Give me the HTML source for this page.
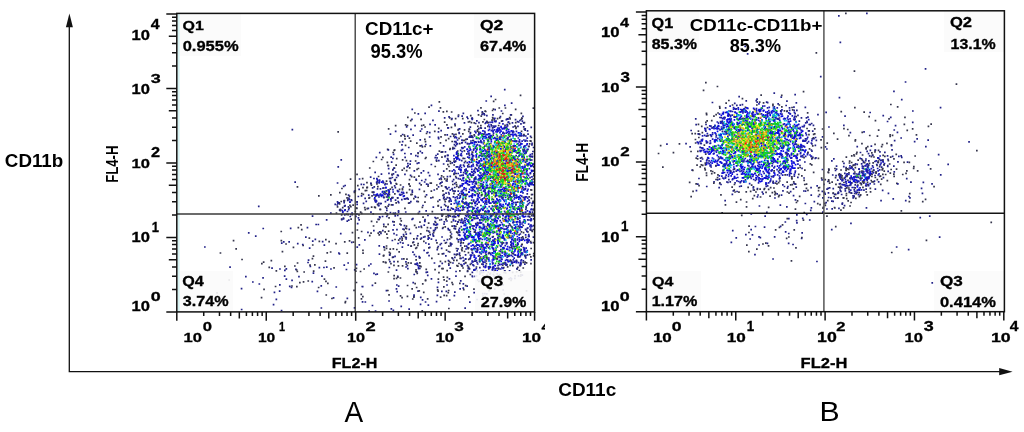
<!DOCTYPE html>
<html><head><meta charset="utf-8"><title>CD11b vs CD11c flow cytometry</title>
<style>html,body{margin:0;padding:0;background:#fff;width:1024px;height:432px;overflow:hidden}svg{display:block}</style>
</head><body>
<svg width="1024" height="432" viewBox="0 0 1024 432">
<rect width="1024" height="432" fill="#fff"/>
<clipPath id="ca"><rect x="176.8" y="13.4" width="357.8" height="298.5"/></clipPath>
<g clip-path="url(#ca)">
<path stroke="#35354c" stroke-width="1.7" d="M476.3 271.6h1.7M504.3 219.7h1.7M318.5 241.4h1.7M408.3 184.4h1.7M471.3 152.0h1.7M443.0 286.8h1.7M362.2 253.1h1.7M358.1 214.9h1.7M398.9 142.0h1.7M509.2 118.9h1.7M404.7 232.0h1.7M473.7 246.7h1.7M520.7 200.7h1.7M530.3 248.5h1.7M525.5 230.0h1.7M479.7 127.9h1.7M474.4 240.7h1.7M532.9 175.6h1.7M406.6 296.4h1.7M455.6 248.5h1.7M399.7 185.0h1.7M500.2 280.6h1.7M466.6 212.2h1.7M395.3 165.1h1.7M521.3 239.8h1.7M453.3 228.5h1.7M399.6 218.6h1.7M300.2 224.8h1.7M415.5 180.1h1.7M311.6 258.7h1.7M350.3 219.2h1.7M422.9 292.4h1.7M498.4 108.0h1.7M414.8 161.0h1.7M268.4 267.3h1.7M470.6 122.6h1.7M424.5 158.5h1.7M484.7 252.8h1.7M487.0 126.3h1.7M514.3 275.8h1.7M388.7 178.3h1.7M397.0 261.6h1.7M408.8 167.9h1.7M345.1 194.3h1.7M376.1 183.9h1.7M329.8 252.0h1.7M419.0 262.8h1.7M473.1 187.5h1.7M512.0 265.6h1.7M370.6 185.2h1.7M515.8 271.9h1.7M353.6 192.3h1.7M509.3 265.4h1.7M424.6 141.7h1.7M438.5 151.2h1.7M486.0 156.4h1.7M401.4 170.1h1.7M475.6 267.0h1.7M491.5 284.8h1.7M434.2 269.7h1.7M528.4 213.7h1.7M386.6 214.8h1.7M399.6 278.0h1.7M393.1 265.4h1.7M458.2 138.3h1.7M446.5 277.3h1.7M454.8 200.1h1.7M517.0 267.4h1.7M325.0 239.6h1.7M394.0 213.8h1.7M515.2 127.4h1.7M261.0 263.6h1.7M275.5 270.9h1.7M366.5 187.4h1.7M356.2 174.4h1.7M362.5 194.3h1.7M382.6 255.8h1.7M390.1 263.7h1.7M510.2 280.3h1.7M493.3 276.2h1.7M482.5 136.9h1.7M386.8 149.4h1.7M385.6 197.0h1.7M440.8 185.9h1.7M424.1 202.1h1.7M389.0 255.0h1.7M448.1 166.5h1.7M327.0 283.3h1.7M447.9 263.9h1.7M419.1 222.1h1.7M403.3 229.7h1.7M443.8 122.2h1.7M494.7 99.5h1.7M491.8 117.5h1.7M480.4 116.1h1.7M489.2 136.1h1.7M370.8 207.2h1.7M391.2 197.6h1.7M471.8 152.3h1.7M522.7 232.6h1.7M520.5 113.3h1.7M508.6 232.5h1.7M340.8 219.0h1.7M464.8 258.9h1.7M496.3 273.9h1.7M516.2 176.8h1.7M374.5 283.1h1.7M467.9 259.3h1.7M455.3 182.5h1.7M389.4 249.1h1.7M424.0 139.4h1.7M335.2 243.7h1.7M522.6 247.5h1.7M418.1 176.2h1.7M410.8 176.6h1.7M436.8 247.9h1.7M302.7 281.8h1.7M492.4 135.2h1.7M439.6 142.9h1.7M507.4 122.3h1.7M366.1 182.7h1.7M360.4 294.3h1.7M484.5 192.9h1.7M447.8 138.7h1.7M387.8 128.9h1.7M432.8 232.7h1.7M481.1 264.1h1.7M384.5 262.4h1.7M523.4 129.2h1.7M401.2 297.6h1.7M447.3 206.6h1.7M417.3 197.5h1.7M532.5 170.7h1.7M445.9 281.1h1.7M423.0 241.3h1.7M532.9 202.6h1.7M395.7 278.3h1.7M530.8 190.0h1.7M445.0 219.6h1.7M439.6 261.3h1.7M351.6 232.7h1.7M444.4 226.9h1.7M453.0 260.4h1.7M517.9 159.7h1.7M468.8 179.7h1.7M464.8 262.8h1.7M532.7 201.8h1.7M472.9 149.2h1.7M462.9 289.6h1.7M372.7 226.0h1.7M307.4 281.0h1.7M404.1 208.3h1.7M508.8 117.5h1.7M445.4 180.7h1.7M502.6 220.5h1.7M294.0 266.0h1.7M472.6 140.7h1.7M357.8 237.9h1.7M347.3 214.7h1.7M496.7 118.7h1.7M351.5 214.6h1.7M411.3 288.9h1.7M445.3 216.6h1.7M473.8 232.0h1.7M340.8 214.8h1.7M382.0 157.3h1.7M467.6 219.9h1.7M445.9 168.9h1.7M495.3 247.8h1.7M474.3 141.9h1.7M232.7 240.6h1.7M449.4 216.1h1.7M392.4 213.4h1.7M416.0 143.2h1.7M479.1 258.1h1.7M235.3 248.8h1.7M493.1 251.0h1.7M472.1 261.7h1.7M435.8 161.2h1.7M473.2 255.0h1.7"/>
<path stroke="#222288" stroke-width="1.7" d="M229.2 267.1h1.7M447.3 228.5h1.7M428.9 132.7h1.7M491.1 219.7h1.7M471.4 136.9h1.7M532.7 147.5h1.7M455.5 166.9h1.7M443.8 204.7h1.7M252.0 282.0h1.7M484.9 255.3h1.7M448.0 265.2h1.7M522.9 126.9h1.7M393.2 261.7h1.7M420.4 226.3h1.7M467.3 210.4h1.7M426.5 131.8h1.7M474.3 276.4h1.7M490.3 124.9h1.7M427.8 231.1h1.7M323.1 267.5h1.7M416.1 201.3h1.7M395.7 270.2h1.7M437.2 174.4h1.7M492.8 267.5h1.7M420.9 180.5h1.7M531.1 179.9h1.7M396.9 276.4h1.7M407.9 147.5h1.7M464.3 308.1h1.7M471.4 252.3h1.7M497.4 280.8h1.7M423.4 225.2h1.7M401.0 199.6h1.7M460.1 264.5h1.7M440.8 214.6h1.7M468.6 129.5h1.7M446.1 221.0h1.7M462.2 257.6h1.7M427.5 305.1h1.7M452.5 196.9h1.7M396.9 215.4h1.7M482.9 266.7h1.7M410.1 129.4h1.7M471.5 272.3h1.7M532.0 170.8h1.7M531.1 230.4h1.7M419.6 131.1h1.7M457.7 129.3h1.7M382.0 191.7h1.7M337.4 166.8h1.7M347.7 195.1h1.7M393.0 213.5h1.7M433.5 230.6h1.7M316.6 291.3h1.7M394.8 172.0h1.7M455.9 144.3h1.7M325.9 267.1h1.7M410.4 246.1h1.7M473.3 292.6h1.7M432.4 235.4h1.7M476.8 279.8h1.7M437.8 138.7h1.7M468.6 155.1h1.7M445.2 193.1h1.7M524.4 128.8h1.7M443.5 221.9h1.7M525.0 209.4h1.7M502.2 284.8h1.7M441.8 228.3h1.7M486.6 155.4h1.7M358.5 244.8h1.7M523.3 135.7h1.7M532.3 214.7h1.7M380.1 233.3h1.7M486.1 246.6h1.7M526.8 254.9h1.7M439.4 244.6h1.7M349.4 216.5h1.7M357.6 217.9h1.7M346.6 211.5h1.7M413.1 296.6h1.7M273.6 292.3h1.7M532.6 237.1h1.7M306.6 227.6h1.7M367.1 232.4h1.7M437.6 282.3h1.7M457.4 191.2h1.7M295.1 269.3h1.7M504.4 127.7h1.7M460.9 160.6h1.7M512.3 127.0h1.7M493.9 289.1h1.7M466.3 286.1h1.7M374.7 311.0h1.7M380.5 195.4h1.7M478.4 211.2h1.7M275.5 299.3h1.7M412.7 242.2h1.7M417.7 268.6h1.7M407.3 199.2h1.7M529.3 156.7h1.7M410.2 153.9h1.7M434.2 217.5h1.7M461.5 183.8h1.7M487.6 219.4h1.7M420.4 172.9h1.7M510.8 103.1h1.7M460.9 147.7h1.7M400.6 150.3h1.7M513.6 216.3h1.7M517.7 275.8h1.7M443.2 224.1h1.7M447.6 251.5h1.7M524.0 264.2h1.7M449.1 198.7h1.7M522.4 225.5h1.7M436.0 224.3h1.7M290.7 287.5h1.7M262.4 228.5h1.7M373.4 186.9h1.7M394.4 215.8h1.7M391.4 175.0h1.7M465.0 202.7h1.7M466.3 139.1h1.7M446.3 181.0h1.7M482.6 262.3h1.7M393.8 185.8h1.7M354.4 190.9h1.7M288.9 286.4h1.7M531.6 212.2h1.7M407.3 165.9h1.7M347.6 206.9h1.7M465.7 216.4h1.7M461.0 220.1h1.7M394.8 131.4h1.7M429.5 145.8h1.7M511.6 122.9h1.7M520.4 249.6h1.7M361.7 301.9h1.7M416.0 271.8h1.7M464.8 215.5h1.7M423.3 250.4h1.7M414.3 196.3h1.7M462.4 148.0h1.7M386.6 197.0h1.7M347.3 263.0h1.7M479.0 267.6h1.7M406.5 265.6h1.7M459.9 280.9h1.7M447.8 192.6h1.7M423.8 182.0h1.7M377.3 219.3h1.7M420.9 129.0h1.7M240.8 309.5h1.7M522.1 116.3h1.7M204.0 247.0h1.7M291.2 280.4h1.7M478.2 223.0h1.7M453.8 137.6h1.7M386.0 210.3h1.7M480.7 244.6h1.7M473.6 171.3h1.7M510.9 252.3h1.7M454.0 292.1h1.7M458.1 169.2h1.7M443.8 117.9h1.7M288.3 241.8h1.7M519.5 211.6h1.7M488.7 278.9h1.7M453.3 158.9h1.7M418.4 265.8h1.7M475.9 149.2h1.7M455.1 276.1h1.7M498.2 216.4h1.7M450.7 237.3h1.7M388.4 192.5h1.7M390.8 162.1h1.7M417.5 113.9h1.7M446.5 197.7h1.7M506.7 126.0h1.7M475.7 276.0h1.7M402.4 187.0h1.7"/>
<path stroke="#1c1cb0" stroke-width="1.7" d="M471.6 154.6h1.7M485.8 219.7h1.7M496.6 234.7h1.7M480.6 195.7h1.7M452.5 209.2h1.7M488.7 232.6h1.7M490.6 136.3h1.7M481.5 239.5h1.7M460.4 153.8h1.7M480.5 219.7h1.7M348.6 199.7h1.7M525.1 140.4h1.7M484.2 190.6h1.7M341.9 212.4h1.7M484.9 265.7h1.7M488.8 266.9h1.7M475.2 233.0h1.7M517.5 138.0h1.7M474.5 168.1h1.7M456.7 166.9h1.7M480.9 242.5h1.7M470.8 200.2h1.7M479.9 257.0h1.7M471.7 156.3h1.7M399.7 195.1h1.7M475.3 211.4h1.7M467.4 214.1h1.7M494.9 207.0h1.7M459.7 170.2h1.7M526.3 242.1h1.7M475.0 132.7h1.7M523.4 251.0h1.7M515.6 131.3h1.7M462.7 209.7h1.7M491.5 269.8h1.7M493.2 213.4h1.7M471.0 165.7h1.7M499.5 137.9h1.7M462.8 232.4h1.7M496.0 234.2h1.7M508.8 195.7h1.7M482.8 150.9h1.7M517.9 152.9h1.7M526.1 182.9h1.7M388.0 190.0h1.7M484.2 260.0h1.7M476.2 165.7h1.7M499.5 207.5h1.7M496.0 206.7h1.7M528.7 214.5h1.7M455.8 210.1h1.7M472.9 265.7h1.7M519.1 218.1h1.7M470.7 211.4h1.7M456.7 198.4h1.7M388.2 192.0h1.7M527.7 175.6h1.7M512.4 146.0h1.7M509.6 149.4h1.7M499.2 205.5h1.7M529.7 225.4h1.7M485.5 231.6h1.7M478.4 166.2h1.7M521.7 186.7h1.7M514.1 209.7h1.7M497.6 230.3h1.7M487.4 178.7h1.7M472.5 175.2h1.7M485.0 244.1h1.7M461.1 191.6h1.7M528.5 156.0h1.7M453.5 173.8h1.7M517.9 249.5h1.7M516.8 242.9h1.7M527.3 216.3h1.7M374.8 200.1h1.7M488.2 199.9h1.7M480.0 260.4h1.7M505.2 199.8h1.7M468.6 181.9h1.7M467.9 235.8h1.7M464.1 169.9h1.7M530.3 218.8h1.7M472.1 209.2h1.7M507.1 119.1h1.7M492.6 244.9h1.7M499.0 216.3h1.7M461.4 185.6h1.7M462.7 178.0h1.7M453.3 225.9h1.7M382.0 181.0h1.7M392.3 192.0h1.7M523.8 189.0h1.7M492.2 131.6h1.7M473.7 240.4h1.7M507.4 155.4h1.7M480.4 153.1h1.7M502.3 128.4h1.7M531.8 164.1h1.7M475.3 179.2h1.7M375.8 182.4h1.7M519.2 224.6h1.7M478.3 236.4h1.7M517.6 262.6h1.7M472.3 237.2h1.7M519.4 181.9h1.7M518.7 152.3h1.7M457.2 155.5h1.7M529.1 226.4h1.7M493.5 170.2h1.7M477.1 191.0h1.7M482.1 155.9h1.7M459.2 175.7h1.7M493.7 129.9h1.7M530.0 220.7h1.7M481.8 186.4h1.7M514.4 228.4h1.7M511.1 201.1h1.7M501.9 228.4h1.7M460.2 220.3h1.7M524.7 186.7h1.7M456.7 140.0h1.7M485.0 122.6h1.7M494.7 255.7h1.7M454.9 214.2h1.7M479.5 132.5h1.7M471.4 119.5h1.7M472.4 187.1h1.7M487.0 223.7h1.7M522.3 216.6h1.7M501.2 244.3h1.7M374.1 200.7h1.7M478.2 241.0h1.7M392.1 197.7h1.7M499.4 220.7h1.7M512.6 209.0h1.7M509.2 247.5h1.7M503.6 239.9h1.7M523.3 249.5h1.7M456.0 159.2h1.7M497.5 200.7h1.7M470.6 249.1h1.7M459.9 243.3h1.7M470.7 159.7h1.7M513.2 235.1h1.7M527.6 203.8h1.7M479.2 146.0h1.7M474.6 248.7h1.7M503.1 225.3h1.7M508.6 223.8h1.7M524.3 256.3h1.7M480.6 246.4h1.7M511.0 246.1h1.7M490.5 130.7h1.7M465.4 180.9h1.7M480.9 232.0h1.7M475.6 260.7h1.7M509.8 230.4h1.7M499.9 269.0h1.7M471.3 225.8h1.7M518.9 265.3h1.7M494.6 226.7h1.7M503.5 133.3h1.7M473.0 240.2h1.7M512.0 140.8h1.7M478.0 142.1h1.7M472.0 160.4h1.7M515.2 171.9h1.7M382.4 182.3h1.7M461.6 148.5h1.7M523.6 199.6h1.7M468.1 153.2h1.7M523.5 152.0h1.7M487.1 172.4h1.7M524.7 216.4h1.7M482.4 247.7h1.7M489.3 238.7h1.7M503.7 201.5h1.7M485.5 144.9h1.7M447.0 207.7h1.7M493.8 121.4h1.7M490.4 215.9h1.7M466.5 149.2h1.7M490.8 183.7h1.7M448.1 187.5h1.7M403.4 195.8h1.7M489.6 185.0h1.7M519.8 147.7h1.7M402.4 192.6h1.7M514.5 255.1h1.7M464.3 171.2h1.7M498.1 182.2h1.7M473.8 185.6h1.7M375.4 194.9h1.7M513.7 206.9h1.7M484.2 132.4h1.7M491.2 122.2h1.7M502.8 248.9h1.7M456.6 204.5h1.7M492.2 127.5h1.7M465.8 246.1h1.7M509.0 247.6h1.7M508.6 181.2h1.7M473.7 248.3h1.7"/>
<path stroke="#0a0ae6" stroke-width="1.7" d="M506.5 132.4h1.7M491.8 201.9h1.7M515.1 179.8h1.7M500.7 151.2h1.7M494.8 174.8h1.7M491.4 183.4h1.7M508.9 207.2h1.7M381.5 192.0h1.7M495.8 202.0h1.7M501.4 128.9h1.7M517.6 132.9h1.7M376.8 180.5h1.7M521.1 206.2h1.7M497.0 190.6h1.7M456.7 157.6h1.7M489.7 178.1h1.7M504.7 195.4h1.7M493.4 156.8h1.7M512.1 165.8h1.7M488.1 160.9h1.7M483.6 177.6h1.7M387.1 195.7h1.7M515.2 204.5h1.7M520.4 170.3h1.7M506.9 189.4h1.7M485.7 200.1h1.7M511.0 159.8h1.7M499.2 196.4h1.7M461.3 201.2h1.7M528.3 240.2h1.7M494.7 227.6h1.7M495.0 195.5h1.7M475.5 201.3h1.7M474.6 191.6h1.7M458.9 193.5h1.7M490.3 224.7h1.7M520.6 208.8h1.7M509.6 192.1h1.7M457.2 158.5h1.7M498.3 261.1h1.7M490.0 232.4h1.7M475.7 241.3h1.7M503.1 200.2h1.7M496.4 132.0h1.7M491.3 182.9h1.7M463.7 229.3h1.7M527.9 185.2h1.7M496.9 152.3h1.7M493.0 252.2h1.7M470.7 249.4h1.7M493.1 179.5h1.7M474.2 203.3h1.7M503.4 252.0h1.7M507.7 131.3h1.7M516.2 230.9h1.7M376.4 194.2h1.7M508.6 210.2h1.7M512.0 236.1h1.7M493.2 194.0h1.7M375.8 195.6h1.7M478.6 175.8h1.7M511.9 206.7h1.7M498.8 264.7h1.7M483.3 171.0h1.7M493.9 184.4h1.7M490.0 221.5h1.7M484.8 199.3h1.7M482.5 224.4h1.7M471.7 184.0h1.7M523.4 146.4h1.7M464.6 224.6h1.7M501.9 198.8h1.7M490.1 254.7h1.7M515.1 150.8h1.7M475.4 156.9h1.7M492.4 219.9h1.7M468.5 181.5h1.7M505.0 254.0h1.7M512.4 219.8h1.7M484.1 163.7h1.7M511.2 189.2h1.7M530.0 166.3h1.7M486.7 134.7h1.7M505.3 161.1h1.7M483.9 239.4h1.7M510.7 134.5h1.7M500.2 242.5h1.7M478.5 160.8h1.7M480.8 160.7h1.7M519.8 168.0h1.7M495.2 215.4h1.7M477.9 236.0h1.7M488.9 156.8h1.7M505.8 249.2h1.7M500.3 261.3h1.7M485.9 237.9h1.7M505.5 253.7h1.7M500.3 127.5h1.7M515.0 140.9h1.7M517.1 166.7h1.7M513.3 168.5h1.7M497.5 184.7h1.7M495.3 194.8h1.7M492.9 172.0h1.7M516.6 153.0h1.7M480.0 190.2h1.7M473.9 142.2h1.7M496.2 130.5h1.7M507.0 230.1h1.7M512.8 183.6h1.7M523.4 173.2h1.7M488.7 203.2h1.7M494.6 257.7h1.7M489.7 180.5h1.7M484.0 153.6h1.7M523.0 156.4h1.7M471.0 159.6h1.7M524.5 197.2h1.7M481.8 188.3h1.7M473.4 237.0h1.7M519.3 133.1h1.7M497.9 189.9h1.7M493.5 225.2h1.7M496.4 270.7h1.7M518.4 173.7h1.7M521.4 171.3h1.7M486.9 172.1h1.7M498.4 210.7h1.7M506.0 229.5h1.7M509.4 186.5h1.7M517.1 180.4h1.7M503.1 248.1h1.7M375.6 194.9h1.7M504.5 151.7h1.7M472.7 240.7h1.7M524.8 184.4h1.7M485.8 204.2h1.7M513.1 252.0h1.7M468.7 236.4h1.7M502.6 237.7h1.7M504.2 178.3h1.7M471.6 190.5h1.7M490.4 168.3h1.7M503.2 137.2h1.7M501.7 137.1h1.7M480.7 177.7h1.7M512.2 236.8h1.7M502.5 237.3h1.7M478.2 202.2h1.7M498.9 199.5h1.7M498.0 207.4h1.7M480.9 142.4h1.7M478.1 245.2h1.7M470.7 196.0h1.7M469.0 227.3h1.7M485.7 152.9h1.7M507.1 214.1h1.7M494.9 181.4h1.7M481.9 138.8h1.7M494.7 205.8h1.7M488.1 166.8h1.7M466.8 208.3h1.7M526.6 174.4h1.7M496.6 258.8h1.7M509.1 167.9h1.7M467.9 230.5h1.7M492.7 248.3h1.7M487.8 133.9h1.7"/>
<path stroke="#18b8e8" stroke-width="1.7" d="M508.8 232.8h1.7M494.4 161.7h1.7M475.3 179.3h1.7M485.4 248.5h1.7M513.0 156.4h1.7M508.0 140.3h1.7M516.2 187.7h1.7M526.0 161.1h1.7M512.7 179.8h1.7M500.3 159.8h1.7M507.5 152.6h1.7M496.7 205.9h1.7M496.7 160.9h1.7M486.3 217.5h1.7M502.8 205.5h1.7M482.1 164.5h1.7M484.5 167.5h1.7M488.7 177.5h1.7M523.9 166.1h1.7M496.4 148.7h1.7M520.2 155.2h1.7M492.5 224.7h1.7M518.5 165.6h1.7M505.2 175.9h1.7M504.9 240.1h1.7M503.8 192.7h1.7M515.7 194.9h1.7M510.4 175.6h1.7M489.1 248.8h1.7M489.2 167.0h1.7M507.9 154.8h1.7M488.3 168.9h1.7M475.3 239.4h1.7M486.4 158.3h1.7M466.3 227.4h1.7M492.3 181.6h1.7M505.0 173.2h1.7M509.8 264.3h1.7M488.8 135.6h1.7M473.3 249.7h1.7M522.3 173.8h1.7M503.5 172.8h1.7M517.5 148.8h1.7"/>
<path stroke="#18d418" stroke-width="1.7" d="M478.8 229.3h1.7M502.2 178.0h1.7M511.0 157.7h1.7M507.6 163.5h1.7M519.7 185.4h1.7M502.4 263.1h1.7M492.8 176.1h1.7M507.5 184.2h1.7M467.6 220.2h1.7M501.6 150.5h1.7M502.1 162.7h1.7M491.0 193.4h1.7M498.9 241.3h1.7M480.3 247.7h1.7M517.7 176.2h1.7M514.4 240.2h1.7M508.7 164.7h1.7M495.8 150.8h1.7M495.9 231.0h1.7M479.5 189.8h1.7M522.0 149.4h1.7M526.4 150.8h1.7M513.7 173.4h1.7M495.8 193.3h1.7M502.4 169.9h1.7M484.9 157.3h1.7M506.8 214.9h1.7M512.5 146.9h1.7M476.5 212.1h1.7M490.7 167.9h1.7M505.1 217.9h1.7M508.9 231.4h1.7M510.5 211.9h1.7M480.2 149.7h1.7M509.4 260.9h1.7M493.6 162.4h1.7M494.8 216.2h1.7M509.3 170.8h1.7M498.6 142.3h1.7M488.6 151.0h1.7M504.6 188.3h1.7M491.4 186.1h1.7M509.3 174.6h1.7M508.1 169.6h1.7M485.5 184.5h1.7M500.1 156.1h1.7M514.6 228.2h1.7M508.1 183.4h1.7M511.7 229.5h1.7M480.8 184.1h1.7M519.2 249.4h1.7M478.8 260.4h1.7M513.8 158.8h1.7M497.6 228.1h1.7M505.5 212.0h1.7M501.2 177.0h1.7M501.4 166.2h1.7M517.5 178.1h1.7M483.3 142.6h1.7M515.7 169.7h1.7M473.6 186.8h1.7M496.7 173.4h1.7M485.3 250.9h1.7M470.7 206.7h1.7M505.3 146.2h1.7M495.6 144.1h1.7M508.1 177.3h1.7M499.2 217.1h1.7M495.2 145.2h1.7M485.1 199.1h1.7M501.4 236.4h1.7M510.1 147.2h1.7M529.2 159.2h1.7M509.7 209.4h1.7M497.9 240.1h1.7M501.4 173.8h1.7M507.2 167.0h1.7M496.0 187.1h1.7M484.2 189.9h1.7M512.2 170.6h1.7M506.4 237.4h1.7M506.6 156.0h1.7M499.4 193.4h1.7M510.8 167.7h1.7M511.3 157.8h1.7M516.6 175.9h1.7M502.4 237.6h1.7M496.2 203.5h1.7M496.6 164.2h1.7M517.5 162.3h1.7M487.1 238.3h1.7M498.4 182.9h1.7M504.2 157.6h1.7M496.6 159.0h1.7M493.7 225.4h1.7M530.5 163.2h1.7M385.5 190.9h1.7M503.9 173.0h1.7M505.7 178.7h1.7M500.0 167.9h1.7M506.4 176.0h1.7M501.1 146.6h1.7M482.5 218.1h1.7M517.3 191.8h1.7M526.2 169.6h1.7M519.5 185.5h1.7M465.1 179.4h1.7M510.5 159.4h1.7M509.0 162.4h1.7M491.3 243.5h1.7M501.5 242.0h1.7M505.9 234.2h1.7M485.2 242.7h1.7M513.7 140.5h1.7M517.3 187.8h1.7M497.6 176.1h1.7M513.4 168.0h1.7M526.2 156.6h1.7M485.3 202.3h1.7M513.7 172.8h1.7M484.0 255.8h1.7M491.4 157.9h1.7M501.6 142.5h1.7M498.7 173.5h1.7M506.2 153.7h1.7M491.2 197.0h1.7M485.9 167.7h1.7M495.5 177.2h1.7M484.8 221.8h1.7M494.7 186.8h1.7M510.5 159.8h1.7M491.3 190.7h1.7M501.6 249.3h1.7M507.4 176.5h1.7M487.1 141.4h1.7M519.7 171.0h1.7M494.4 179.3h1.7"/>
<path stroke="#e6e618" stroke-width="1.7" d="M497.0 147.2h1.7M490.0 188.7h1.7M505.5 161.4h1.7M504.4 158.3h1.7M497.0 163.5h1.7M513.5 160.2h1.7M487.9 176.3h1.7M497.4 192.6h1.7M496.7 234.6h1.7M523.7 173.2h1.7M520.1 159.6h1.7M500.6 147.0h1.7M507.0 166.4h1.7M505.9 164.2h1.7M498.3 245.4h1.7M497.6 172.4h1.7M462.4 194.0h1.7M505.4 191.2h1.7M502.6 174.5h1.7M516.1 175.4h1.7M511.2 178.6h1.7M495.3 170.6h1.7M514.6 187.6h1.7M501.9 163.3h1.7M455.3 207.1h1.7M481.3 250.2h1.7M514.0 231.6h1.7M503.2 142.3h1.7M509.0 170.7h1.7M499.6 177.9h1.7M500.7 139.7h1.7M494.0 250.2h1.7M510.0 152.5h1.7M508.0 151.2h1.7M491.1 156.3h1.7M500.8 176.5h1.7M510.8 191.8h1.7M517.6 175.9h1.7M502.7 180.2h1.7M508.0 159.3h1.7M495.4 150.5h1.7M494.5 155.2h1.7M522.4 189.4h1.7M501.7 151.6h1.7"/>
<path stroke="#f49018" stroke-width="1.7" d="M499.9 143.7h1.7M512.1 146.8h1.7M479.3 238.4h1.7M507.4 157.0h1.7M522.2 200.4h1.7M495.8 176.7h1.7M483.3 148.2h1.7M497.9 175.6h1.7M486.3 151.0h1.7M508.9 190.0h1.7M499.4 231.0h1.7M501.6 193.7h1.7M507.4 159.7h1.7M497.4 181.2h1.7M499.2 158.2h1.7M511.8 150.1h1.7M502.6 147.6h1.7M495.8 170.2h1.7M498.9 179.5h1.7M499.4 156.2h1.7M511.8 189.5h1.7M507.1 160.7h1.7M506.1 174.8h1.7M470.7 219.5h1.7M485.8 162.1h1.7M509.0 175.5h1.7M492.7 177.1h1.7M496.7 182.2h1.7M522.7 161.3h1.7M497.7 196.3h1.7M493.3 156.0h1.7M487.8 170.1h1.7M509.1 165.3h1.7M498.2 158.0h1.7M512.7 190.6h1.7M507.4 168.8h1.7M509.0 172.4h1.7M528.1 163.9h1.7M504.5 174.3h1.7M504.2 191.3h1.7"/>
<path stroke="#e81818" stroke-width="1.7" d="M499.4 161.7h1.7M506.4 171.6h1.7M499.4 159.1h1.7M500.4 162.5h1.7M489.9 154.5h1.7M490.8 163.3h1.7M506.0 162.0h1.7M511.8 214.8h1.7M510.3 172.8h1.7M513.4 169.6h1.7M506.0 157.6h1.7M496.1 177.8h1.7M506.2 156.4h1.7M493.9 239.1h1.7M507.5 179.9h1.7M505.3 178.0h1.7M502.0 153.5h1.7M509.9 172.8h1.7M507.5 175.5h1.7M499.8 156.6h1.7M514.9 165.9h1.7M504.2 180.8h1.7M511.6 160.1h1.7M495.6 184.9h1.7M490.6 165.9h1.7M501.8 157.3h1.7M505.5 157.4h1.7M503.4 176.0h1.7M502.8 187.5h1.7"/>
<path stroke="#35354c" stroke-width="1.7" d="M532.9 218.8h1.7M532.6 242.7h1.7M403.5 135.0h1.7M414.0 113.0h1.7M532.9 253.6h1.7M403.0 258.8h1.7M393.3 221.9h1.7M468.1 158.0h1.7M328.3 241.6h1.7M492.2 118.3h1.7M520.6 231.8h1.7M498.9 117.8h1.7M347.1 199.3h1.7M523.6 122.6h1.7M376.7 204.3h1.7M475.8 145.5h1.7M532.8 255.8h1.7M444.2 134.8h1.7M477.9 281.5h1.7M296.0 286.7h1.7M496.6 277.3h1.7M374.5 207.6h1.7M399.7 295.9h1.7M427.3 186.2h1.7M493.1 279.3h1.7M457.7 235.0h1.7M531.4 231.3h1.7M503.9 189.4h1.7M457.2 130.0h1.7M391.1 174.3h1.7M337.3 131.8h1.7M440.8 175.9h1.7M318.0 195.8h1.7M437.5 279.1h1.7M241.2 259.5h1.7M496.1 258.4h1.7M523.5 149.2h1.7M453.2 161.1h1.7M397.9 240.2h1.7M385.7 181.2h1.7M491.7 110.5h1.7M422.2 217.1h1.7M364.4 209.7h1.7M486.2 274.6h1.7M479.3 252.7h1.7M481.9 275.5h1.7M302.3 245.5h1.7M421.6 146.9h1.7M530.0 256.8h1.7M521.5 181.2h1.7M408.7 189.6h1.7M455.9 232.1h1.7M451.3 189.1h1.7M450.7 119.5h1.7M482.2 296.1h1.7M392.3 152.5h1.7M511.8 272.3h1.7M424.7 280.0h1.7M352.6 242.1h1.7M401.4 238.3h1.7M475.7 168.8h1.7M471.0 162.1h1.7M526.9 242.0h1.7M498.3 225.3h1.7M477.0 126.3h1.7M453.5 173.4h1.7M469.9 242.7h1.7M466.7 143.7h1.7M496.5 246.9h1.7M520.5 253.3h1.7M480.0 125.7h1.7M417.4 201.7h1.7M408.7 179.7h1.7M291.1 286.0h1.7M362.1 250.4h1.7M398.7 189.3h1.7M445.2 140.4h1.7M413.0 238.9h1.7M414.9 248.3h1.7M501.3 284.4h1.7M491.2 120.2h1.7M438.2 266.4h1.7M419.9 233.8h1.7M454.9 176.6h1.7M350.0 206.7h1.7M449.7 244.2h1.7M336.7 206.8h1.7M477.7 114.8h1.7M393.9 150.0h1.7M521.3 244.4h1.7M487.4 122.6h1.7M357.0 185.7h1.7M456.8 156.4h1.7M441.1 268.7h1.7M520.4 135.9h1.7M445.8 295.6h1.7M455.0 226.4h1.7M354.5 211.5h1.7M317.8 287.5h1.7M404.7 145.3h1.7M292.6 247.3h1.7M485.0 196.2h1.7M482.1 121.8h1.7M447.4 216.9h1.7M326.4 252.8h1.7M437.9 128.3h1.7M425.7 133.5h1.7M468.4 129.0h1.7M492.6 109.2h1.7M394.8 125.7h1.7M481.2 186.4h1.7M465.1 139.3h1.7M520.9 244.7h1.7M442.5 111.8h1.7M422.8 125.1h1.7M390.6 204.8h1.7M360.8 231.5h1.7M343.9 241.9h1.7M515.8 136.0h1.7M457.7 115.0h1.7M453.1 174.3h1.7M392.0 169.5h1.7M448.9 239.0h1.7M382.9 255.4h1.7M424.2 127.0h1.7M393.3 275.6h1.7M486.0 121.3h1.7M401.6 189.6h1.7M341.9 207.7h1.7M484.3 111.2h1.7M420.7 227.5h1.7M467.6 122.0h1.7M467.4 244.4h1.7M453.1 193.6h1.7M392.5 248.8h1.7M415.1 271.6h1.7M356.1 202.0h1.7M529.0 254.5h1.7M366.0 187.6h1.7M368.2 198.2h1.7M410.1 194.7h1.7M506.8 266.9h1.7M431.5 211.7h1.7M471.2 249.9h1.7M455.3 173.5h1.7M471.6 212.4h1.7M427.3 235.8h1.7M341.1 188.5h1.7M473.9 214.6h1.7M394.0 193.8h1.7M453.5 191.3h1.7M383.6 247.7h1.7M487.4 272.4h1.7M216.2 292.9h1.7M448.5 261.7h1.7M457.6 241.9h1.7M467.3 248.7h1.7M467.8 154.0h1.7M285.2 244.0h1.7M263.2 289.4h1.7M348.7 240.8h1.7M387.3 206.2h1.7M404.0 136.5h1.7M467.8 247.8h1.7M516.0 234.0h1.7M479.2 273.4h1.7M372.5 161.5h1.7M493.9 278.8h1.7M437.5 205.7h1.7M393.2 278.7h1.7M314.0 264.9h1.7M504.2 264.2h1.7M467.9 267.6h1.7M492.6 199.6h1.7M532.5 108.1h1.7M424.5 196.7h1.7M499.8 276.9h1.7M363.3 269.0h1.7"/>
<path stroke="#222288" stroke-width="1.7" d="M356.3 204.4h1.7M408.4 229.4h1.7M407.4 245.2h1.7M484.0 293.7h1.7M340.4 159.8h1.7M348.1 198.1h1.7M384.6 201.6h1.7M438.0 160.6h1.7M469.5 231.5h1.7M492.9 240.9h1.7M350.9 242.3h1.7M516.0 261.4h1.7M468.0 222.7h1.7M457.6 178.6h1.7M381.7 216.5h1.7M330.1 269.0h1.7M428.0 244.1h1.7M337.1 203.5h1.7M443.2 197.1h1.7M378.1 197.0h1.7M426.5 272.2h1.7M388.2 301.0h1.7M404.3 157.3h1.7M511.6 131.7h1.7M393.2 225.1h1.7M323.5 245.1h1.7M449.7 243.2h1.7M425.4 272.4h1.7M419.4 139.9h1.7M425.8 184.1h1.7M338.4 202.8h1.7M425.0 144.5h1.7M459.3 288.8h1.7M505.3 226.2h1.7M437.4 246.5h1.7M514.0 197.3h1.7M430.1 197.9h1.7M530.3 259.9h1.7M378.0 205.7h1.7M378.8 231.8h1.7M445.1 187.0h1.7M378.9 152.7h1.7M422.1 205.5h1.7M459.8 150.4h1.7M521.1 118.6h1.7M502.3 290.0h1.7M364.5 302.0h1.7M501.9 214.9h1.7M512.6 253.9h1.7M532.6 215.9h1.7M492.5 241.7h1.7M488.4 235.6h1.7M314.5 239.3h1.7M466.3 117.2h1.7M358.3 219.8h1.7M356.4 247.2h1.7M451.5 188.6h1.7M522.5 260.9h1.7M422.8 237.2h1.7M406.3 166.8h1.7M472.1 264.8h1.7M531.6 194.5h1.7M440.5 243.5h1.7M434.2 221.6h1.7M411.1 119.4h1.7M458.4 133.4h1.7M472.1 228.4h1.7M392.8 154.4h1.7M465.1 196.0h1.7M483.7 114.9h1.7M458.7 253.1h1.7M510.8 200.0h1.7M280.9 243.1h1.7M453.6 144.7h1.7M429.8 228.0h1.7M379.2 209.3h1.7M446.4 134.9h1.7M396.6 190.6h1.7M515.6 260.4h1.7M455.5 254.5h1.7M444.6 151.9h1.7M511.9 132.7h1.7M405.2 267.0h1.7M491.7 127.8h1.7M421.4 152.9h1.7M380.6 174.2h1.7M401.7 149.6h1.7M428.8 137.0h1.7M529.3 212.3h1.7M343.9 214.9h1.7M387.5 149.9h1.7M342.8 186.4h1.7M489.5 273.4h1.7M430.5 164.5h1.7M435.1 225.2h1.7M445.5 242.5h1.7M417.2 291.1h1.7M526.8 165.2h1.7M433.3 224.7h1.7M397.2 243.5h1.7M486.0 293.9h1.7M470.9 118.5h1.7M475.6 183.9h1.7M435.2 155.5h1.7M307.7 260.2h1.7M429.2 124.4h1.7M279.0 284.8h1.7M517.1 126.3h1.7M435.6 160.1h1.7M448.4 197.9h1.7M386.2 184.0h1.7M437.6 137.4h1.7M499.8 255.5h1.7M378.6 180.3h1.7M394.2 256.4h1.7M445.8 188.4h1.7M415.2 256.5h1.7M505.5 242.6h1.7M496.2 220.9h1.7M528.4 216.5h1.7M404.8 228.2h1.7M415.4 264.5h1.7M375.5 157.4h1.7M367.9 195.2h1.7M505.5 119.6h1.7M376.4 274.1h1.7M490.4 226.9h1.7M413.5 254.7h1.7M390.3 157.2h1.7M452.8 179.7h1.7M510.0 245.0h1.7M378.4 245.9h1.7M427.3 239.1h1.7M437.7 186.8h1.7M458.2 132.6h1.7M465.6 172.9h1.7M356.1 214.2h1.7M418.6 189.4h1.7M525.0 136.0h1.7M453.9 187.5h1.7M455.5 177.9h1.7M373.1 178.5h1.7M355.7 264.6h1.7M410.0 201.7h1.7M437.6 131.8h1.7M527.2 134.1h1.7M441.4 263.4h1.7M385.9 208.2h1.7M474.2 178.2h1.7M480.3 271.4h1.7M474.2 211.5h1.7M397.8 286.1h1.7M447.5 127.8h1.7M373.1 273.3h1.7M455.6 207.9h1.7M532.2 209.6h1.7M430.6 278.8h1.7M481.5 111.8h1.7M516.3 269.0h1.7M468.2 146.6h1.7M416.4 163.3h1.7M506.2 119.2h1.7M382.9 224.4h1.7M466.7 143.6h1.7M458.5 204.1h1.7M435.7 301.7h1.7M517.1 229.3h1.7M474.8 261.2h1.7M401.8 141.7h1.7M470.1 141.0h1.7M478.8 175.9h1.7M472.0 137.5h1.7M476.3 204.2h1.7M368.3 311.0h1.7M379.6 188.9h1.7M518.9 239.8h1.7M459.9 136.5h1.7M496.3 209.0h1.7M390.5 308.8h1.7M477.1 110.7h1.7M488.2 211.6h1.7M515.9 141.1h1.7M464.7 254.9h1.7M440.3 130.7h1.7M458.1 231.0h1.7M457.1 248.9h1.7M412.1 218.6h1.7M392.0 158.3h1.7M343.7 206.1h1.7M406.5 198.1h1.7"/>
<path stroke="#1c1cb0" stroke-width="1.7" d="M491.9 269.3h1.7M483.8 190.1h1.7M489.2 122.3h1.7M387.3 190.0h1.7M516.5 174.7h1.7M487.7 201.9h1.7M476.6 222.7h1.7M512.6 146.4h1.7M496.2 129.8h1.7M488.8 133.8h1.7M467.7 237.4h1.7M484.3 166.1h1.7M492.8 201.7h1.7M495.2 121.0h1.7M520.1 263.1h1.7M524.2 222.9h1.7M467.8 204.4h1.7M525.5 169.2h1.7M505.8 220.5h1.7M461.9 201.6h1.7M510.6 243.9h1.7M460.4 191.6h1.7M458.7 198.1h1.7M522.8 221.6h1.7M462.3 193.7h1.7M384.9 187.6h1.7M337.3 202.9h1.7M469.8 143.4h1.7M474.4 172.4h1.7M492.6 249.6h1.7M458.8 232.1h1.7M451.7 216.6h1.7M497.4 144.3h1.7M516.3 197.3h1.7M457.0 232.6h1.7M501.5 237.6h1.7M493.8 221.7h1.7M527.0 239.1h1.7M517.0 249.4h1.7M454.0 173.0h1.7M461.4 142.5h1.7M530.6 220.0h1.7M469.2 148.3h1.7M460.9 238.8h1.7M482.9 236.4h1.7M382.1 188.2h1.7M532.0 182.0h1.7M481.3 150.9h1.7M470.9 154.2h1.7M494.0 265.5h1.7M455.4 202.0h1.7M516.4 245.7h1.7M488.4 206.6h1.7M516.6 239.8h1.7M380.7 196.3h1.7M493.2 146.6h1.7M495.5 217.0h1.7M519.8 250.6h1.7M481.8 198.9h1.7M483.0 188.4h1.7M478.8 138.7h1.7M338.8 210.2h1.7M477.3 196.6h1.7M497.5 210.2h1.7M510.3 155.4h1.7M487.8 137.5h1.7M505.7 259.6h1.7M459.4 185.6h1.7M453.0 169.9h1.7M457.4 210.5h1.7M510.3 255.4h1.7M478.9 226.6h1.7M458.0 230.1h1.7M466.0 231.1h1.7M493.9 232.4h1.7M480.3 217.4h1.7M463.1 189.4h1.7M490.0 203.2h1.7M471.3 136.6h1.7M454.3 211.7h1.7M517.9 226.4h1.7M469.3 136.1h1.7M500.6 222.5h1.7M469.1 203.2h1.7M506.1 264.7h1.7M479.1 178.5h1.7M527.8 146.5h1.7M517.2 256.8h1.7M530.4 165.9h1.7M460.7 155.7h1.7M504.2 229.2h1.7M484.1 219.6h1.7M482.5 207.6h1.7M508.1 168.3h1.7M517.2 209.1h1.7M510.4 141.0h1.7M474.5 230.2h1.7M483.4 197.8h1.7M482.0 261.7h1.7M402.7 193.5h1.7M472.7 155.8h1.7M483.6 156.3h1.7M476.5 144.6h1.7M449.7 199.6h1.7M375.1 201.7h1.7M510.2 237.9h1.7M520.4 133.9h1.7M528.2 220.0h1.7M523.2 177.0h1.7M471.5 194.5h1.7M487.5 164.4h1.7M517.2 244.3h1.7M476.9 249.8h1.7M470.9 255.2h1.7M519.9 179.9h1.7M484.6 244.2h1.7M484.7 230.5h1.7M466.0 153.9h1.7M518.2 135.5h1.7M515.2 230.4h1.7M477.0 207.6h1.7M520.4 246.1h1.7M525.3 248.1h1.7M484.0 247.6h1.7M505.9 213.9h1.7M527.7 241.8h1.7M477.3 179.7h1.7M461.0 265.4h1.7M501.1 259.5h1.7M491.6 122.4h1.7M461.0 180.4h1.7M502.9 135.4h1.7M512.5 222.5h1.7M451.4 171.2h1.7M454.9 161.0h1.7M490.9 215.9h1.7M461.5 190.3h1.7M400.8 192.3h1.7M521.5 254.5h1.7M522.2 222.3h1.7M484.6 170.6h1.7M449.4 190.1h1.7M468.9 215.8h1.7M468.2 210.8h1.7M522.9 147.2h1.7M480.3 175.2h1.7M521.0 154.0h1.7M473.7 136.0h1.7M530.6 184.3h1.7M482.4 264.5h1.7M502.7 247.7h1.7M515.5 262.6h1.7M479.1 178.3h1.7M500.0 251.6h1.7M514.8 195.2h1.7M339.8 209.5h1.7M500.0 184.3h1.7M511.0 205.6h1.7M512.8 131.8h1.7M498.2 229.4h1.7M495.2 256.1h1.7M469.4 137.2h1.7M501.8 214.0h1.7M459.4 195.8h1.7M507.2 261.6h1.7M496.9 128.0h1.7M508.3 237.7h1.7M466.9 157.2h1.7M527.8 163.8h1.7M490.8 241.9h1.7M492.6 191.8h1.7M509.3 195.6h1.7M510.3 139.3h1.7M456.0 158.3h1.7M522.3 135.7h1.7M471.0 220.5h1.7M473.3 270.0h1.7M499.0 254.7h1.7M510.4 226.3h1.7M488.9 153.8h1.7M528.1 200.1h1.7M471.5 237.3h1.7M472.6 145.6h1.7M526.4 228.4h1.7M503.3 229.3h1.7M510.0 140.0h1.7M461.2 151.6h1.7M497.7 236.6h1.7M488.0 258.0h1.7M491.8 264.0h1.7M513.3 151.3h1.7M493.9 142.5h1.7M477.5 141.6h1.7M503.6 232.3h1.7M472.5 166.0h1.7M531.1 176.9h1.7M470.6 263.3h1.7M454.2 171.0h1.7M493.7 127.1h1.7M512.4 259.8h1.7M508.4 213.7h1.7M491.8 267.6h1.7M491.0 193.4h1.7M500.5 134.9h1.7"/>
<path stroke="#0a0ae6" stroke-width="1.7" d="M517.6 253.6h1.7M482.3 228.6h1.7M501.9 235.2h1.7M530.8 183.2h1.7M495.0 163.7h1.7M515.3 164.0h1.7M529.6 172.8h1.7M503.3 146.3h1.7M485.8 226.9h1.7M482.8 216.0h1.7M482.7 235.9h1.7M478.5 180.0h1.7M483.7 164.7h1.7M519.5 195.5h1.7M519.6 160.8h1.7M489.6 137.9h1.7M478.3 238.6h1.7M526.4 177.9h1.7M490.1 135.5h1.7M516.2 248.4h1.7M511.2 219.3h1.7M482.1 246.1h1.7M512.8 208.1h1.7M476.7 169.8h1.7M487.6 162.7h1.7M517.1 143.6h1.7M496.1 162.0h1.7M482.8 159.5h1.7M388.4 191.2h1.7M522.2 181.7h1.7M528.8 211.7h1.7M514.1 250.8h1.7M525.7 171.1h1.7M502.5 225.6h1.7M510.1 161.0h1.7M494.4 178.6h1.7M498.7 187.3h1.7M455.7 154.2h1.7M498.2 176.5h1.7M518.5 241.4h1.7M518.9 220.7h1.7M485.5 171.2h1.7M516.6 158.6h1.7M523.1 169.6h1.7M525.7 239.9h1.7M515.3 197.8h1.7M506.9 183.2h1.7M484.3 155.9h1.7M477.7 194.9h1.7M493.1 166.6h1.7M508.2 182.4h1.7M494.3 215.6h1.7M486.3 228.8h1.7M503.0 141.0h1.7M471.7 219.8h1.7M488.2 200.0h1.7M474.8 212.7h1.7M485.7 137.8h1.7M503.1 194.9h1.7M500.7 181.0h1.7M496.7 234.2h1.7M508.5 255.9h1.7M504.4 142.1h1.7M491.9 255.7h1.7M477.9 185.5h1.7M500.7 206.2h1.7M455.7 152.9h1.7M521.9 161.5h1.7M507.9 255.1h1.7M492.9 188.6h1.7M495.4 167.0h1.7M499.9 204.4h1.7M485.4 233.6h1.7M508.8 233.1h1.7M468.6 157.4h1.7M528.5 168.6h1.7M519.1 135.7h1.7M486.2 234.3h1.7M462.2 178.7h1.7M509.5 145.5h1.7M513.5 177.3h1.7M484.6 169.2h1.7M485.6 251.7h1.7M478.7 197.6h1.7M499.9 246.4h1.7M493.5 239.9h1.7M487.3 148.0h1.7M456.1 158.2h1.7M478.1 162.8h1.7M473.1 239.1h1.7M508.0 158.4h1.7M518.0 165.9h1.7M517.3 255.2h1.7M523.4 219.9h1.7M477.5 175.0h1.7M468.8 173.8h1.7M510.5 180.8h1.7M496.8 218.0h1.7M477.3 195.4h1.7M500.9 191.6h1.7M489.3 264.0h1.7M492.4 158.9h1.7M463.3 229.7h1.7M489.6 174.5h1.7M520.1 186.9h1.7M472.6 245.3h1.7M478.5 155.7h1.7M503.3 153.1h1.7M496.2 206.0h1.7M519.9 187.5h1.7M492.4 266.7h1.7M497.8 239.0h1.7M494.4 265.7h1.7M472.1 215.3h1.7M513.5 262.1h1.7M498.0 171.3h1.7M485.6 176.6h1.7M517.6 206.9h1.7M506.3 139.6h1.7M463.1 240.1h1.7M502.3 204.5h1.7M524.0 220.4h1.7M476.4 251.9h1.7M490.3 226.2h1.7M499.7 212.3h1.7M497.4 140.8h1.7M513.8 186.6h1.7M502.5 195.5h1.7M470.7 166.7h1.7M475.8 188.3h1.7M466.0 203.2h1.7M519.1 203.0h1.7M512.0 184.0h1.7M462.4 192.5h1.7M478.8 252.3h1.7M519.2 222.8h1.7M470.3 187.4h1.7M496.0 198.9h1.7M509.7 236.4h1.7M496.7 167.2h1.7M493.6 153.1h1.7M385.4 193.5h1.7M488.3 252.8h1.7M505.9 168.1h1.7M508.9 152.8h1.7M515.4 202.5h1.7M489.8 146.4h1.7M502.5 237.4h1.7M483.6 159.0h1.7M529.3 165.0h1.7M478.5 145.4h1.7M482.6 202.2h1.7M482.8 158.7h1.7M472.7 217.8h1.7M491.9 252.9h1.7M500.1 228.2h1.7M490.5 171.9h1.7M531.0 166.0h1.7M500.7 186.9h1.7M469.2 233.3h1.7M489.7 154.7h1.7M519.9 174.2h1.7M511.0 239.8h1.7M517.8 197.3h1.7M489.0 224.8h1.7M491.8 248.3h1.7M501.6 224.3h1.7"/>
<path stroke="#18b8e8" stroke-width="1.7" d="M508.8 219.7h1.7M497.6 191.8h1.7M507.7 175.1h1.7M519.1 216.5h1.7M483.2 233.9h1.7M513.8 193.6h1.7M508.6 151.5h1.7M483.0 170.8h1.7M517.2 171.5h1.7M490.9 138.5h1.7M515.2 187.1h1.7M510.5 179.5h1.7M480.0 137.3h1.7M496.0 185.2h1.7M510.5 206.0h1.7M491.7 231.7h1.7M485.2 215.5h1.7M484.2 205.9h1.7M506.4 195.7h1.7M524.9 147.7h1.7M485.1 168.1h1.7M490.9 181.2h1.7M509.8 152.9h1.7M511.0 176.1h1.7M504.3 166.9h1.7M498.2 148.4h1.7M496.9 191.7h1.7M522.1 254.4h1.7M521.4 156.3h1.7M481.3 216.2h1.7M482.6 186.2h1.7M488.5 161.0h1.7M467.7 174.9h1.7M465.0 207.0h1.7M508.3 220.5h1.7M492.5 187.7h1.7M514.0 183.3h1.7M511.9 168.0h1.7M520.2 147.0h1.7M506.7 229.8h1.7M505.4 231.8h1.7M486.7 177.3h1.7M490.0 217.9h1.7M490.5 225.7h1.7M509.1 177.0h1.7M495.8 187.3h1.7M505.4 201.9h1.7M489.0 264.7h1.7M520.6 227.3h1.7M509.3 199.8h1.7M466.8 238.8h1.7M477.0 189.3h1.7M523.4 152.5h1.7"/>
<path stroke="#18d418" stroke-width="1.7" d="M506.2 169.8h1.7M489.7 176.1h1.7M492.0 214.4h1.7M519.2 150.8h1.7M508.0 232.5h1.7M487.8 141.6h1.7M484.2 136.5h1.7M507.4 147.0h1.7M515.6 187.3h1.7M497.6 144.4h1.7M508.7 169.0h1.7M483.9 186.6h1.7M497.8 148.7h1.7M509.1 161.8h1.7M521.0 209.7h1.7M519.5 176.0h1.7M509.9 200.2h1.7M514.0 181.7h1.7M478.6 240.3h1.7M500.0 229.2h1.7M528.4 159.3h1.7M501.8 149.6h1.7M490.4 166.5h1.7M496.6 154.8h1.7M506.2 154.0h1.7M520.1 181.3h1.7M383.4 192.4h1.7M491.2 170.2h1.7M490.7 152.6h1.7M516.7 187.8h1.7M499.0 156.0h1.7M499.0 201.4h1.7M504.6 164.9h1.7M490.4 171.4h1.7M483.7 214.3h1.7M481.1 242.9h1.7M486.5 139.5h1.7M515.1 169.1h1.7M507.5 212.7h1.7M483.1 147.2h1.7M516.5 247.3h1.7M479.0 172.7h1.7M493.9 192.5h1.7M502.5 140.6h1.7M493.3 179.9h1.7M499.7 157.9h1.7M510.8 179.7h1.7M463.6 202.9h1.7M488.1 178.7h1.7M476.7 235.0h1.7M487.3 172.9h1.7M490.2 147.3h1.7M514.5 248.7h1.7M512.8 189.9h1.7M506.9 177.0h1.7M508.3 161.1h1.7M507.5 160.4h1.7M491.5 205.8h1.7M507.3 184.6h1.7M494.6 150.7h1.7M495.9 175.9h1.7M487.6 229.7h1.7M510.4 193.7h1.7M507.3 221.5h1.7M512.5 196.5h1.7M509.4 141.2h1.7M521.0 211.4h1.7M482.9 208.6h1.7M502.1 172.7h1.7M500.3 180.5h1.7M489.3 145.6h1.7M495.7 169.7h1.7M499.6 191.1h1.7M496.0 261.3h1.7M490.8 177.2h1.7M510.7 180.6h1.7M495.3 157.2h1.7M512.8 222.1h1.7M497.2 180.5h1.7M499.6 168.6h1.7M498.9 163.8h1.7M509.0 153.6h1.7M524.1 172.6h1.7M493.1 194.8h1.7M507.4 179.8h1.7M499.0 191.7h1.7M505.1 154.7h1.7M521.0 173.9h1.7M492.5 208.8h1.7M515.5 208.4h1.7M464.5 197.3h1.7M482.5 206.6h1.7M500.6 161.9h1.7M490.9 188.1h1.7M510.0 161.0h1.7M486.0 170.1h1.7M509.2 171.0h1.7M494.4 171.2h1.7M516.0 146.8h1.7M486.2 188.4h1.7M499.3 257.7h1.7M502.3 145.7h1.7M517.1 164.8h1.7M493.5 189.5h1.7M498.1 226.0h1.7M508.6 142.5h1.7M498.2 160.6h1.7M491.9 168.5h1.7M500.0 190.5h1.7M510.8 147.2h1.7M495.9 245.9h1.7M487.0 220.7h1.7M473.7 217.7h1.7M505.9 173.6h1.7M506.4 177.6h1.7M511.4 251.2h1.7M505.9 145.3h1.7M495.7 225.7h1.7M497.3 162.7h1.7M481.3 168.0h1.7M479.9 163.9h1.7M515.7 185.5h1.7M494.1 141.5h1.7M510.8 162.6h1.7M497.6 254.6h1.7M528.9 163.4h1.7M489.6 223.9h1.7M499.7 187.1h1.7M485.5 233.7h1.7M524.2 169.4h1.7M495.5 164.0h1.7M518.9 165.5h1.7M493.5 244.2h1.7M517.6 171.3h1.7M498.3 157.6h1.7M503.0 152.9h1.7M493.3 203.2h1.7M516.6 228.4h1.7M497.3 179.7h1.7M494.2 226.8h1.7M507.0 172.8h1.7M505.2 139.4h1.7M512.3 214.8h1.7M510.6 176.1h1.7M498.0 196.0h1.7M484.2 236.1h1.7M517.3 180.7h1.7M509.7 171.3h1.7M495.9 166.4h1.7M505.5 143.7h1.7M514.0 171.2h1.7M512.0 151.5h1.7M466.3 228.5h1.7"/>
<path stroke="#e6e618" stroke-width="1.7" d="M497.1 137.7h1.7M507.3 157.8h1.7M505.4 145.8h1.7M503.3 171.5h1.7M493.5 161.3h1.7M493.5 215.3h1.7M480.9 257.8h1.7M490.8 167.3h1.7M492.0 177.8h1.7M512.1 162.7h1.7M503.4 181.3h1.7M491.7 197.9h1.7M501.2 149.8h1.7M498.9 155.7h1.7M505.4 163.5h1.7M510.1 178.2h1.7M507.8 144.9h1.7M508.4 147.9h1.7M512.7 165.2h1.7M505.4 162.4h1.7M513.8 219.8h1.7M501.4 152.6h1.7M511.3 157.1h1.7M518.9 208.3h1.7M487.4 149.7h1.7M502.6 161.7h1.7"/>
<path stroke="#f49018" stroke-width="1.7" d="M506.4 163.8h1.7M485.1 177.4h1.7M481.3 234.5h1.7M505.4 192.6h1.7M491.2 172.0h1.7M488.3 164.4h1.7M489.4 163.5h1.7M504.9 169.2h1.7M503.5 163.6h1.7M515.2 162.1h1.7M514.7 165.3h1.7M499.3 158.7h1.7M505.1 176.1h1.7M495.7 180.2h1.7M510.4 179.5h1.7M500.7 167.6h1.7M484.1 179.7h1.7M487.8 175.6h1.7M521.2 160.0h1.7M505.5 144.3h1.7M504.0 150.1h1.7M484.9 175.1h1.7M501.0 196.5h1.7M499.5 151.0h1.7M507.3 151.0h1.7M511.4 176.3h1.7M515.6 166.1h1.7M493.3 153.8h1.7M508.7 213.2h1.7M500.0 144.9h1.7M503.5 150.4h1.7M492.2 146.7h1.7M513.1 176.0h1.7M479.9 180.9h1.7M510.7 166.1h1.7M514.0 194.4h1.7M507.0 170.7h1.7M510.8 141.3h1.7"/>
<path stroke="#e81818" stroke-width="1.7" d="M496.1 169.5h1.7M503.0 159.3h1.7M514.2 173.9h1.7M485.4 231.4h1.7M505.1 169.9h1.7M493.2 164.8h1.7M501.0 167.8h1.7M490.6 166.1h1.7M505.5 148.1h1.7M506.2 170.5h1.7M497.6 228.3h1.7M505.3 149.4h1.7M495.0 207.9h1.7M504.8 150.3h1.7M510.8 163.7h1.7M497.0 145.2h1.7M494.0 152.0h1.7M500.8 171.5h1.7M493.4 160.8h1.7"/>
<path stroke="#35354c" stroke-width="1.7" d="M487.9 269.0h1.7M360.6 298.8h1.7M385.1 226.8h1.7M469.6 132.5h1.7M504.2 125.4h1.7M467.8 164.3h1.7M400.4 220.9h1.7M496.1 268.3h1.7M516.8 166.4h1.7M284.0 266.3h1.7M498.0 268.9h1.7M405.8 170.7h1.7M437.2 291.1h1.7M340.4 201.5h1.7M442.7 277.2h1.7M419.8 239.1h1.7M428.0 247.8h1.7M459.0 283.4h1.7M456.9 151.0h1.7M484.0 211.6h1.7M417.0 245.3h1.7M508.8 123.7h1.7M363.9 207.7h1.7M401.7 265.9h1.7M330.0 194.8h1.7M520.7 131.4h1.7M525.0 237.3h1.7M467.5 267.0h1.7M485.5 261.0h1.7M345.7 214.4h1.7M428.7 232.3h1.7M297.5 227.7h1.7M519.7 95.3h1.7M423.4 191.4h1.7M528.2 146.4h1.7M458.1 263.5h1.7M469.5 264.4h1.7M464.6 161.3h1.7M530.5 137.5h1.7M450.6 127.3h1.7M457.0 266.1h1.7M442.7 177.0h1.7M487.3 210.6h1.7M393.6 168.1h1.7M388.6 194.6h1.7M486.6 122.6h1.7M502.9 267.6h1.7M511.6 253.5h1.7M507.4 199.2h1.7M440.2 136.8h1.7M335.6 213.0h1.7M308.5 238.1h1.7M467.6 252.6h1.7M464.0 246.2h1.7M420.2 119.4h1.7M448.9 252.0h1.7M404.6 237.4h1.7M428.2 107.2h1.7M468.8 121.6h1.7M407.0 117.4h1.7M397.6 265.9h1.7M387.3 224.3h1.7M460.9 249.4h1.7M521.8 236.8h1.7M368.7 197.6h1.7M355.6 268.3h1.7M481.3 200.1h1.7M476.8 129.9h1.7M370.2 183.6h1.7M530.1 263.7h1.7M405.6 160.6h1.7M438.9 220.0h1.7M530.1 189.9h1.7M504.6 108.0h1.7M425.2 157.5h1.7M388.2 217.8h1.7M443.7 199.7h1.7M449.0 149.5h1.7M473.1 289.2h1.7M444.6 243.2h1.7M395.3 183.5h1.7M410.2 246.2h1.7M497.8 263.3h1.7M391.7 257.3h1.7M515.1 246.3h1.7M469.1 227.5h1.7M325.4 295.0h1.7M521.0 118.1h1.7M296.5 271.5h1.7M394.4 179.7h1.7M515.1 128.5h1.7M451.9 284.4h1.7M378.4 234.9h1.7M516.9 202.1h1.7M280.4 231.5h1.7M444.4 201.6h1.7M408.5 138.2h1.7M461.9 118.6h1.7M519.8 276.1h1.7M519.8 272.1h1.7M424.7 280.7h1.7M462.4 242.9h1.7M463.5 150.8h1.7M519.6 201.6h1.7M356.5 230.0h1.7M483.5 119.5h1.7M344.3 209.9h1.7M460.9 230.0h1.7M469.5 274.5h1.7M262.8 262.1h1.7M492.7 210.0h1.7M448.9 117.8h1.7M396.7 197.8h1.7M490.2 177.1h1.7M511.2 227.1h1.7M426.6 227.6h1.7M397.0 277.1h1.7M522.4 238.4h1.7M431.0 258.4h1.7M508.5 231.5h1.7M440.4 152.1h1.7M373.6 199.0h1.7M501.9 265.2h1.7M451.2 257.8h1.7M471.0 203.4h1.7M494.5 196.7h1.7M406.7 285.5h1.7M480.9 154.0h1.7M533.1 209.3h1.7M349.7 179.2h1.7M411.2 194.4h1.7M463.7 207.5h1.7M411.9 299.0h1.7M479.7 146.7h1.7M468.0 296.8h1.7M452.6 219.4h1.7M452.0 184.5h1.7M444.5 261.7h1.7M436.2 227.7h1.7M384.1 194.3h1.7M311.9 245.0h1.7M371.5 192.2h1.7M407.5 262.8h1.7M518.5 270.5h1.7M492.8 101.3h1.7M344.7 301.5h1.7M372.6 192.6h1.7M473.7 269.6h1.7M420.9 125.7h1.7M371.2 195.9h1.7M447.4 292.7h1.7M418.7 257.9h1.7M438.1 272.6h1.7M449.7 232.2h1.7M487.1 195.4h1.7M356.0 208.3h1.7M365.8 190.5h1.7M416.0 238.5h1.7M436.1 242.8h1.7M509.0 136.4h1.7M462.0 133.9h1.7M456.8 232.6h1.7M387.5 272.0h1.7M396.0 249.5h1.7M519.1 222.2h1.7M503.8 270.9h1.7M470.8 135.8h1.7M409.8 141.2h1.7M360.9 213.3h1.7M424.2 146.4h1.7M309.2 265.2h1.7M494.3 270.5h1.7M482.2 281.4h1.7M387.8 231.1h1.7M415.4 227.7h1.7M480.1 107.9h1.7M448.4 201.7h1.7M448.0 308.5h1.7M500.8 121.1h1.7M461.2 250.7h1.7M521.1 227.2h1.7M409.2 186.1h1.7M509.3 225.1h1.7"/>
<path stroke="#222288" stroke-width="1.7" d="M506.3 255.5h1.7M473.3 226.0h1.7M516.7 232.4h1.7M435.3 240.3h1.7M405.4 198.7h1.7M353.9 269.9h1.7M447.0 127.9h1.7M459.8 222.3h1.7M378.6 254.2h1.7M339.9 233.7h1.7M471.9 140.5h1.7M394.5 187.6h1.7M367.5 208.4h1.7M456.3 250.9h1.7M397.8 191.5h1.7M347.9 220.1h1.7M278.8 291.1h1.7M417.2 152.8h1.7M459.9 245.7h1.7M428.2 255.7h1.7M436.5 295.3h1.7M480.1 186.1h1.7M479.3 281.1h1.7M454.5 161.5h1.7M420.9 145.7h1.7M476.4 250.1h1.7M500.0 249.6h1.7M450.6 234.0h1.7M434.3 124.9h1.7M487.7 253.7h1.7M332.7 297.8h1.7M532.6 225.6h1.7M343.2 200.9h1.7M429.3 234.6h1.7M510.7 278.9h1.7M289.8 228.4h1.7M456.8 205.9h1.7M517.5 249.8h1.7M343.3 202.6h1.7M476.2 299.5h1.7M421.7 299.8h1.7M505.7 243.8h1.7M342.7 218.9h1.7M461.5 266.0h1.7M392.6 173.9h1.7M424.0 221.4h1.7M473.7 232.2h1.7M452.2 190.8h1.7M388.1 173.3h1.7M416.6 263.6h1.7M519.5 234.0h1.7M482.7 224.9h1.7M448.5 200.8h1.7M462.6 222.0h1.7M425.7 194.9h1.7M404.0 153.5h1.7M358.3 189.3h1.7M387.2 165.5h1.7M417.0 156.3h1.7M470.7 217.2h1.7M438.8 266.0h1.7M446.6 155.3h1.7M258.5 284.0h1.7M442.8 164.0h1.7M504.0 105.4h1.7M413.4 274.5h1.7M482.8 280.9h1.7M370.0 183.4h1.7M485.4 101.0h1.7M431.9 234.0h1.7M351.2 213.1h1.7M400.7 236.9h1.7M479.1 271.9h1.7M336.4 205.0h1.7M492.1 114.9h1.7M478.1 122.6h1.7M282.9 241.8h1.7M394.7 200.1h1.7M526.9 219.9h1.7M404.1 174.4h1.7M528.2 236.4h1.7M296.9 243.7h1.7M451.9 258.7h1.7M450.0 245.6h1.7M375.2 201.0h1.7M480.4 282.2h1.7M443.3 194.5h1.7M356.3 201.8h1.7M371.6 285.4h1.7M330.0 213.1h1.7M311.7 216.2h1.7M388.5 267.5h1.7M308.8 248.1h1.7M488.2 137.6h1.7M510.2 216.3h1.7M527.9 234.6h1.7M528.4 200.5h1.7M492.6 274.7h1.7M336.7 201.9h1.7M376.4 181.9h1.7M346.4 221.1h1.7M445.9 161.1h1.7M412.1 252.2h1.7M405.3 239.0h1.7M418.0 162.8h1.7M456.4 254.2h1.7M471.6 118.5h1.7M280.7 310.5h1.7M403.6 198.9h1.7M311.9 241.2h1.7M454.7 221.1h1.7M526.4 193.8h1.7M395.7 177.5h1.7M497.2 265.6h1.7M240.7 288.7h1.7M516.7 121.7h1.7M425.3 210.8h1.7M468.9 166.6h1.7M467.0 118.5h1.7M491.0 125.8h1.7M493.2 271.7h1.7M317.5 224.5h1.7M511.1 263.4h1.7M340.9 219.7h1.7M383.1 197.7h1.7M468.5 184.9h1.7M291.5 129.7h1.7M440.3 207.3h1.7M356.8 223.7h1.7M451.7 181.3h1.7M461.3 116.2h1.7M448.8 230.2h1.7M271.2 268.2h1.7M360.5 184.3h1.7M498.3 275.7h1.7M441.2 182.1h1.7M453.7 162.2h1.7M525.4 207.8h1.7M509.7 277.9h1.7M463.4 220.3h1.7M500.5 279.0h1.7M465.2 194.7h1.7M294.3 182.2h1.7M427.5 172.6h1.7M390.2 201.0h1.7M486.7 168.4h1.7M516.1 268.6h1.7M389.6 212.6h1.7M360.7 195.9h1.7M424.7 302.0h1.7M451.4 162.8h1.7M476.6 245.1h1.7M411.2 219.4h1.7M453.9 183.7h1.7M397.7 212.1h1.7M353.6 191.4h1.7M531.8 165.5h1.7M379.5 203.7h1.7M483.6 191.1h1.7M507.5 225.9h1.7M438.8 199.8h1.7M401.8 134.5h1.7M524.7 229.4h1.7M531.1 183.1h1.7M434.7 227.8h1.7M389.9 178.4h1.7M407.0 268.6h1.7M453.9 226.6h1.7M432.7 236.2h1.7M529.5 173.6h1.7M350.5 199.8h1.7M462.5 283.9h1.7M353.7 307.9h1.7M463.6 122.8h1.7M389.3 181.3h1.7M254.9 236.2h1.7M419.1 257.7h1.7M309.5 266.5h1.7M396.1 229.6h1.7M454.1 124.1h1.7M448.6 278.8h1.7M414.8 197.1h1.7"/>
<path stroke="#1c1cb0" stroke-width="1.7" d="M474.5 211.2h1.7M503.9 127.1h1.7M502.4 238.1h1.7M460.0 169.7h1.7M515.2 160.2h1.7M514.9 227.3h1.7M519.8 222.5h1.7M469.3 174.0h1.7M466.6 181.2h1.7M453.2 217.0h1.7M399.1 194.7h1.7M468.3 231.9h1.7M473.7 269.8h1.7M491.3 247.3h1.7M476.7 225.1h1.7M523.0 189.8h1.7M494.6 217.2h1.7M463.4 166.3h1.7M460.6 167.5h1.7M466.7 175.6h1.7M501.1 267.6h1.7M501.7 195.4h1.7M480.4 253.9h1.7M349.0 202.1h1.7M523.1 140.0h1.7M521.0 189.0h1.7M506.0 148.4h1.7M480.7 272.0h1.7M514.9 226.8h1.7M526.7 201.3h1.7M474.5 202.3h1.7M495.1 131.6h1.7M469.9 175.0h1.7M457.2 215.3h1.7M477.3 138.4h1.7M466.9 165.8h1.7M527.7 236.3h1.7M492.1 222.9h1.7M469.5 258.1h1.7M516.8 217.7h1.7M505.4 133.2h1.7M478.6 188.5h1.7M531.2 184.4h1.7M531.9 202.7h1.7M475.0 151.4h1.7M513.6 149.6h1.7M501.6 206.5h1.7M497.0 256.7h1.7M373.1 194.9h1.7M502.4 207.2h1.7M514.2 238.8h1.7M474.1 131.3h1.7M511.4 233.5h1.7M525.9 161.4h1.7M466.5 183.7h1.7M465.3 169.2h1.7M477.7 232.9h1.7M458.5 234.7h1.7M482.6 256.6h1.7M519.6 255.6h1.7M416.2 263.3h1.7M466.6 207.7h1.7M487.8 239.5h1.7M464.0 218.1h1.7M507.0 221.6h1.7M389.9 199.4h1.7M507.8 236.2h1.7M506.8 184.4h1.7M458.5 159.3h1.7M510.5 147.7h1.7M498.6 251.0h1.7M514.1 254.9h1.7M519.6 198.1h1.7M524.8 234.8h1.7M490.9 181.1h1.7M467.7 216.8h1.7M525.2 151.4h1.7M383.8 191.5h1.7M484.8 211.1h1.7M476.8 198.5h1.7M470.8 171.8h1.7M454.3 197.7h1.7M387.9 196.3h1.7M489.1 163.9h1.7M479.0 274.2h1.7M516.6 221.6h1.7M491.9 240.3h1.7M526.3 149.5h1.7M468.3 143.8h1.7M504.4 245.7h1.7M520.6 259.9h1.7M516.6 161.7h1.7M480.1 235.2h1.7M485.2 271.0h1.7M473.6 169.5h1.7M520.1 177.2h1.7M519.0 256.8h1.7M493.5 219.0h1.7M505.6 170.5h1.7M496.0 209.2h1.7M479.5 168.8h1.7M470.0 256.3h1.7M481.9 210.1h1.7M476.9 200.2h1.7M494.7 217.4h1.7M459.4 166.1h1.7M505.3 221.4h1.7M521.4 215.8h1.7M464.7 259.2h1.7M510.2 236.1h1.7M382.6 182.7h1.7M492.1 206.7h1.7M459.7 155.2h1.7M492.5 174.0h1.7M485.4 134.6h1.7M451.9 208.9h1.7M454.8 136.9h1.7M466.5 247.6h1.7M478.9 214.8h1.7M525.6 180.5h1.7M529.9 228.0h1.7M519.7 262.9h1.7M514.5 233.7h1.7M477.9 157.1h1.7M460.0 172.2h1.7M491.2 186.6h1.7M506.2 128.9h1.7M485.5 158.4h1.7M482.1 220.7h1.7M477.4 215.0h1.7M379.7 194.1h1.7M500.1 136.9h1.7M510.7 193.3h1.7M466.5 212.1h1.7M468.1 192.2h1.7M487.5 140.7h1.7M376.7 195.2h1.7M507.1 159.9h1.7M479.0 219.8h1.7M474.6 205.6h1.7M521.4 180.2h1.7M460.2 258.3h1.7M468.2 146.7h1.7M520.8 254.3h1.7M475.4 268.7h1.7M487.5 244.6h1.7M513.8 134.6h1.7M486.6 153.2h1.7M502.7 242.8h1.7M493.4 189.0h1.7M520.1 203.3h1.7M524.9 212.1h1.7M457.5 203.0h1.7M456.2 196.9h1.7M481.1 251.5h1.7M503.7 238.9h1.7M474.5 183.7h1.7M473.0 229.5h1.7M511.7 200.8h1.7M478.3 188.1h1.7M526.4 242.8h1.7M487.7 194.7h1.7M530.2 225.1h1.7M468.2 206.8h1.7M482.2 174.8h1.7M506.3 176.9h1.7M530.9 171.4h1.7M517.5 149.3h1.7M493.3 203.1h1.7M472.6 189.5h1.7M492.4 258.2h1.7M456.6 143.7h1.7M526.4 138.2h1.7M479.9 222.7h1.7M485.4 257.7h1.7M500.3 177.4h1.7M482.9 154.4h1.7M522.5 239.2h1.7M453.5 203.5h1.7M459.0 235.5h1.7M494.7 219.4h1.7M493.9 188.8h1.7M497.5 211.8h1.7M464.3 220.7h1.7M375.7 201.1h1.7M519.9 192.1h1.7M472.3 164.4h1.7M457.2 155.0h1.7M519.4 230.0h1.7M498.9 236.4h1.7M513.3 246.9h1.7M530.9 182.0h1.7M524.4 212.3h1.7M517.3 181.7h1.7M526.4 250.6h1.7M509.8 147.2h1.7"/>
<path stroke="#0a0ae6" stroke-width="1.7" d="M481.2 133.8h1.7M524.0 199.4h1.7M504.0 128.5h1.7M506.8 246.6h1.7M514.4 225.0h1.7M491.5 262.0h1.7M512.8 181.5h1.7M516.5 255.5h1.7M482.2 252.3h1.7M495.5 154.3h1.7M473.7 255.9h1.7M481.7 176.3h1.7M512.6 208.3h1.7M458.8 160.0h1.7M516.6 230.5h1.7M500.5 184.0h1.7M483.9 134.0h1.7M494.3 241.2h1.7M489.9 135.8h1.7M461.1 185.7h1.7M374.0 197.9h1.7M479.5 189.4h1.7M498.4 238.9h1.7M525.9 173.0h1.7M500.3 209.0h1.7M465.2 182.7h1.7M470.3 195.8h1.7M513.2 194.9h1.7M510.4 161.7h1.7M522.3 159.4h1.7M518.9 209.2h1.7M527.2 164.2h1.7M512.7 149.0h1.7M479.9 238.7h1.7M462.8 229.0h1.7M484.1 247.6h1.7M402.6 196.4h1.7M518.7 141.7h1.7M470.4 181.6h1.7M522.1 168.1h1.7M526.1 164.0h1.7M498.3 129.2h1.7M519.6 167.3h1.7M486.6 151.8h1.7M498.9 145.7h1.7M509.0 140.0h1.7M500.4 237.6h1.7M517.2 251.9h1.7M484.0 238.3h1.7M492.3 161.8h1.7M462.1 206.2h1.7M518.3 237.9h1.7M484.2 162.8h1.7M530.7 170.4h1.7M463.3 225.4h1.7M512.9 193.9h1.7M479.3 210.7h1.7M524.7 188.8h1.7M509.4 232.3h1.7M474.9 152.0h1.7M498.7 231.7h1.7M471.4 197.3h1.7M517.9 187.8h1.7M479.0 178.9h1.7M493.9 137.5h1.7M488.0 148.3h1.7M520.7 173.3h1.7M513.2 177.5h1.7M495.9 220.8h1.7M484.7 163.7h1.7M506.4 159.6h1.7M476.7 199.3h1.7M469.9 224.5h1.7M499.0 230.6h1.7M511.7 248.8h1.7M505.5 220.4h1.7M517.0 190.2h1.7M500.6 146.9h1.7M484.9 196.4h1.7M458.3 201.6h1.7M519.2 226.3h1.7M512.1 134.3h1.7M516.5 219.0h1.7M508.5 235.5h1.7M496.5 214.0h1.7M484.3 217.7h1.7M476.9 171.1h1.7M469.8 149.8h1.7M493.9 239.1h1.7M480.1 168.8h1.7M502.9 160.4h1.7M477.6 256.1h1.7M493.0 253.1h1.7M528.5 162.6h1.7M525.0 181.1h1.7M486.5 198.5h1.7M519.5 144.9h1.7M520.8 167.0h1.7M502.0 184.0h1.7M508.9 186.4h1.7M480.6 181.0h1.7M512.2 135.8h1.7M482.4 164.2h1.7M472.2 187.2h1.7M479.5 177.1h1.7M470.2 235.3h1.7M502.7 190.8h1.7M473.7 144.2h1.7M479.9 173.0h1.7M497.3 243.5h1.7M475.1 258.2h1.7M524.4 177.8h1.7M484.9 161.8h1.7M500.1 257.4h1.7M503.6 254.2h1.7M481.9 151.4h1.7M471.8 239.7h1.7M491.4 199.1h1.7M500.1 185.9h1.7M479.6 183.7h1.7M455.2 157.7h1.7M498.2 202.0h1.7M520.7 253.2h1.7M511.7 185.4h1.7M507.8 141.1h1.7M511.2 203.6h1.7M493.4 152.1h1.7M514.5 160.0h1.7M483.5 173.3h1.7M478.6 227.4h1.7M517.0 190.9h1.7M506.9 195.4h1.7M482.3 187.3h1.7M492.1 145.6h1.7M483.6 191.4h1.7M488.0 268.1h1.7M488.0 259.7h1.7M511.9 239.1h1.7M491.5 260.0h1.7M513.4 199.0h1.7M455.5 203.0h1.7M506.3 139.0h1.7M474.4 148.1h1.7M484.3 138.4h1.7M504.4 219.5h1.7M491.6 237.1h1.7M457.3 208.7h1.7M478.7 162.0h1.7M476.9 247.8h1.7M462.2 207.6h1.7M509.1 194.9h1.7M479.8 155.3h1.7M513.0 151.1h1.7M507.6 215.7h1.7M515.8 170.5h1.7M512.5 172.4h1.7M512.7 212.1h1.7M498.2 168.2h1.7M468.3 192.2h1.7M502.3 235.8h1.7M488.0 152.4h1.7M480.5 183.6h1.7M494.2 187.3h1.7M520.5 207.2h1.7M484.9 193.4h1.7M492.4 131.0h1.7M510.1 241.8h1.7M509.1 195.0h1.7M492.6 154.5h1.7M532.7 184.8h1.7M514.8 216.6h1.7"/>
<path stroke="#18b8e8" stroke-width="1.7" d="M494.9 193.5h1.7M497.3 207.8h1.7M498.7 261.4h1.7M486.7 177.0h1.7M497.1 158.2h1.7M486.4 231.7h1.7M492.1 224.9h1.7M491.5 242.7h1.7M530.7 181.1h1.7M502.2 137.6h1.7M501.6 148.4h1.7M473.8 235.5h1.7M484.5 174.1h1.7M520.2 167.8h1.7M468.1 233.3h1.7M498.9 245.3h1.7M509.8 211.6h1.7M496.0 138.7h1.7M517.0 179.1h1.7M516.2 173.5h1.7M485.6 185.6h1.7M509.4 209.8h1.7M506.6 145.5h1.7M498.2 173.3h1.7M523.9 181.1h1.7M512.4 204.5h1.7M496.2 225.4h1.7M506.4 253.3h1.7M490.7 185.9h1.7M504.0 191.2h1.7M500.0 183.5h1.7M510.2 161.1h1.7M491.2 191.4h1.7M472.0 240.0h1.7M512.3 138.2h1.7M511.0 188.5h1.7M490.2 226.2h1.7M517.0 172.0h1.7M482.8 156.5h1.7M509.7 221.2h1.7M480.6 252.5h1.7M462.2 197.1h1.7M512.6 167.2h1.7M519.7 159.6h1.7M489.6 159.4h1.7M522.4 161.2h1.7M379.9 195.4h1.7M519.9 153.4h1.7M496.1 168.7h1.7M506.4 176.6h1.7M492.3 226.6h1.7M526.3 183.3h1.7M516.9 190.3h1.7M510.9 148.0h1.7"/>
<path stroke="#18d418" stroke-width="1.7" d="M497.4 161.7h1.7M499.2 136.7h1.7M495.0 255.4h1.7M493.5 184.5h1.7M508.2 162.9h1.7M504.4 207.5h1.7M471.1 235.8h1.7M493.3 189.5h1.7M499.6 233.7h1.7M507.1 198.5h1.7M518.1 177.3h1.7M481.4 135.6h1.7M507.2 237.7h1.7M507.1 162.6h1.7M491.6 136.8h1.7M509.1 184.1h1.7M484.1 213.2h1.7M507.0 190.2h1.7M517.7 167.1h1.7M479.2 261.3h1.7M501.4 150.4h1.7M487.1 231.5h1.7M495.5 162.9h1.7M510.7 177.8h1.7M491.1 189.0h1.7M499.5 167.0h1.7M487.5 149.2h1.7M513.6 158.1h1.7M498.8 153.2h1.7M493.1 168.0h1.7M502.4 208.0h1.7M514.4 209.5h1.7M497.3 164.8h1.7M469.6 159.5h1.7M490.5 160.9h1.7M483.5 257.7h1.7M469.5 228.9h1.7M515.4 165.6h1.7M489.4 228.9h1.7M521.0 183.7h1.7M480.8 258.8h1.7M508.2 187.4h1.7M457.4 153.7h1.7M482.0 236.3h1.7M506.8 143.6h1.7M514.5 218.4h1.7M511.1 219.5h1.7M529.4 181.0h1.7M519.4 175.8h1.7M505.7 177.7h1.7M466.1 172.5h1.7M488.8 246.6h1.7M493.1 170.8h1.7M512.9 178.3h1.7M507.4 178.8h1.7M499.7 170.3h1.7M512.1 191.1h1.7M494.7 263.4h1.7M476.0 153.9h1.7M510.5 215.6h1.7M500.0 190.5h1.7M495.1 250.0h1.7M495.7 138.3h1.7M500.6 163.1h1.7M494.7 160.4h1.7M495.4 250.1h1.7M478.6 241.7h1.7M509.9 207.5h1.7M486.3 143.7h1.7M526.9 166.0h1.7M483.2 177.9h1.7M493.3 186.8h1.7M488.4 198.3h1.7M509.9 181.0h1.7M515.8 170.8h1.7M498.8 169.2h1.7M502.5 197.3h1.7M497.0 141.0h1.7M483.6 163.2h1.7M519.3 161.3h1.7M481.4 136.6h1.7M523.0 180.1h1.7M498.2 261.7h1.7M481.3 220.0h1.7M491.3 157.9h1.7M480.9 155.9h1.7M493.4 153.0h1.7M489.8 170.8h1.7M486.3 164.2h1.7M499.3 154.9h1.7M507.0 184.2h1.7M512.3 157.8h1.7M481.8 147.6h1.7M477.7 182.4h1.7M483.6 232.9h1.7M495.8 232.0h1.7M470.8 177.1h1.7M496.9 140.2h1.7M485.8 256.1h1.7M516.7 172.0h1.7M486.5 162.0h1.7M510.4 157.9h1.7M503.7 143.4h1.7M521.1 172.2h1.7M508.0 213.4h1.7M515.6 214.4h1.7M522.7 156.6h1.7M492.4 166.6h1.7M482.9 234.5h1.7M501.4 163.8h1.7M520.0 170.8h1.7M501.9 169.6h1.7M525.7 160.9h1.7M502.4 155.7h1.7M506.8 196.3h1.7M489.1 230.7h1.7M512.2 230.1h1.7M469.4 234.2h1.7M478.4 179.1h1.7M494.6 175.1h1.7M508.0 154.8h1.7M472.8 146.4h1.7M506.4 149.8h1.7M514.2 165.8h1.7M513.4 215.1h1.7M499.6 182.0h1.7M495.3 171.0h1.7M481.5 169.4h1.7M461.5 229.5h1.7M494.2 206.6h1.7M493.2 146.6h1.7M498.4 176.9h1.7M494.2 153.7h1.7M500.6 142.8h1.7M499.7 154.2h1.7M484.8 164.6h1.7M525.7 176.3h1.7M490.7 162.7h1.7M500.1 231.8h1.7M494.5 150.0h1.7M473.2 208.5h1.7M493.5 169.0h1.7M522.6 154.7h1.7M513.8 157.2h1.7M510.4 178.8h1.7M502.8 193.5h1.7M484.9 234.9h1.7M505.1 135.8h1.7M499.1 159.0h1.7M504.7 171.2h1.7M524.6 183.1h1.7M491.4 191.1h1.7"/>
<path stroke="#e6e618" stroke-width="1.7" d="M498.7 253.1h1.7M492.1 169.2h1.7M491.7 153.8h1.7M518.7 174.3h1.7M497.6 167.6h1.7M507.0 184.1h1.7M509.9 236.0h1.7M500.8 162.5h1.7M495.8 153.0h1.7M515.3 160.0h1.7M487.5 146.6h1.7M504.2 172.0h1.7M507.9 250.6h1.7M385.6 191.9h1.7M502.4 192.0h1.7M487.8 166.5h1.7M509.1 174.6h1.7M509.3 144.6h1.7M508.7 216.2h1.7M496.3 142.1h1.7M503.4 153.7h1.7M494.6 169.3h1.7M517.9 177.0h1.7M514.6 179.2h1.7M502.3 175.9h1.7M493.3 194.4h1.7M492.7 178.2h1.7M488.5 175.9h1.7M512.4 191.3h1.7M515.5 164.4h1.7M505.9 139.0h1.7M496.9 158.1h1.7M461.8 203.5h1.7M504.9 190.4h1.7M495.7 158.9h1.7M470.3 240.6h1.7M507.5 141.1h1.7"/>
<path stroke="#f49018" stroke-width="1.7" d="M505.3 178.8h1.7M497.4 153.3h1.7M503.2 179.2h1.7M518.3 182.2h1.7M523.4 159.9h1.7M502.1 140.6h1.7M483.5 164.5h1.7M484.4 207.3h1.7M477.5 187.4h1.7M506.0 152.9h1.7M507.4 190.4h1.7M509.1 150.1h1.7M514.2 165.7h1.7M501.3 182.9h1.7M497.5 154.3h1.7M506.2 171.7h1.7M493.4 167.7h1.7M507.8 179.7h1.7M508.0 213.6h1.7M496.9 171.9h1.7M501.1 180.2h1.7M500.2 166.8h1.7M499.4 161.3h1.7M518.5 170.6h1.7M500.2 180.2h1.7"/>
<path stroke="#e81818" stroke-width="1.7" d="M500.1 158.9h1.7M499.1 160.6h1.7M495.7 151.7h1.7M508.7 172.2h1.7M511.2 165.0h1.7M502.9 151.6h1.7M504.7 159.1h1.7M507.7 159.7h1.7M500.3 168.6h1.7M518.2 187.9h1.7M481.8 249.4h1.7M485.0 199.2h1.7M495.2 160.1h1.7M510.9 169.7h1.7M508.7 154.2h1.7M500.2 179.1h1.7M491.6 166.7h1.7M506.1 176.9h1.7M493.3 179.7h1.7M494.9 165.0h1.7M497.2 171.7h1.7M498.0 158.4h1.7M522.4 176.5h1.7M500.9 159.1h1.7M499.3 159.7h1.7M525.3 174.1h1.7M496.3 162.6h1.7"/>
<path stroke="#35354c" stroke-width="1.7" d="M476.4 131.1h1.7M376.0 222.0h1.7M454.3 125.7h1.7M484.7 202.5h1.7M520.1 274.8h1.7M405.5 264.2h1.7M415.2 269.8h1.7M447.8 160.8h1.7M443.9 178.8h1.7M387.6 165.7h1.7M529.0 217.0h1.7M456.0 186.4h1.7M413.5 244.8h1.7M429.5 183.1h1.7M312.6 256.1h1.7M400.2 135.9h1.7M460.9 219.0h1.7M401.3 240.2h1.7M458.9 213.9h1.7M391.2 187.3h1.7M442.0 214.6h1.7M444.4 156.0h1.7M449.7 235.9h1.7M455.6 254.8h1.7M386.5 162.3h1.7M442.4 227.5h1.7M445.0 187.5h1.7M433.9 131.4h1.7M451.6 133.9h1.7M451.3 226.1h1.7M447.8 290.5h1.7M405.9 192.6h1.7M464.2 276.4h1.7M339.4 210.6h1.7M403.3 168.3h1.7M333.2 267.9h1.7M436.8 289.9h1.7M458.9 143.7h1.7M481.6 112.9h1.7M382.5 261.8h1.7M504.1 262.6h1.7M520.2 119.5h1.7M496.3 284.5h1.7M324.6 261.1h1.7M458.2 214.9h1.7M482.2 173.8h1.7M510.5 114.9h1.7M459.0 270.8h1.7M483.3 172.7h1.7M270.5 260.6h1.7M476.0 159.3h1.7M510.4 261.0h1.7M532.6 209.7h1.7M385.7 246.0h1.7M530.5 198.4h1.7M442.7 194.6h1.7M312.8 271.2h1.7M395.9 158.6h1.7M383.7 250.0h1.7M473.8 178.3h1.7M458.0 187.3h1.7M443.3 295.3h1.7M360.9 193.7h1.7M459.2 255.7h1.7M391.1 197.9h1.7M509.5 260.1h1.7M506.5 125.0h1.7M413.8 225.3h1.7M386.0 234.1h1.7M362.1 187.7h1.7M439.6 107.8h1.7M477.9 132.2h1.7M451.3 141.5h1.7M303.3 272.0h1.7M385.1 262.7h1.7M339.0 192.7h1.7M300.9 229.7h1.7M456.1 265.6h1.7M425.4 269.3h1.7M485.5 263.6h1.7M434.9 222.5h1.7M516.2 152.9h1.7M389.4 253.4h1.7M514.9 122.6h1.7M488.0 188.1h1.7M416.4 273.3h1.7M296.7 263.0h1.7M353.2 290.3h1.7M467.9 131.4h1.7M366.4 208.6h1.7M410.2 263.1h1.7M274.7 286.5h1.7M446.0 111.4h1.7M394.2 239.5h1.7M463.6 140.4h1.7M464.8 198.6h1.7M522.9 170.6h1.7M501.9 143.6h1.7M477.2 223.7h1.7M219.2 298.3h1.7M457.5 194.9h1.7M464.8 285.7h1.7M519.4 265.6h1.7M404.2 138.8h1.7M280.5 240.6h1.7M527.0 231.8h1.7M522.4 268.0h1.7M497.8 125.5h1.7M219.6 253.0h1.7M517.4 256.6h1.7M449.7 163.4h1.7M450.7 222.0h1.7M386.6 237.9h1.7M299.0 282.7h1.7M461.5 194.6h1.7M463.7 251.5h1.7M414.3 283.6h1.7M492.9 231.6h1.7M421.5 207.3h1.7M448.8 170.8h1.7M384.7 213.0h1.7M466.2 205.1h1.7M503.3 272.5h1.7M413.0 297.1h1.7M436.1 188.9h1.7M469.9 115.6h1.7M466.4 194.3h1.7M439.8 297.1h1.7M519.0 210.6h1.7M409.9 120.6h1.7M388.4 259.6h1.7M447.0 164.6h1.7M377.7 176.5h1.7M377.0 186.6h1.7M443.3 279.8h1.7M532.6 229.5h1.7M483.8 226.4h1.7M393.8 180.0h1.7M476.3 193.7h1.7M488.7 234.4h1.7M523.1 134.5h1.7M461.4 247.9h1.7M361.8 178.6h1.7M489.9 143.5h1.7M380.8 159.5h1.7M348.2 208.2h1.7M450.3 237.4h1.7M359.8 212.1h1.7M389.5 189.1h1.7M348.7 196.2h1.7M442.2 268.6h1.7M521.8 212.5h1.7M456.2 238.6h1.7M430.4 183.1h1.7M504.5 252.4h1.7M496.1 258.9h1.7M493.4 119.9h1.7M504.8 272.9h1.7M406.1 259.1h1.7M486.4 180.9h1.7M501.9 218.7h1.7M522.4 262.5h1.7M515.3 222.0h1.7M295.9 270.0h1.7M403.0 236.2h1.7M437.7 254.1h1.7M393.3 150.4h1.7M514.8 109.4h1.7M370.7 221.4h1.7M377.4 233.2h1.7M465.4 190.4h1.7M415.8 247.7h1.7M434.4 166.5h1.7M489.2 138.7h1.7M323.6 279.1h1.7"/>
<path stroke="#222288" stroke-width="1.7" d="M338.0 253.0h1.7M475.9 164.7h1.7M476.3 249.0h1.7M462.5 113.3h1.7M440.9 210.1h1.7M530.4 127.4h1.7M430.6 239.1h1.7M486.0 115.7h1.7M418.0 227.0h1.7M395.6 288.9h1.7M392.5 257.1h1.7M466.7 271.5h1.7M363.0 184.5h1.7M471.3 118.0h1.7M487.9 247.9h1.7M453.6 148.3h1.7M385.9 216.5h1.7M454.7 145.8h1.7M447.0 159.3h1.7M318.5 267.6h1.7M358.7 179.0h1.7M520.1 123.9h1.7M443.5 209.5h1.7M389.1 261.7h1.7M374.3 172.4h1.7M377.4 205.4h1.7M409.6 161.2h1.7M477.6 134.9h1.7M481.0 272.6h1.7M504.1 271.1h1.7M481.9 293.6h1.7M447.6 260.7h1.7M369.8 177.1h1.7M450.3 204.2h1.7M396.7 175.2h1.7M440.8 248.4h1.7M427.2 184.7h1.7M449.4 268.1h1.7M468.7 268.9h1.7M509.8 114.8h1.7M475.3 245.9h1.7M493.1 126.2h1.7M469.2 258.8h1.7M428.8 175.7h1.7M469.0 302.1h1.7M411.4 190.3h1.7M447.6 229.6h1.7M471.7 276.6h1.7M406.9 136.2h1.7M522.7 122.9h1.7M525.3 251.8h1.7M315.3 224.5h1.7M400.4 306.4h1.7M433.4 190.0h1.7M486.0 121.8h1.7M371.6 305.5h1.7M365.4 201.3h1.7M442.9 171.1h1.7M489.7 216.3h1.7M418.6 211.6h1.7M399.1 238.6h1.7M462.8 172.6h1.7M400.1 224.8h1.7M490.3 96.4h1.7M448.3 194.0h1.7M514.2 126.2h1.7M521.6 156.3h1.7M432.1 120.4h1.7M450.6 208.2h1.7M343.4 265.1h1.7M524.3 189.5h1.7M370.0 264.0h1.7M521.5 275.1h1.7M336.7 183.0h1.7M446.6 176.7h1.7M496.4 136.0h1.7M388.1 204.6h1.7M469.5 127.1h1.7M483.3 219.1h1.7M530.2 242.8h1.7M335.4 287.0h1.7M416.8 235.8h1.7M471.4 276.0h1.7M462.4 288.2h1.7M401.1 144.9h1.7M388.8 254.8h1.7M380.3 203.5h1.7M311.4 281.6h1.7M394.5 213.1h1.7M507.3 256.5h1.7M501.7 120.9h1.7M468.4 137.1h1.7M483.8 282.5h1.7M471.8 175.1h1.7M346.9 200.4h1.7M247.9 232.8h1.7M350.8 200.5h1.7M451.9 148.9h1.7M409.7 175.4h1.7M412.3 135.2h1.7M342.6 218.1h1.7M405.4 234.1h1.7M436.6 287.3h1.7M396.0 285.0h1.7M463.1 260.5h1.7M344.3 205.6h1.7M284.0 270.4h1.7M419.0 268.5h1.7M458.7 228.3h1.7M438.7 179.2h1.7M392.0 221.6h1.7M344.3 185.5h1.7M436.4 249.6h1.7M525.4 152.4h1.7M338.6 253.8h1.7M285.5 279.1h1.7M460.9 193.8h1.7M397.7 210.9h1.7M393.2 233.6h1.7M279.1 269.0h1.7M409.6 233.4h1.7M442.1 195.5h1.7M373.0 230.6h1.7M405.1 261.9h1.7M385.6 290.6h1.7M464.1 236.7h1.7M378.7 216.8h1.7M285.5 268.8h1.7M392.5 310.4h1.7M521.9 204.1h1.7M496.6 285.5h1.7M382.8 197.0h1.7M509.4 134.6h1.7M524.3 130.2h1.7M458.4 254.5h1.7M529.7 136.3h1.7M453.8 141.6h1.7M407.0 163.7h1.7M345.6 269.5h1.7M497.7 200.5h1.7M408.3 309.1h1.7M494.2 203.0h1.7M499.6 116.7h1.7M334.4 204.4h1.7M411.5 192.1h1.7M401.1 259.0h1.7M474.8 123.5h1.7M469.4 218.0h1.7M440.6 219.6h1.7M434.4 157.6h1.7M454.0 257.3h1.7M427.1 252.5h1.7M486.2 277.9h1.7M494.4 138.5h1.7M449.4 176.3h1.7M465.3 170.4h1.7M457.5 116.4h1.7M415.9 238.6h1.7M461.0 142.9h1.7M462.5 261.0h1.7M272.7 304.6h1.7M484.5 194.8h1.7M403.6 225.7h1.7M448.2 116.9h1.7M399.6 242.4h1.7M492.4 267.9h1.7M441.0 291.4h1.7M484.3 128.1h1.7M383.0 246.8h1.7M245.0 276.7h1.7M478.8 259.5h1.7M454.9 141.7h1.7M473.8 261.1h1.7M455.2 271.5h1.7M452.1 263.0h1.7M393.1 168.1h1.7M402.2 229.1h1.7M499.0 274.8h1.7M462.7 165.2h1.7M389.6 134.1h1.7M454.2 191.1h1.7M446.6 188.8h1.7M424.8 179.7h1.7M527.0 228.0h1.7M519.1 120.5h1.7M531.2 143.4h1.7M470.4 137.1h1.7M459.4 186.6h1.7M446.6 239.7h1.7M428.9 247.4h1.7M394.3 180.4h1.7"/>
<path stroke="#1c1cb0" stroke-width="1.7" d="M503.7 211.4h1.7M482.5 270.7h1.7M523.6 252.0h1.7M477.1 218.3h1.7M475.7 225.9h1.7M390.1 198.8h1.7M378.4 182.2h1.7M470.5 190.5h1.7M510.9 197.3h1.7M461.1 140.2h1.7M494.5 205.6h1.7M510.5 245.2h1.7M486.3 187.5h1.7M489.5 267.3h1.7M499.7 139.4h1.7M511.2 262.7h1.7M454.6 200.7h1.7M504.7 216.8h1.7M464.7 142.4h1.7M513.3 258.2h1.7M463.1 239.0h1.7M508.7 247.3h1.7M463.0 203.0h1.7M525.2 255.5h1.7M500.4 196.6h1.7M483.1 140.9h1.7M502.1 123.9h1.7M490.4 244.6h1.7M467.0 151.7h1.7M460.2 240.6h1.7M502.2 268.5h1.7M494.0 118.3h1.7M466.2 230.6h1.7M488.8 126.9h1.7M473.9 215.0h1.7M459.2 239.4h1.7M492.2 214.6h1.7M459.5 197.1h1.7M466.7 171.2h1.7M518.2 145.4h1.7M473.8 269.9h1.7M527.3 240.7h1.7M457.0 221.9h1.7M471.6 188.8h1.7M510.1 242.1h1.7M473.9 202.7h1.7M513.1 158.4h1.7M475.6 251.8h1.7M347.8 209.6h1.7M479.4 148.5h1.7M488.2 201.9h1.7M525.7 196.8h1.7M484.1 229.1h1.7M501.8 197.7h1.7M512.8 202.6h1.7M470.3 142.9h1.7M465.4 202.3h1.7M479.4 210.2h1.7M417.8 267.3h1.7M485.4 172.7h1.7M473.5 190.8h1.7M526.5 205.2h1.7M476.3 162.6h1.7M376.3 179.3h1.7M491.4 252.8h1.7M486.5 194.8h1.7M500.4 264.3h1.7M476.1 215.9h1.7M478.9 246.4h1.7M416.9 265.4h1.7M508.4 216.9h1.7M466.5 215.0h1.7M500.7 157.2h1.7M526.0 231.4h1.7M487.7 130.3h1.7M487.3 140.2h1.7M522.5 151.7h1.7M478.0 167.9h1.7M498.6 123.2h1.7M524.6 196.9h1.7M478.7 261.6h1.7M489.0 169.3h1.7M494.2 252.3h1.7M456.2 151.9h1.7M527.3 184.6h1.7M525.9 145.0h1.7M490.8 229.8h1.7M492.7 245.0h1.7M480.8 232.8h1.7M504.4 217.3h1.7M379.2 195.0h1.7M531.0 226.4h1.7M531.4 156.8h1.7M471.8 253.2h1.7M480.1 199.6h1.7M487.1 224.5h1.7M476.0 188.3h1.7M517.9 196.8h1.7M487.6 266.9h1.7M524.5 162.0h1.7M515.5 135.3h1.7M514.2 261.3h1.7M464.4 222.6h1.7M471.9 158.0h1.7M472.4 182.2h1.7M505.0 263.5h1.7M526.6 210.8h1.7M507.8 122.1h1.7M472.9 173.5h1.7M392.1 189.7h1.7M482.1 245.1h1.7M508.1 161.7h1.7M498.7 234.3h1.7M458.0 210.3h1.7M509.5 196.5h1.7M495.9 178.1h1.7M474.9 177.1h1.7M516.7 239.0h1.7M487.9 225.4h1.7M481.1 156.5h1.7M505.8 127.2h1.7M498.0 143.5h1.7M485.8 202.2h1.7M486.3 258.3h1.7M530.5 219.1h1.7M523.9 250.1h1.7M460.4 226.7h1.7M489.4 253.4h1.7M504.7 263.1h1.7M482.2 264.4h1.7M512.7 240.9h1.7M508.8 143.3h1.7M349.4 202.0h1.7M507.3 137.4h1.7M470.5 175.7h1.7M465.2 249.0h1.7M514.8 202.6h1.7M488.4 241.3h1.7M508.3 219.7h1.7M486.7 244.1h1.7M495.8 213.3h1.7M478.2 212.8h1.7M507.5 191.2h1.7M469.6 255.1h1.7M487.4 192.2h1.7M494.8 126.1h1.7M474.9 214.6h1.7M492.9 256.5h1.7M523.6 197.9h1.7M501.2 198.3h1.7M518.4 222.0h1.7M471.3 261.0h1.7M512.2 131.1h1.7M480.0 140.7h1.7M378.6 180.3h1.7M494.9 121.7h1.7M502.3 263.7h1.7M521.9 166.7h1.7M467.9 222.0h1.7M476.8 264.0h1.7M463.8 146.8h1.7M386.7 194.8h1.7M510.5 216.1h1.7M465.1 188.7h1.7M498.5 139.1h1.7M466.3 235.5h1.7M499.1 129.8h1.7M524.7 162.1h1.7M475.8 149.8h1.7M455.7 137.9h1.7M475.3 142.1h1.7M462.9 180.6h1.7M510.3 198.5h1.7M487.8 156.9h1.7M524.4 174.2h1.7M518.3 234.8h1.7M447.6 210.3h1.7M478.0 170.7h1.7M466.8 177.1h1.7M518.5 164.4h1.7M527.8 224.2h1.7M482.2 184.6h1.7M498.4 181.9h1.7M514.6 241.2h1.7M530.2 209.7h1.7M507.5 232.3h1.7M520.0 264.7h1.7M506.4 124.6h1.7M466.4 237.5h1.7M484.0 203.9h1.7M475.2 218.4h1.7M498.4 128.1h1.7M492.1 263.2h1.7M528.4 186.2h1.7M482.8 191.2h1.7M457.3 173.5h1.7M485.9 185.4h1.7M500.8 259.1h1.7M509.0 213.4h1.7M386.7 200.1h1.7M499.1 260.3h1.7M463.2 263.8h1.7M487.9 160.3h1.7M512.8 246.0h1.7M471.2 143.0h1.7M490.4 139.8h1.7M503.2 128.7h1.7M459.8 165.2h1.7M459.5 207.5h1.7M520.3 135.2h1.7M475.2 182.2h1.7M498.4 257.1h1.7M488.0 211.2h1.7M472.1 181.8h1.7"/>
<path stroke="#0a0ae6" stroke-width="1.7" d="M495.5 226.6h1.7M493.3 257.5h1.7M516.2 224.4h1.7M509.8 171.7h1.7M491.8 148.7h1.7M516.0 221.9h1.7M522.4 215.0h1.7M477.4 236.5h1.7M492.3 231.8h1.7M512.8 221.9h1.7M343.9 210.3h1.7M496.5 199.8h1.7M469.5 234.0h1.7M472.7 215.1h1.7M496.8 226.0h1.7M468.4 196.3h1.7M461.3 222.3h1.7M514.3 249.1h1.7M475.3 227.7h1.7M516.5 236.5h1.7M464.1 234.7h1.7M499.6 200.9h1.7M387.6 193.5h1.7M475.7 208.6h1.7M385.1 187.7h1.7M513.5 232.8h1.7M475.4 241.7h1.7M468.4 161.9h1.7M466.5 227.7h1.7M502.2 236.4h1.7M482.7 153.9h1.7M498.0 208.3h1.7M482.1 130.9h1.7M494.8 239.5h1.7M495.4 140.2h1.7M502.3 215.6h1.7M508.3 203.2h1.7M493.7 259.0h1.7M488.7 218.2h1.7M519.2 205.6h1.7M509.5 170.3h1.7M477.2 163.3h1.7M482.1 209.8h1.7M491.4 148.3h1.7M480.5 160.5h1.7M485.8 245.7h1.7M474.2 239.9h1.7M508.3 168.7h1.7M490.5 155.6h1.7M466.1 181.2h1.7M513.2 188.6h1.7M508.9 132.0h1.7M497.6 226.3h1.7M504.7 260.5h1.7M472.6 213.8h1.7M527.4 164.6h1.7M505.6 161.0h1.7M490.4 208.3h1.7M490.5 141.7h1.7M477.3 232.5h1.7M475.5 161.8h1.7M471.9 245.2h1.7M494.1 243.2h1.7M380.7 182.1h1.7M506.9 249.4h1.7M513.4 141.4h1.7M380.6 195.3h1.7M468.2 243.6h1.7M465.1 228.5h1.7M509.0 250.3h1.7M524.2 167.0h1.7M496.6 129.4h1.7M488.4 149.2h1.7M478.1 190.1h1.7M517.3 209.1h1.7M523.3 157.9h1.7M518.3 197.2h1.7M512.5 244.2h1.7M494.2 251.1h1.7M472.9 208.2h1.7M491.8 187.9h1.7M507.2 148.0h1.7M497.8 159.3h1.7M487.5 212.1h1.7M503.2 232.0h1.7M500.3 189.5h1.7M487.5 172.7h1.7M506.0 209.0h1.7M469.4 218.0h1.7M488.3 231.5h1.7M520.3 206.1h1.7M479.5 165.1h1.7M475.7 216.2h1.7M475.6 138.3h1.7M497.2 130.7h1.7M513.6 163.0h1.7M490.4 165.1h1.7M486.5 231.6h1.7M484.6 206.9h1.7M465.7 232.1h1.7M497.0 240.8h1.7M490.6 149.1h1.7M466.3 149.5h1.7M478.0 238.8h1.7M464.6 173.3h1.7M522.5 159.1h1.7M515.0 191.1h1.7M516.8 185.8h1.7M477.4 237.5h1.7M504.7 220.5h1.7M493.7 241.3h1.7M492.7 259.8h1.7M481.9 209.3h1.7M518.0 199.2h1.7M502.1 247.8h1.7M478.2 178.6h1.7M470.8 237.2h1.7M499.4 225.0h1.7M482.5 258.4h1.7M382.0 195.2h1.7M463.3 187.8h1.7M484.6 136.7h1.7M473.4 257.1h1.7M494.6 201.3h1.7M512.7 222.2h1.7M482.7 182.4h1.7M515.8 184.7h1.7M507.0 227.5h1.7M518.1 208.1h1.7M519.8 174.9h1.7M464.0 204.0h1.7M476.7 210.2h1.7M506.8 205.6h1.7M475.2 146.7h1.7M468.8 189.3h1.7M515.9 187.6h1.7M485.7 182.6h1.7M496.0 195.5h1.7M463.4 235.3h1.7M494.5 225.9h1.7M505.0 203.8h1.7M514.5 184.3h1.7M502.0 189.1h1.7M467.6 205.4h1.7M465.7 238.3h1.7"/>
<path stroke="#18b8e8" stroke-width="1.7" d="M492.2 148.1h1.7M500.3 212.2h1.7M506.3 170.6h1.7M503.5 153.3h1.7M512.6 235.8h1.7M496.3 144.5h1.7M505.2 199.8h1.7M498.4 187.7h1.7M493.3 168.2h1.7M518.9 134.1h1.7M506.7 222.4h1.7M476.0 245.0h1.7M488.6 143.8h1.7M499.1 155.6h1.7M519.0 203.9h1.7M493.9 183.4h1.7M488.8 240.5h1.7M507.0 160.8h1.7M488.0 190.6h1.7M482.3 227.1h1.7M511.3 211.8h1.7M501.8 140.6h1.7M485.6 184.2h1.7M456.9 205.6h1.7M464.0 194.0h1.7M497.1 172.3h1.7M480.3 260.4h1.7M499.6 193.9h1.7M488.5 215.0h1.7M502.4 138.3h1.7M526.6 183.6h1.7M493.8 143.5h1.7M467.2 229.9h1.7M516.1 229.9h1.7M491.0 222.6h1.7M494.6 144.8h1.7M486.6 168.2h1.7M513.4 144.0h1.7M521.5 191.2h1.7M505.5 169.5h1.7M495.3 247.3h1.7M481.1 230.5h1.7M484.1 160.6h1.7M495.5 214.9h1.7M488.6 218.3h1.7M502.0 183.3h1.7M499.2 201.0h1.7"/>
<path stroke="#18d418" stroke-width="1.7" d="M502.5 183.6h1.7M484.1 175.4h1.7M484.1 196.2h1.7M503.1 225.2h1.7M513.9 157.0h1.7M514.8 165.7h1.7M509.0 204.7h1.7M499.0 146.2h1.7M495.4 255.2h1.7M491.0 181.5h1.7M510.1 186.5h1.7M508.3 254.4h1.7M482.5 170.4h1.7M492.4 211.1h1.7M501.5 158.6h1.7M507.8 135.1h1.7M502.8 179.2h1.7M496.4 156.4h1.7M489.3 184.2h1.7M487.4 169.3h1.7M506.1 146.3h1.7M491.2 246.0h1.7M501.8 175.8h1.7M487.8 178.7h1.7M513.2 172.4h1.7M486.1 146.5h1.7M515.0 244.7h1.7M479.6 187.7h1.7M513.1 207.4h1.7M513.5 239.0h1.7M505.7 150.0h1.7M469.1 203.1h1.7M477.0 234.0h1.7M507.5 134.5h1.7M496.8 147.0h1.7M515.9 248.0h1.7M517.1 156.8h1.7M506.6 173.5h1.7M493.5 159.0h1.7M506.9 165.7h1.7M484.4 156.0h1.7M510.8 215.2h1.7M512.1 165.3h1.7M491.8 176.8h1.7M515.2 152.1h1.7M494.7 171.9h1.7M512.3 193.1h1.7M493.4 227.7h1.7M488.3 168.4h1.7M497.5 178.4h1.7M477.3 210.7h1.7M501.4 181.4h1.7M486.4 159.1h1.7M488.4 197.2h1.7M505.8 189.4h1.7M513.3 193.5h1.7M513.7 191.6h1.7M500.6 211.6h1.7M490.3 183.8h1.7M495.3 217.0h1.7M489.0 233.8h1.7M497.7 235.8h1.7M503.2 221.0h1.7M500.3 180.3h1.7M511.3 227.7h1.7M520.2 170.9h1.7M480.2 151.8h1.7M519.4 162.0h1.7M501.5 251.3h1.7M504.2 165.8h1.7M527.5 178.9h1.7M503.6 195.6h1.7M499.6 238.4h1.7M494.2 174.7h1.7M496.8 208.1h1.7M520.3 179.2h1.7M525.3 178.7h1.7M469.7 218.2h1.7M486.1 259.1h1.7M488.2 176.5h1.7M506.4 166.1h1.7M497.5 152.1h1.7M468.3 231.5h1.7M496.4 191.0h1.7M486.0 232.1h1.7M511.8 176.3h1.7M500.7 179.7h1.7M505.8 129.2h1.7M506.5 155.4h1.7M506.3 145.8h1.7M486.8 152.4h1.7M498.1 142.3h1.7M522.4 205.5h1.7M511.1 152.8h1.7M479.6 166.2h1.7M488.5 170.7h1.7M495.4 148.0h1.7M489.0 163.2h1.7M510.1 147.4h1.7M482.9 148.5h1.7M509.0 140.2h1.7M508.5 233.4h1.7M514.3 242.0h1.7M503.8 137.3h1.7M493.0 172.8h1.7M485.4 151.5h1.7M522.4 158.4h1.7M487.5 229.8h1.7M524.8 178.7h1.7M491.5 150.6h1.7M481.4 180.0h1.7M495.8 159.9h1.7M493.3 182.3h1.7M508.9 161.0h1.7M519.9 186.8h1.7M486.1 194.2h1.7M501.8 163.4h1.7M524.4 153.6h1.7M473.4 160.9h1.7M484.9 219.4h1.7M501.3 173.7h1.7M498.4 170.4h1.7M513.3 248.3h1.7M487.5 232.9h1.7M492.2 164.6h1.7M493.9 190.8h1.7M492.4 220.4h1.7M501.7 149.1h1.7M518.7 167.8h1.7M496.1 253.9h1.7M502.4 158.8h1.7M504.4 154.9h1.7M468.8 146.9h1.7M511.0 187.8h1.7M481.5 194.4h1.7M509.4 155.9h1.7M477.7 157.4h1.7M492.0 178.3h1.7M522.1 202.8h1.7M509.2 215.8h1.7M500.9 194.7h1.7M493.1 225.0h1.7M511.1 214.9h1.7M497.0 207.3h1.7M469.0 216.7h1.7M493.8 163.8h1.7M507.8 143.7h1.7M505.0 179.6h1.7M515.4 187.8h1.7M502.4 154.7h1.7M504.0 170.7h1.7M491.0 199.6h1.7M489.1 227.5h1.7M502.4 182.0h1.7M474.6 192.3h1.7M508.8 155.6h1.7M504.6 184.2h1.7M520.4 163.1h1.7M497.9 161.4h1.7M507.5 185.2h1.7M492.8 228.6h1.7M517.4 207.8h1.7M462.1 199.2h1.7"/>
<path stroke="#e6e618" stroke-width="1.7" d="M524.2 153.5h1.7M506.6 155.2h1.7M499.0 239.0h1.7M509.5 181.0h1.7M503.1 182.8h1.7M506.7 185.6h1.7M500.8 167.1h1.7M501.3 149.6h1.7M514.9 188.6h1.7M509.9 163.6h1.7M486.7 226.6h1.7M505.6 237.0h1.7M501.2 147.7h1.7M458.2 206.2h1.7M500.6 151.2h1.7M482.2 174.0h1.7M504.6 175.9h1.7M502.7 178.9h1.7M505.3 143.5h1.7M495.2 149.2h1.7M495.5 167.0h1.7M494.3 177.7h1.7M521.5 157.8h1.7M517.1 164.5h1.7M499.0 165.1h1.7M500.0 169.0h1.7M498.5 149.4h1.7M500.7 157.9h1.7M516.6 249.2h1.7M491.1 146.4h1.7M506.1 150.8h1.7"/>
<path stroke="#f49018" stroke-width="1.7" d="M490.9 153.9h1.7M508.5 169.4h1.7M512.1 175.6h1.7M503.8 208.4h1.7M514.2 231.1h1.7M502.5 171.1h1.7M497.7 166.3h1.7M511.5 168.0h1.7M502.6 164.5h1.7M508.7 166.0h1.7M504.9 156.4h1.7M495.6 163.7h1.7M501.9 135.9h1.7M491.1 225.4h1.7M516.5 159.7h1.7M517.0 171.6h1.7M509.6 154.9h1.7M512.4 187.0h1.7M498.3 171.4h1.7M503.0 221.1h1.7M491.6 151.6h1.7M503.4 179.4h1.7M508.1 164.9h1.7M495.6 168.4h1.7M508.0 150.0h1.7M492.0 162.9h1.7M494.9 204.6h1.7M497.7 176.0h1.7M520.8 187.9h1.7M495.3 150.6h1.7M506.0 152.8h1.7M496.3 168.7h1.7M510.8 151.0h1.7M497.0 172.6h1.7M506.7 167.7h1.7M508.2 183.9h1.7M506.2 211.7h1.7M501.5 141.8h1.7M502.0 153.8h1.7M489.8 149.3h1.7M499.3 173.3h1.7"/>
<path stroke="#e81818" stroke-width="1.7" d="M511.8 172.7h1.7M506.3 162.8h1.7M502.1 155.1h1.7M494.2 161.9h1.7M516.3 164.3h1.7M514.7 181.6h1.7M498.5 172.4h1.7M486.6 149.7h1.7M510.2 193.9h1.7M521.9 173.4h1.7M496.1 155.3h1.7M509.1 160.6h1.7M495.7 163.9h1.7M493.2 160.9h1.7M514.3 148.3h1.7M510.5 173.0h1.7M507.1 162.9h1.7M502.6 155.4h1.7M496.2 143.0h1.7M517.9 169.3h1.7M500.3 164.8h1.7"/>
<path stroke="#35354c" stroke-width="1.7" d="M488.9 274.2h1.7M532.9 166.9h1.7M447.1 215.0h1.7M362.0 296.7h1.7M420.1 266.7h1.7M355.0 271.1h1.7M339.4 209.6h1.7M418.4 290.8h1.7M495.6 278.2h1.7M522.4 197.4h1.7M473.4 134.9h1.7M514.3 161.2h1.7M383.0 188.0h1.7M453.2 216.1h1.7M459.3 258.3h1.7M455.1 134.4h1.7M355.6 282.5h1.7M296.6 186.8h1.7M532.3 201.4h1.7M260.7 297.6h1.7M355.7 208.0h1.7M513.3 146.0h1.7M384.3 231.9h1.7M451.2 282.6h1.7M518.8 227.9h1.7M511.0 247.7h1.7M378.3 219.5h1.7M417.3 153.5h1.7M486.0 257.7h1.7M426.1 230.6h1.7M343.6 200.6h1.7M417.3 243.5h1.7M436.0 185.0h1.7M478.4 193.2h1.7M511.0 211.5h1.7M460.9 265.6h1.7M529.4 140.9h1.7M432.0 197.4h1.7M368.9 235.7h1.7M508.3 278.8h1.7M413.5 177.1h1.7M420.3 184.9h1.7M388.5 252.4h1.7M489.1 187.4h1.7M525.7 262.8h1.7M346.2 197.9h1.7M442.1 190.8h1.7M494.6 192.9h1.7M460.3 242.4h1.7M449.5 161.5h1.7M401.6 188.5h1.7M456.0 260.3h1.7M464.7 262.6h1.7M530.1 141.1h1.7M517.2 219.2h1.7M437.0 218.0h1.7M404.8 124.8h1.7M519.4 213.9h1.7M449.5 210.2h1.7M450.8 112.0h1.7M413.0 198.6h1.7M359.7 271.5h1.7M384.7 206.9h1.7M373.8 207.1h1.7M462.2 268.0h1.7M463.0 195.3h1.7M331.1 298.5h1.7M438.5 101.8h1.7M532.4 179.0h1.7M489.3 191.6h1.7M449.3 148.7h1.7M529.7 229.9h1.7M473.6 218.7h1.7M445.7 250.2h1.7M401.8 159.9h1.7M524.0 255.4h1.7M492.4 236.6h1.7M472.7 201.5h1.7M455.7 184.7h1.7M399.2 224.1h1.7M484.9 111.5h1.7M368.9 168.0h1.7M406.6 125.5h1.7M416.2 169.3h1.7M364.5 190.6h1.7M528.8 143.8h1.7M385.7 248.3h1.7M462.3 158.3h1.7M480.8 194.9h1.7M454.7 216.8h1.7M338.7 203.9h1.7M466.8 270.8h1.7M325.1 281.4h1.7M530.7 194.7h1.7M458.3 220.0h1.7M415.8 287.5h1.7M452.9 136.1h1.7M379.7 209.5h1.7M370.2 233.2h1.7M395.8 184.1h1.7M461.3 210.1h1.7M408.2 183.9h1.7M452.1 147.5h1.7M441.2 216.1h1.7M454.8 118.6h1.7M473.4 122.9h1.7M446.3 270.7h1.7M346.4 253.1h1.7M383.0 226.4h1.7M530.9 215.7h1.7M478.4 255.6h1.7M407.8 203.2h1.7M395.3 202.8h1.7M405.7 228.7h1.7M445.3 219.1h1.7M446.3 179.2h1.7M386.3 213.8h1.7M398.3 251.9h1.7M524.2 262.1h1.7M482.8 134.1h1.7M447.3 215.2h1.7M483.1 143.5h1.7M419.5 266.1h1.7M515.0 205.0h1.7M501.9 113.5h1.7M430.5 191.1h1.7M473.8 181.4h1.7M441.5 253.9h1.7M521.3 201.8h1.7M514.3 126.5h1.7M384.6 183.6h1.7M488.2 290.6h1.7M374.7 196.2h1.7M421.4 310.8h1.7M417.6 168.5h1.7M488.5 252.6h1.7M501.4 243.1h1.7M448.1 246.2h1.7M412.0 242.6h1.7M387.0 290.5h1.7M417.5 213.4h1.7M526.7 159.4h1.7M427.8 223.1h1.7M449.8 262.5h1.7M388.2 294.9h1.7M528.3 196.8h1.7M437.1 201.4h1.7M419.3 145.9h1.7M372.4 213.8h1.7M505.9 264.8h1.7M446.1 124.9h1.7M440.5 179.5h1.7M525.7 290.9h1.7M380.0 232.0h1.7M426.8 298.9h1.7M503.4 294.0h1.7M456.3 224.1h1.7M457.8 216.3h1.7M475.2 224.1h1.7M529.8 241.6h1.7M437.3 206.0h1.7M349.1 205.3h1.7M421.9 283.9h1.7M474.3 232.0h1.7M462.4 140.5h1.7M344.4 302.7h1.7M441.8 151.9h1.7M228.3 280.0h1.7M463.7 129.8h1.7M405.6 226.1h1.7M445.0 205.9h1.7M441.1 157.2h1.7M453.3 165.0h1.7M415.3 259.9h1.7M281.6 251.7h1.7M352.3 205.1h1.7"/>
<path stroke="#222288" stroke-width="1.7" d="M432.7 230.7h1.7M478.4 161.5h1.7M424.2 219.5h1.7M463.8 158.5h1.7M507.5 204.7h1.7M401.5 247.1h1.7M450.9 244.2h1.7M372.9 192.2h1.7M390.1 183.3h1.7M376.7 188.8h1.7M397.3 201.6h1.7M465.4 174.0h1.7M441.2 237.0h1.7M442.8 145.9h1.7M521.5 121.2h1.7M396.3 291.7h1.7M397.0 198.0h1.7M387.8 168.7h1.7M355.1 216.4h1.7M453.5 295.7h1.7M480.4 128.1h1.7M419.5 151.4h1.7M387.9 193.9h1.7M517.3 226.5h1.7M262.2 277.8h1.7M418.8 183.3h1.7M298.1 276.6h1.7M392.0 204.8h1.7M432.5 207.1h1.7M508.7 270.8h1.7M436.9 154.2h1.7M425.0 243.0h1.7M427.1 215.5h1.7M371.8 187.8h1.7M436.2 157.8h1.7M391.5 240.5h1.7M446.7 158.6h1.7M457.4 203.7h1.7M368.1 265.7h1.7M391.5 177.5h1.7M531.4 203.5h1.7M434.5 229.4h1.7M404.9 212.0h1.7M532.1 151.5h1.7M457.4 221.9h1.7M414.3 264.1h1.7M405.4 237.6h1.7M481.2 114.5h1.7M402.1 243.1h1.7M446.8 209.8h1.7M414.2 125.6h1.7M441.2 152.0h1.7M531.4 153.9h1.7M451.1 118.6h1.7M487.9 285.5h1.7M346.5 298.4h1.7M482.5 113.6h1.7M508.1 197.6h1.7M483.3 113.8h1.7M453.6 254.3h1.7M364.0 239.9h1.7M404.2 198.9h1.7M445.5 291.3h1.7M526.7 130.8h1.7M446.2 285.0h1.7M305.0 237.2h1.7M531.6 156.3h1.7M392.0 170.0h1.7M442.8 253.6h1.7M402.7 234.6h1.7M467.1 166.9h1.7M440.0 182.8h1.7M320.5 308.0h1.7M519.8 143.3h1.7M420.6 238.2h1.7M473.4 179.1h1.7M321.1 276.2h1.7M515.3 155.7h1.7M447.2 155.3h1.7M419.9 297.4h1.7M520.5 237.8h1.7M283.8 276.1h1.7M408.8 202.8h1.7M531.0 205.5h1.7M412.4 282.7h1.7M424.3 113.3h1.7M525.3 206.6h1.7M405.8 126.8h1.7M409.3 164.1h1.7M321.8 241.6h1.7M444.6 186.9h1.7M320.4 285.9h1.7M477.9 128.6h1.7M392.2 229.9h1.7M519.7 264.0h1.7M387.4 199.4h1.7M257.9 206.4h1.7M442.8 198.4h1.7M426.9 275.4h1.7M444.2 156.7h1.7M395.8 235.0h1.7M390.0 182.5h1.7M488.0 154.9h1.7M530.2 156.3h1.7M445.2 199.2h1.7M524.9 257.9h1.7M415.3 179.3h1.7M413.2 295.1h1.7M362.7 203.4h1.7M453.2 134.6h1.7M531.1 144.8h1.7M454.6 228.8h1.7M467.4 268.6h1.7M489.0 266.8h1.7M375.0 274.5h1.7M377.9 203.4h1.7M484.8 266.8h1.7M438.1 111.2h1.7M481.3 281.9h1.7M418.3 256.7h1.7M494.3 109.7h1.7M364.3 198.4h1.7M462.3 175.2h1.7M423.9 220.7h1.7M506.9 118.9h1.7M439.2 183.7h1.7M499.1 232.6h1.7M370.1 212.1h1.7M455.3 142.7h1.7M401.1 194.5h1.7M495.3 192.9h1.7M419.7 304.4h1.7M357.5 196.5h1.7M512.1 262.3h1.7M448.8 300.0h1.7M514.0 278.3h1.7M503.9 89.7h1.7M531.0 160.0h1.7M422.7 170.9h1.7M484.4 123.5h1.7M458.8 128.9h1.7M526.5 141.0h1.7M518.3 141.6h1.7M476.2 262.5h1.7M529.5 229.6h1.7M426.2 252.9h1.7M533.0 173.9h1.7M379.1 217.6h1.7M349.9 214.5h1.7M413.5 170.9h1.7M397.9 202.7h1.7M428.4 238.0h1.7M361.8 286.6h1.7M312.6 273.2h1.7M476.0 120.8h1.7M517.9 122.0h1.7M397.4 175.6h1.7M461.6 201.8h1.7M432.9 224.0h1.7M361.4 286.5h1.7M529.2 177.7h1.7M462.2 223.2h1.7M475.1 242.6h1.7M435.2 218.3h1.7M433.6 263.0h1.7M424.1 236.6h1.7M463.6 162.6h1.7M307.2 262.5h1.7M382.0 230.7h1.7M449.7 136.5h1.7M524.9 257.4h1.7M443.4 240.5h1.7M325.8 219.8h1.7M445.0 255.9h1.7M430.6 105.4h1.7M497.6 268.1h1.7M482.7 272.4h1.7M411.4 109.4h1.7M514.7 119.7h1.7M500.6 111.0h1.7M459.4 179.2h1.7M466.7 265.6h1.7M301.9 244.5h1.7M440.2 178.2h1.7M415.0 155.7h1.7"/>
<path stroke="#1c1cb0" stroke-width="1.7" d="M465.0 238.8h1.7M513.1 195.7h1.7M467.6 214.8h1.7M504.4 213.0h1.7M462.4 207.7h1.7M469.5 133.7h1.7M448.3 215.5h1.7M460.8 175.3h1.7M526.6 174.3h1.7M529.6 160.1h1.7M474.9 251.3h1.7M519.3 135.5h1.7M518.3 155.9h1.7M481.3 259.8h1.7M523.4 248.2h1.7M476.5 244.6h1.7M499.5 277.8h1.7M518.7 164.3h1.7M457.4 239.9h1.7M471.6 172.4h1.7M522.1 192.9h1.7M377.9 195.6h1.7M508.1 170.8h1.7M524.3 141.2h1.7M491.8 210.3h1.7M504.9 190.7h1.7M488.1 147.2h1.7M474.5 240.0h1.7M478.9 220.6h1.7M521.3 141.2h1.7M526.9 184.0h1.7M469.1 206.9h1.7M520.1 261.0h1.7M462.6 240.0h1.7M474.2 259.5h1.7M517.1 185.7h1.7M462.6 177.6h1.7M477.8 202.4h1.7M471.8 195.5h1.7M529.5 183.4h1.7M466.4 162.7h1.7M484.0 149.7h1.7M471.8 193.8h1.7M507.5 185.1h1.7M486.7 218.4h1.7M374.8 201.9h1.7M507.0 260.1h1.7M375.3 200.9h1.7M527.2 149.4h1.7M511.9 228.0h1.7M526.5 240.2h1.7M521.2 224.0h1.7M479.2 231.7h1.7M465.3 203.8h1.7M397.0 191.3h1.7M464.8 225.7h1.7M486.4 179.0h1.7M384.2 192.7h1.7M471.6 159.7h1.7M398.8 194.5h1.7M469.3 227.2h1.7M498.9 204.1h1.7M474.6 179.0h1.7M480.1 205.5h1.7M376.0 178.5h1.7M478.9 234.9h1.7M508.1 133.3h1.7M475.6 225.2h1.7M501.4 252.9h1.7M530.7 209.1h1.7M496.7 173.6h1.7M341.3 210.5h1.7M473.0 270.2h1.7M500.0 246.1h1.7M471.0 158.4h1.7M452.6 220.7h1.7M520.6 254.2h1.7M520.9 196.1h1.7M528.9 202.6h1.7M480.5 244.5h1.7M471.7 261.9h1.7M525.1 152.8h1.7M384.1 184.7h1.7M485.6 212.0h1.7M483.7 131.4h1.7M454.4 210.0h1.7M490.4 208.8h1.7M470.8 196.5h1.7M382.6 193.5h1.7M492.7 133.1h1.7M495.9 152.9h1.7M378.3 182.8h1.7M492.8 146.8h1.7M483.8 174.0h1.7M467.4 184.6h1.7M475.5 234.0h1.7M480.1 158.8h1.7M504.8 197.5h1.7M472.9 200.2h1.7M480.7 222.9h1.7M529.1 182.6h1.7M512.2 222.6h1.7M515.2 141.6h1.7M506.4 208.1h1.7M458.4 167.4h1.7M471.5 207.0h1.7M504.3 255.9h1.7M526.8 198.2h1.7M479.9 141.6h1.7M506.3 257.2h1.7M472.8 225.8h1.7M525.6 165.0h1.7M515.8 195.9h1.7M497.9 130.8h1.7M481.2 185.3h1.7M483.8 136.8h1.7M488.3 144.1h1.7M489.8 214.4h1.7M474.4 195.3h1.7M516.9 243.9h1.7M475.0 223.5h1.7M464.2 233.7h1.7M522.2 181.7h1.7M495.7 215.0h1.7M480.3 178.3h1.7M453.0 155.7h1.7M529.5 184.3h1.7M342.0 211.7h1.7M517.2 214.9h1.7M484.1 262.1h1.7M480.6 208.8h1.7M506.1 242.8h1.7M529.5 154.7h1.7M502.3 132.4h1.7M471.2 203.4h1.7M527.2 189.4h1.7M427.7 237.8h1.7M503.2 147.5h1.7M479.1 133.8h1.7M485.4 254.5h1.7M485.8 233.3h1.7M472.7 150.2h1.7M521.5 253.2h1.7M513.4 225.0h1.7M488.0 136.5h1.7M402.5 192.6h1.7M495.8 222.8h1.7M517.2 209.2h1.7M511.4 169.8h1.7M480.0 227.7h1.7M450.3 201.2h1.7M436.6 224.4h1.7M456.7 153.4h1.7M472.6 208.3h1.7M526.3 170.5h1.7M502.0 133.1h1.7M473.0 171.1h1.7M524.2 145.9h1.7M476.7 199.6h1.7M492.2 177.3h1.7M510.4 197.2h1.7M522.4 150.1h1.7M467.8 178.0h1.7M481.4 228.6h1.7M505.2 265.1h1.7M489.0 155.0h1.7M507.2 139.0h1.7M462.2 199.0h1.7M478.0 133.8h1.7M511.8 256.3h1.7M484.0 146.2h1.7M480.4 142.3h1.7M483.3 227.3h1.7M497.0 237.9h1.7M486.8 225.1h1.7M506.4 138.3h1.7M498.8 137.3h1.7M499.3 225.4h1.7M506.0 228.4h1.7M476.8 218.2h1.7M454.5 216.7h1.7M487.9 191.1h1.7M499.3 190.4h1.7M475.9 241.2h1.7M491.7 130.0h1.7M385.7 191.0h1.7M483.4 208.1h1.7M523.9 150.7h1.7M525.4 159.6h1.7M524.3 164.9h1.7M467.9 203.6h1.7M510.5 261.9h1.7M532.2 164.1h1.7M471.0 169.4h1.7M523.9 197.8h1.7"/>
<path stroke="#0a0ae6" stroke-width="1.7" d="M498.8 138.0h1.7M514.6 134.4h1.7M523.2 216.9h1.7M484.4 267.4h1.7M476.2 244.9h1.7M507.0 205.1h1.7M476.6 225.1h1.7M486.1 240.3h1.7M477.6 234.2h1.7M487.0 167.5h1.7M497.4 175.1h1.7M483.3 250.8h1.7M459.2 169.4h1.7M486.3 174.5h1.7M510.1 231.7h1.7M507.7 216.2h1.7M495.3 202.3h1.7M505.6 130.6h1.7M506.1 232.5h1.7M473.1 181.0h1.7M465.7 219.1h1.7M523.6 167.4h1.7M483.3 249.2h1.7M506.6 171.2h1.7M489.3 169.5h1.7M520.5 227.2h1.7M496.6 166.2h1.7M504.0 178.4h1.7M516.2 211.3h1.7M518.7 154.8h1.7M488.0 125.0h1.7M510.5 130.9h1.7M470.4 246.0h1.7M498.2 212.0h1.7M503.7 188.2h1.7M462.5 183.9h1.7M509.2 159.8h1.7M514.5 174.1h1.7M523.8 153.5h1.7M482.6 143.7h1.7M521.2 157.0h1.7M489.6 158.9h1.7M497.3 242.4h1.7M465.4 182.6h1.7M491.7 244.8h1.7M507.1 233.2h1.7M483.4 227.4h1.7M484.7 252.1h1.7M504.3 163.3h1.7M500.1 193.5h1.7M514.2 150.3h1.7M511.1 148.0h1.7M475.4 155.1h1.7M524.5 221.6h1.7M459.3 210.6h1.7M505.4 216.2h1.7M479.1 149.6h1.7M516.1 212.9h1.7M493.8 212.6h1.7M522.9 160.3h1.7M484.7 136.3h1.7M479.3 223.2h1.7M501.4 255.8h1.7M492.8 138.5h1.7M520.4 200.3h1.7M498.7 196.6h1.7M496.3 138.9h1.7M480.7 184.0h1.7M481.0 165.5h1.7M512.6 157.2h1.7M522.3 213.0h1.7M514.4 145.9h1.7M500.0 148.8h1.7M507.3 232.1h1.7M486.7 185.6h1.7M520.4 240.1h1.7M525.4 252.3h1.7M521.0 143.9h1.7M497.4 218.7h1.7M472.6 248.6h1.7M487.9 193.4h1.7M488.4 261.2h1.7M511.4 203.6h1.7M520.9 191.3h1.7M508.2 261.5h1.7M528.9 183.7h1.7M468.3 150.7h1.7M512.2 243.1h1.7M487.7 211.1h1.7M479.5 249.2h1.7M471.9 142.8h1.7M492.8 243.6h1.7M493.8 166.8h1.7M526.5 190.8h1.7M482.3 187.1h1.7M482.4 166.9h1.7M496.0 160.5h1.7M461.2 238.6h1.7M492.2 185.7h1.7M523.8 240.3h1.7M482.6 174.2h1.7M472.2 237.0h1.7M503.3 191.2h1.7M473.8 194.9h1.7M464.4 183.0h1.7M522.1 187.8h1.7M498.8 169.4h1.7M475.0 234.7h1.7M500.2 126.5h1.7M494.3 268.9h1.7M509.6 152.4h1.7M464.1 194.9h1.7M499.1 132.7h1.7M494.4 221.0h1.7M502.4 147.4h1.7M480.7 215.7h1.7M507.3 234.0h1.7M505.0 149.0h1.7M477.5 211.2h1.7M488.1 151.3h1.7M526.3 143.9h1.7M497.2 156.4h1.7M493.8 220.7h1.7M483.8 167.9h1.7M514.5 159.6h1.7M511.1 176.3h1.7M488.7 129.4h1.7M460.1 170.1h1.7M486.0 231.2h1.7M518.7 139.9h1.7M484.5 201.1h1.7M514.0 228.2h1.7M457.2 215.2h1.7M500.3 228.0h1.7M464.4 237.1h1.7M492.4 232.9h1.7M507.8 129.5h1.7M466.8 221.2h1.7M507.6 218.3h1.7M482.4 136.4h1.7M478.7 233.3h1.7M488.5 226.6h1.7M523.5 249.4h1.7M478.4 188.0h1.7M507.6 211.3h1.7M481.4 200.7h1.7M488.2 165.3h1.7M455.1 157.4h1.7M513.0 192.9h1.7M486.6 216.6h1.7M477.1 235.6h1.7M516.6 182.1h1.7M485.2 188.2h1.7M474.0 186.9h1.7M500.2 131.2h1.7M504.9 188.1h1.7M485.0 151.0h1.7M481.8 217.7h1.7M469.1 162.5h1.7"/>
<path stroke="#18b8e8" stroke-width="1.7" d="M475.4 241.0h1.7M489.3 153.7h1.7M497.7 193.6h1.7M511.0 189.0h1.7M519.6 199.8h1.7M492.9 167.6h1.7M511.0 216.3h1.7M465.8 223.9h1.7M483.8 138.2h1.7M470.1 210.5h1.7M493.2 172.7h1.7M516.7 166.4h1.7M524.0 222.3h1.7M504.6 139.8h1.7M514.6 225.2h1.7M465.4 229.5h1.7M522.9 202.8h1.7M511.8 191.7h1.7M481.4 149.8h1.7M455.8 201.7h1.7M501.5 179.5h1.7M458.7 204.1h1.7M483.6 238.6h1.7M480.9 233.6h1.7M487.7 144.9h1.7M516.7 146.9h1.7M516.7 229.6h1.7M484.6 231.3h1.7M478.1 189.8h1.7M499.0 162.3h1.7M470.3 242.0h1.7M494.0 183.1h1.7M515.1 166.9h1.7M509.7 250.4h1.7M501.6 193.5h1.7M484.8 180.9h1.7M488.8 261.4h1.7M524.6 174.1h1.7M472.3 161.7h1.7M520.6 183.2h1.7M472.8 145.4h1.7M526.3 252.1h1.7M503.0 233.4h1.7M493.3 252.9h1.7M490.9 229.7h1.7M486.4 208.6h1.7M505.7 186.6h1.7M469.0 221.3h1.7M488.6 176.3h1.7M492.3 152.9h1.7M515.6 185.8h1.7M487.5 213.3h1.7M502.1 256.9h1.7M481.4 250.1h1.7M492.0 161.7h1.7M481.7 207.4h1.7"/>
<path stroke="#18d418" stroke-width="1.7" d="M491.8 149.6h1.7M488.5 164.3h1.7M510.3 198.2h1.7M501.0 165.3h1.7M502.1 183.0h1.7M506.3 149.0h1.7M511.9 156.0h1.7M518.3 180.7h1.7M500.6 155.8h1.7M505.9 154.3h1.7M494.2 141.6h1.7M515.9 184.0h1.7M519.1 251.9h1.7M477.7 182.5h1.7M502.6 180.7h1.7M507.1 235.4h1.7M506.9 181.4h1.7M466.2 236.9h1.7M499.0 155.6h1.7M501.6 185.0h1.7M524.0 169.4h1.7M489.8 228.7h1.7M508.8 158.6h1.7M482.7 154.4h1.7M468.0 231.8h1.7M507.6 156.4h1.7M490.0 149.1h1.7M498.7 253.8h1.7M500.4 170.5h1.7M500.5 155.9h1.7M505.4 159.3h1.7M504.2 251.3h1.7M500.4 175.4h1.7M492.4 232.1h1.7M475.7 137.2h1.7M499.6 209.0h1.7M516.1 144.4h1.7M502.3 152.8h1.7M495.0 254.2h1.7M500.4 153.2h1.7M517.3 150.8h1.7M472.0 241.6h1.7M480.3 184.4h1.7M487.0 179.9h1.7M498.1 147.0h1.7M488.8 233.8h1.7M494.5 147.9h1.7M509.4 173.2h1.7M493.6 176.3h1.7M498.1 183.3h1.7M523.7 221.0h1.7M506.2 180.1h1.7M497.6 184.6h1.7M502.3 175.1h1.7M510.4 172.1h1.7M501.6 142.8h1.7M495.7 154.6h1.7M488.8 169.0h1.7M505.7 193.4h1.7M489.6 171.2h1.7M518.1 148.9h1.7M505.2 148.1h1.7M502.6 165.3h1.7M511.7 150.1h1.7M388.2 197.6h1.7M493.7 258.2h1.7M507.7 148.7h1.7M500.5 157.2h1.7M491.3 225.5h1.7M481.0 134.9h1.7M490.7 158.7h1.7M500.3 158.6h1.7M477.5 138.2h1.7M507.8 187.1h1.7M496.6 203.1h1.7M478.9 152.3h1.7M488.1 188.7h1.7M469.7 224.5h1.7M476.3 241.1h1.7M496.8 253.0h1.7M506.4 212.5h1.7M512.8 164.1h1.7M510.4 143.8h1.7M502.8 173.9h1.7M504.6 235.3h1.7M526.7 168.9h1.7M482.0 178.4h1.7M478.3 189.6h1.7M491.7 152.3h1.7M510.2 190.0h1.7M495.4 147.1h1.7M486.8 139.5h1.7M495.1 173.0h1.7M495.3 178.2h1.7M503.6 176.0h1.7M484.5 175.7h1.7M488.1 195.8h1.7M466.9 176.9h1.7M495.6 168.1h1.7M504.8 186.7h1.7M519.6 153.8h1.7M495.7 134.3h1.7M506.3 173.9h1.7M500.9 160.7h1.7M501.5 165.6h1.7M514.1 138.8h1.7M518.3 247.1h1.7M502.0 179.5h1.7M496.9 170.2h1.7M504.9 166.8h1.7M506.2 144.6h1.7M507.1 210.9h1.7M468.8 223.7h1.7M488.8 166.6h1.7M493.3 209.8h1.7M482.5 165.2h1.7M494.4 258.6h1.7M518.2 183.2h1.7M460.4 206.2h1.7M516.2 170.3h1.7M520.2 206.2h1.7M524.2 183.9h1.7M520.2 178.4h1.7M502.1 163.6h1.7M496.5 253.6h1.7M499.2 195.6h1.7M488.7 239.9h1.7M494.0 186.6h1.7M515.0 161.1h1.7M522.2 207.0h1.7M497.2 239.5h1.7M500.7 185.9h1.7M515.1 233.1h1.7M481.0 180.4h1.7M502.5 172.0h1.7M471.6 210.8h1.7M492.4 181.9h1.7M519.1 154.5h1.7M503.5 192.8h1.7M476.2 148.1h1.7M511.2 187.3h1.7M499.3 145.5h1.7M498.4 162.4h1.7M508.5 168.1h1.7M502.5 164.3h1.7M480.7 192.4h1.7M507.7 194.0h1.7M490.1 176.8h1.7M486.5 232.9h1.7M478.9 146.6h1.7M503.7 167.8h1.7M498.6 169.0h1.7M498.3 167.4h1.7M486.0 153.9h1.7"/>
<path stroke="#e6e618" stroke-width="1.7" d="M498.7 151.9h1.7M479.0 189.5h1.7M502.0 147.2h1.7M497.1 171.9h1.7M501.5 175.5h1.7M496.4 168.5h1.7M497.0 181.4h1.7M500.7 145.0h1.7M487.4 164.5h1.7M481.9 233.7h1.7M499.5 232.7h1.7M515.9 168.6h1.7M507.3 152.7h1.7M504.9 182.9h1.7M511.6 165.2h1.7M524.6 164.3h1.7M495.3 159.6h1.7M508.4 233.6h1.7M494.3 162.0h1.7M509.0 172.3h1.7M509.9 154.0h1.7M516.0 183.7h1.7M513.6 161.3h1.7M499.1 163.8h1.7M516.0 171.9h1.7M518.7 169.1h1.7M503.7 183.4h1.7M507.0 165.2h1.7M510.7 178.1h1.7M477.0 185.5h1.7M483.7 143.7h1.7M491.3 175.0h1.7M495.7 256.7h1.7M494.8 240.3h1.7M509.9 175.3h1.7M489.9 144.5h1.7M505.8 144.6h1.7M510.1 142.8h1.7M493.9 160.0h1.7"/>
<path stroke="#f49018" stroke-width="1.7" d="M500.1 176.5h1.7M510.8 164.3h1.7M483.2 162.0h1.7M517.3 175.7h1.7M515.6 190.3h1.7M487.5 163.5h1.7M509.3 217.8h1.7M497.8 156.7h1.7M506.6 237.5h1.7M487.2 242.9h1.7M510.3 179.4h1.7M507.6 158.9h1.7M524.0 159.5h1.7M515.4 163.9h1.7M511.4 147.6h1.7M486.0 159.7h1.7M507.0 165.5h1.7M506.2 155.0h1.7M515.5 176.6h1.7M490.0 184.0h1.7M496.8 164.2h1.7M498.8 161.8h1.7M507.2 161.0h1.7M509.1 189.8h1.7M496.5 147.4h1.7M473.5 159.9h1.7M510.8 217.1h1.7M493.8 159.3h1.7M509.9 185.4h1.7M497.6 159.3h1.7M494.1 161.9h1.7M499.0 158.3h1.7M512.8 188.5h1.7"/>
<path stroke="#e81818" stroke-width="1.7" d="M504.2 179.6h1.7M501.4 173.4h1.7M501.8 163.8h1.7M500.5 177.3h1.7M502.8 177.2h1.7M503.3 155.4h1.7M499.0 154.7h1.7M502.4 167.7h1.7M483.1 165.9h1.7M501.8 170.1h1.7M503.6 173.8h1.7M504.1 159.5h1.7M503.1 177.1h1.7M502.5 174.1h1.7M491.5 162.3h1.7M498.8 156.9h1.7M495.9 182.9h1.7M502.3 170.9h1.7M512.3 168.4h1.7M504.9 158.9h1.7M510.9 171.1h1.7M521.2 210.3h1.7M501.8 170.2h1.7M498.8 168.9h1.7M516.2 166.6h1.7M491.1 163.3h1.7M488.9 174.2h1.7M504.3 168.5h1.7M505.2 158.7h1.7M496.0 169.4h1.7M511.9 166.2h1.7"/>
<rect x="177.0" y="14.0" width="64.0" height="42.0" fill="#fbfbfb" fill-opacity="0.9"/>
<rect x="474.0" y="14.0" width="61.0" height="44.0" fill="#fbfbfb" fill-opacity="0.9"/>
<rect x="177.0" y="271.0" width="56.0" height="41.0" fill="#fbfbfb" fill-opacity="0.9"/>
<rect x="475.0" y="271.0" width="60.0" height="41.0" fill="#fbfbfb" fill-opacity="0.9"/>
<rect x="177.6" y="13.4" width="2" height="298.5" fill="#d4f2f2"/>
</g>
<path d="M176.8 213.9H534.6" stroke="#3a3a3a" stroke-width="1.5"/>
<path d="M355.2 13.4V311.9" stroke="#333" stroke-width="1.3"/>
<rect x="176.8" y="13.4" width="357.8" height="298.5" fill="none" stroke="#111" stroke-width="1.5"/>
<clipPath id="cb"><rect x="646.4" y="10.8" width="358.0" height="300.9"/></clipPath>
<g clip-path="url(#cb)">
<path stroke="#35354c" stroke-width="1.7" d="M880.8 146.7h1.7M850.8 162.5h1.7M678.6 143.8h1.7M955.6 84.2h1.7M793.4 229.9h1.7M707.0 157.6h1.7M793.8 120.0h1.7M778.5 105.0h1.7M747.3 187.4h1.7M790.9 178.2h1.7M856.1 152.4h1.7M845.6 193.5h1.7M718.8 106.5h1.7M715.2 179.5h1.7M855.0 198.4h1.7M871.0 152.9h1.7M896.0 183.4h1.7M854.0 107.7h1.7M867.5 165.0h1.7M724.6 204.8h1.7M722.2 122.8h1.7M875.2 171.8h1.7M869.5 188.4h1.7M820.5 147.7h1.7M700.0 143.4h1.7M845.7 187.7h1.7M720.1 194.9h1.7M756.0 105.0h1.7M877.8 130.1h1.7M789.8 184.8h1.7M822.5 207.4h1.7M746.0 245.2h1.7M786.3 182.2h1.7M782.5 124.4h1.7M691.3 133.6h1.7M806.2 128.5h1.7M704.9 154.2h1.7M690.2 151.5h1.7M697.6 124.4h1.7M879.9 184.3h1.7M871.0 176.5h1.7M705.8 114.6h1.7M838.5 173.8h1.7M788.2 193.2h1.7M903.2 162.4h1.7M786.5 192.0h1.7M791.2 107.5h1.7M694.6 139.5h1.7M836.7 139.2h1.7M780.9 95.3h1.7M699.4 166.9h1.7M802.6 220.2h1.7M700.9 157.5h1.7M865.3 148.9h1.7M753.6 109.4h1.7M837.7 187.1h1.7M713.7 172.9h1.7M834.7 177.7h1.7M858.1 169.1h1.7M878.6 159.3h1.7M877.7 150.3h1.7M874.6 120.6h1.7M851.0 166.6h1.7M811.9 145.9h1.7M930.3 124.2h1.7M777.8 182.7h1.7M895.7 169.1h1.7M819.2 204.7h1.7M848.8 161.1h1.7M842.8 197.8h1.7M803.3 180.4h1.7M807.1 190.3h1.7M862.1 182.0h1.7M744.6 179.8h1.7M873.1 157.0h1.7M813.9 133.8h1.7M792.6 188.9h1.7M745.4 191.9h1.7M875.1 172.9h1.7M719.0 108.2h1.7M659.8 145.7h1.7M933.2 186.7h1.7"/>
<path stroke="#222288" stroke-width="1.7" d="M860.7 158.9h1.7M912.0 111.0h1.7M845.3 167.7h1.7M870.5 146.2h1.7M774.1 198.0h1.7M874.5 189.1h1.7M821.6 169.5h1.7M907.8 249.7h1.7M806.4 143.1h1.7M831.9 175.0h1.7M859.4 195.4h1.7M779.5 205.1h1.7M866.0 13.3h1.7M785.3 105.5h1.7M939.7 107.7h1.7M828.0 169.6h1.7M832.4 188.7h1.7M931.2 183.9h1.7M900.3 138.0h1.7M841.3 180.4h1.7M863.1 190.2h1.7M858.6 172.9h1.7M851.6 179.4h1.7M811.1 151.2h1.7M836.9 180.2h1.7M783.6 186.5h1.7M786.7 154.2h1.7M794.3 94.7h1.7M794.6 199.9h1.7M754.1 254.6h1.7M839.3 190.1h1.7M900.9 99.7h1.7M834.7 170.5h1.7M799.1 165.5h1.7M758.2 245.0h1.7M836.8 198.1h1.7M863.2 131.9h1.7M834.7 198.1h1.7M813.5 201.6h1.7M787.1 186.5h1.7M921.6 193.4h1.7M859.3 158.3h1.7M906.7 162.2h1.7M824.3 194.2h1.7M795.5 102.9h1.7M805.6 117.8h1.7M773.8 236.8h1.7M765.4 186.3h1.7M765.8 102.2h1.7M730.5 242.4h1.7M811.0 158.9h1.7M865.1 159.0h1.7M724.7 177.1h1.7M843.1 163.3h1.7M852.2 195.8h1.7M804.5 203.5h1.7M866.3 151.3h1.7M804.5 107.4h1.7M844.2 116.1h1.7M738.3 96.6h1.7M786.6 188.1h1.7M793.5 176.1h1.7M711.6 102.5h1.7M705.2 124.5h1.7M796.0 110.3h1.7M794.3 113.7h1.7M752.5 190.0h1.7M666.1 144.2h1.7M844.5 190.9h1.7M830.1 197.9h1.7M776.3 193.9h1.7M759.5 237.7h1.7M849.8 168.3h1.7M745.0 234.7h1.7M809.9 210.4h1.7M776.7 127.1h1.7"/>
<path stroke="#1c1cb0" stroke-width="1.7" d="M788.7 156.7h1.7M765.0 157.7h1.7M709.7 162.4h1.7M717.5 145.3h1.7M873.0 170.2h1.7M789.9 136.1h1.7M853.9 181.7h1.7M722.7 165.0h1.7M806.7 154.6h1.7M862.2 181.1h1.7M730.1 124.9h1.7M711.8 139.1h1.7M801.9 157.0h1.7M717.7 123.2h1.7M719.2 148.2h1.7M862.4 181.0h1.7M761.4 108.3h1.7M878.2 173.8h1.7M852.9 165.2h1.7M794.3 119.2h1.7M748.6 112.9h1.7M728.1 123.3h1.7M788.7 175.9h1.7M799.3 127.5h1.7M793.9 155.6h1.7M769.2 181.7h1.7M732.7 107.5h1.7M755.2 177.9h1.7M742.7 171.4h1.7M757.2 162.6h1.7M792.9 119.4h1.7M798.4 134.7h1.7M715.3 137.0h1.7M741.4 129.6h1.7M720.7 163.2h1.7M758.3 164.3h1.7M734.2 112.1h1.7M806.6 154.1h1.7M866.3 180.3h1.7M781.2 154.6h1.7M747.0 108.3h1.7M870.5 168.7h1.7M767.7 170.5h1.7M747.0 165.4h1.7M840.8 187.7h1.7M869.2 172.0h1.7M729.7 111.5h1.7M785.4 125.0h1.7M783.6 118.4h1.7M803.8 147.0h1.7M714.9 128.4h1.7M799.6 153.6h1.7M717.7 156.8h1.7M790.7 155.0h1.7M772.9 175.9h1.7M704.0 128.3h1.7M807.0 152.9h1.7M776.4 107.8h1.7M787.2 145.8h1.7M724.6 178.1h1.7M877.7 158.2h1.7M733.5 178.5h1.7M700.8 147.9h1.7M857.6 194.6h1.7M717.7 159.4h1.7M758.8 111.6h1.7M739.4 122.2h1.7M781.1 109.9h1.7M773.1 115.8h1.7M879.3 156.0h1.7M741.0 111.0h1.7M700.4 143.5h1.7M868.2 176.8h1.7M845.0 176.0h1.7M733.0 171.8h1.7M752.4 112.6h1.7M711.8 132.9h1.7M731.7 111.5h1.7M840.0 179.2h1.7M742.9 177.5h1.7M810.3 156.4h1.7M776.8 174.8h1.7M716.5 122.0h1.7M866.8 170.7h1.7M766.5 172.0h1.7M773.3 117.0h1.7M839.2 175.4h1.7M841.3 184.5h1.7M697.6 143.7h1.7M810.5 143.1h1.7M778.1 115.7h1.7M804.8 156.4h1.7M789.1 124.6h1.7M786.2 160.1h1.7M805.0 133.2h1.7M776.9 114.3h1.7M728.1 159.9h1.7M725.8 162.7h1.7M751.8 119.4h1.7M698.8 134.5h1.7M796.1 158.5h1.7M796.0 147.1h1.7M739.2 171.4h1.7M781.3 158.1h1.7M795.9 144.6h1.7M844.6 179.7h1.7M859.2 187.8h1.7M800.3 156.4h1.7M747.7 168.5h1.7M776.2 169.7h1.7M736.3 122.7h1.7"/>
<path stroke="#0a0ae6" stroke-width="1.7" d="M778.5 148.3h1.7M758.9 173.0h1.7M794.7 164.6h1.7M727.9 128.6h1.7M776.3 154.1h1.7M798.1 151.2h1.7M753.2 125.1h1.7M756.6 133.1h1.7M763.0 126.4h1.7M760.4 164.5h1.7M773.7 160.4h1.7M768.6 156.7h1.7M747.3 162.9h1.7M794.6 126.2h1.7M775.8 111.6h1.7M774.8 151.3h1.7M716.2 127.6h1.7M741.3 130.2h1.7M761.2 168.2h1.7M719.1 162.0h1.7M785.4 139.6h1.7M762.7 148.4h1.7M777.3 115.0h1.7M757.1 169.8h1.7M726.2 170.4h1.7M778.2 140.7h1.7M743.9 142.8h1.7M756.9 168.6h1.7M725.0 168.2h1.7M734.4 152.6h1.7M736.8 150.1h1.7M710.2 135.4h1.7M752.4 124.5h1.7M746.7 172.6h1.7M731.4 174.2h1.7M771.3 161.5h1.7M752.0 114.6h1.7M723.3 160.0h1.7M757.6 166.5h1.7M741.9 173.8h1.7M760.4 147.8h1.7M781.1 141.5h1.7M765.8 128.9h1.7M742.8 109.2h1.7M748.8 122.1h1.7M746.8 160.3h1.7M721.3 153.3h1.7M713.9 161.7h1.7M730.6 121.3h1.7M719.7 137.2h1.7M719.9 151.5h1.7M764.9 168.9h1.7M748.9 150.8h1.7M752.3 174.9h1.7M735.5 162.6h1.7M780.2 169.5h1.7M740.8 168.6h1.7M719.9 146.0h1.7M769.0 124.5h1.7M792.3 168.1h1.7M782.7 135.9h1.7M798.7 138.3h1.7M779.8 169.1h1.7M726.5 112.0h1.7M732.9 141.2h1.7M749.8 119.0h1.7M768.0 175.5h1.7M715.0 150.7h1.7M725.4 145.1h1.7M745.4 161.5h1.7M868.7 169.8h1.7M767.9 172.6h1.7M785.8 131.2h1.7M758.3 181.1h1.7M754.8 136.5h1.7M743.0 181.1h1.7M755.4 175.5h1.7M727.5 113.6h1.7M747.5 149.9h1.7M762.4 165.2h1.7M794.0 168.2h1.7M755.6 159.6h1.7M729.6 158.5h1.7M737.5 162.1h1.7M728.1 170.7h1.7M729.4 157.0h1.7M792.6 126.6h1.7M756.0 161.0h1.7M769.2 152.8h1.7M765.0 112.2h1.7M785.2 160.7h1.7M718.7 135.3h1.7M793.2 127.8h1.7M781.1 127.5h1.7M735.2 146.2h1.7M723.2 152.3h1.7M783.6 160.5h1.7M773.3 146.8h1.7M772.6 108.0h1.7M781.8 163.6h1.7M756.6 159.4h1.7M754.4 173.4h1.7M774.8 154.2h1.7M769.4 115.5h1.7M771.0 112.9h1.7M742.8 139.8h1.7M744.9 181.6h1.7M781.7 144.9h1.7M794.2 132.8h1.7M783.6 134.9h1.7M713.2 128.6h1.7M764.1 135.5h1.7M851.5 178.1h1.7M770.2 152.6h1.7M792.4 129.9h1.7M779.8 154.5h1.7M789.4 139.9h1.7M758.2 110.3h1.7M712.6 150.1h1.7M774.1 124.3h1.7M739.9 145.4h1.7M749.0 170.9h1.7M736.8 161.8h1.7M777.7 126.0h1.7M741.2 111.0h1.7M744.9 118.3h1.7M791.7 130.0h1.7M734.4 126.8h1.7M759.4 121.1h1.7M762.9 152.4h1.7M790.1 158.2h1.7M865.6 169.5h1.7M771.5 138.1h1.7M719.4 157.7h1.7M742.7 124.1h1.7M787.3 148.4h1.7M720.6 138.3h1.7M756.3 113.6h1.7M708.3 151.6h1.7M787.3 136.7h1.7M774.7 140.1h1.7M782.8 119.0h1.7"/>
<path stroke="#18b8e8" stroke-width="1.7" d="M764.5 150.0h1.7M788.0 127.6h1.7M793.1 138.0h1.7M758.4 169.3h1.7M731.4 126.9h1.7M759.5 151.8h1.7M737.8 156.0h1.7M782.5 143.8h1.7M791.8 141.1h1.7M753.9 154.0h1.7M719.8 133.8h1.7M741.6 154.1h1.7M771.0 125.0h1.7M766.1 146.7h1.7M746.6 179.0h1.7M727.4 134.3h1.7M741.3 129.4h1.7M768.5 175.8h1.7M723.2 149.0h1.7M739.2 149.0h1.7M772.8 133.9h1.7M778.1 124.0h1.7M743.5 120.3h1.7M711.0 149.9h1.7M744.3 143.8h1.7M767.5 144.1h1.7M751.5 121.7h1.7M735.0 145.8h1.7M748.2 172.7h1.7M746.7 131.0h1.7M720.9 129.0h1.7M747.5 163.1h1.7M715.3 149.3h1.7M741.1 140.0h1.7M752.5 128.8h1.7M749.8 161.1h1.7M763.6 144.7h1.7M758.7 168.2h1.7M781.0 137.2h1.7M736.3 136.7h1.7M718.9 140.9h1.7M738.1 119.6h1.7M778.8 170.5h1.7M738.2 161.5h1.7M743.9 122.3h1.7M766.0 140.1h1.7M721.6 143.5h1.7M749.3 116.7h1.7M760.9 143.8h1.7M767.4 121.3h1.7M867.8 168.4h1.7M731.0 136.3h1.7M751.4 132.6h1.7M764.5 157.4h1.7M786.9 150.6h1.7M762.2 132.4h1.7M714.3 126.2h1.7M755.4 129.5h1.7M773.9 113.3h1.7M736.5 163.1h1.7M728.1 140.3h1.7M724.2 134.5h1.7M777.2 142.2h1.7M799.8 147.8h1.7M759.7 156.2h1.7M764.8 130.2h1.7M776.3 147.5h1.7M769.4 130.6h1.7M737.4 142.8h1.7M747.4 127.1h1.7"/>
<path stroke="#18d418" stroke-width="1.7" d="M738.1 140.3h1.7M730.2 151.2h1.7M743.3 151.9h1.7M764.1 145.8h1.7M758.0 150.9h1.7M745.2 131.0h1.7M773.4 161.0h1.7M771.4 158.5h1.7M733.3 150.8h1.7M750.7 134.5h1.7M795.0 136.5h1.7M781.9 143.9h1.7M794.5 150.7h1.7M779.9 140.0h1.7M760.2 142.7h1.7M731.2 134.5h1.7M773.5 153.5h1.7M766.5 129.8h1.7M761.2 139.3h1.7M746.9 139.2h1.7M727.5 147.7h1.7M731.3 139.1h1.7M768.5 127.8h1.7M752.3 157.6h1.7M758.0 144.3h1.7M771.9 133.7h1.7M761.9 156.7h1.7M732.0 139.3h1.7M758.0 141.9h1.7M725.6 148.1h1.7M734.7 155.5h1.7M737.6 132.8h1.7M734.7 155.4h1.7M758.0 147.2h1.7M741.9 161.8h1.7M728.9 143.5h1.7M767.1 179.1h1.7M787.8 132.6h1.7M775.8 127.6h1.7M752.1 138.0h1.7M748.0 138.7h1.7M795.2 135.4h1.7M785.4 145.2h1.7M768.6 167.0h1.7M729.1 130.0h1.7M742.9 148.5h1.7M728.4 133.7h1.7M734.8 137.1h1.7M769.5 156.7h1.7M749.6 153.4h1.7M774.6 125.0h1.7M725.7 150.0h1.7M761.7 142.4h1.7M734.6 131.8h1.7M747.6 146.6h1.7M733.3 158.2h1.7M781.9 133.2h1.7M767.5 130.6h1.7M768.8 122.5h1.7M748.5 149.4h1.7M770.8 135.2h1.7M769.2 129.8h1.7M730.3 132.5h1.7M747.3 161.8h1.7M736.6 145.8h1.7M768.0 124.9h1.7M718.4 148.5h1.7M741.8 144.4h1.7M754.0 135.7h1.7M753.5 142.7h1.7M783.6 136.6h1.7M771.0 140.1h1.7M762.3 149.3h1.7M725.1 131.2h1.7M760.3 136.6h1.7M739.1 136.6h1.7M759.0 140.9h1.7M770.1 132.4h1.7M742.5 135.4h1.7M736.3 140.0h1.7M767.5 129.7h1.7M762.9 151.1h1.7M736.8 139.5h1.7M745.0 146.8h1.7M735.5 135.8h1.7M766.5 134.9h1.7M864.2 169.2h1.7M754.5 143.9h1.7M781.5 133.1h1.7M771.3 128.5h1.7M770.9 150.2h1.7M733.0 140.1h1.7M758.0 134.6h1.7M758.9 133.4h1.7M741.1 140.0h1.7M772.3 129.0h1.7M745.9 148.1h1.7M747.1 127.1h1.7M739.0 156.1h1.7M769.5 153.4h1.7M747.0 122.7h1.7M772.1 139.0h1.7M737.6 126.6h1.7M775.8 114.2h1.7M736.2 163.0h1.7M739.3 127.9h1.7M795.0 132.9h1.7M772.0 142.6h1.7M747.8 136.3h1.7M776.3 119.0h1.7M755.0 134.6h1.7M772.0 132.0h1.7M738.7 156.9h1.7M764.4 156.5h1.7M763.4 122.5h1.7M744.5 139.8h1.7M728.7 140.9h1.7M744.8 128.3h1.7M749.3 162.1h1.7M758.2 156.9h1.7M749.2 150.1h1.7M750.5 156.2h1.7M792.2 142.2h1.7M757.3 155.4h1.7M769.7 140.5h1.7M779.1 122.2h1.7M781.9 147.2h1.7M737.4 132.5h1.7M751.5 123.7h1.7M784.8 130.4h1.7M734.7 158.2h1.7M768.8 125.5h1.7M759.0 126.3h1.7M765.7 124.6h1.7M738.7 135.9h1.7M755.6 147.2h1.7M746.4 124.9h1.7M765.7 164.8h1.7M753.7 148.4h1.7M773.9 116.2h1.7M771.5 151.4h1.7M784.2 142.4h1.7M746.0 145.3h1.7M753.4 149.1h1.7M758.4 136.6h1.7M744.0 116.0h1.7M741.2 159.5h1.7M717.5 148.0h1.7M776.0 146.3h1.7M739.4 148.8h1.7M753.4 119.7h1.7M742.6 140.2h1.7M763.1 141.1h1.7M729.2 142.6h1.7M793.8 151.6h1.7"/>
<path stroke="#e6e618" stroke-width="1.7" d="M749.6 144.6h1.7M747.3 142.3h1.7M753.1 152.6h1.7M743.2 145.8h1.7M755.5 131.9h1.7M732.8 147.4h1.7M741.7 135.6h1.7M764.6 130.6h1.7M765.0 139.4h1.7M755.9 153.9h1.7M741.7 144.4h1.7M767.9 133.2h1.7M731.5 136.1h1.7M750.1 140.4h1.7M740.2 134.4h1.7M733.5 115.1h1.7M753.3 132.3h1.7M748.9 149.3h1.7M736.1 135.4h1.7M765.4 138.9h1.7M724.1 137.2h1.7M780.9 141.3h1.7M753.0 126.5h1.7M755.3 162.0h1.7M752.0 157.8h1.7M756.3 144.1h1.7M742.3 118.1h1.7M739.5 138.4h1.7M746.8 141.5h1.7M758.8 139.1h1.7M754.5 128.9h1.7M739.5 142.6h1.7M750.4 145.1h1.7M781.6 133.8h1.7M751.6 127.1h1.7M764.2 146.1h1.7M744.2 134.3h1.7M750.3 140.7h1.7M783.7 142.8h1.7M751.3 147.7h1.7M739.1 138.4h1.7M753.9 147.1h1.7M769.2 145.5h1.7M763.4 141.6h1.7M739.6 137.7h1.7M738.2 157.4h1.7M773.6 126.5h1.7M753.5 135.9h1.7M759.9 142.4h1.7M774.9 135.2h1.7M766.7 143.1h1.7M767.0 142.2h1.7M723.5 150.8h1.7M770.0 145.2h1.7M741.9 148.4h1.7M764.3 123.2h1.7M732.2 147.7h1.7"/>
<path stroke="#f49018" stroke-width="1.7" d="M748.6 139.6h1.7M757.3 140.9h1.7M752.8 146.4h1.7M735.1 142.0h1.7M748.8 142.6h1.7M769.2 152.2h1.7M761.6 139.6h1.7M747.4 141.6h1.7M758.3 141.8h1.7M771.6 149.4h1.7M766.8 155.6h1.7M726.1 145.4h1.7M769.3 124.5h1.7M783.0 141.9h1.7M743.6 147.2h1.7M767.3 146.5h1.7M754.2 138.6h1.7M739.0 150.0h1.7M751.6 149.1h1.7M742.5 135.0h1.7M750.4 133.9h1.7M747.6 124.9h1.7M765.1 134.2h1.7M746.4 137.6h1.7M744.7 134.5h1.7M746.8 128.3h1.7M745.3 138.8h1.7M724.4 141.7h1.7M767.6 128.3h1.7M767.8 143.5h1.7M742.3 139.0h1.7M760.7 143.3h1.7M732.5 144.1h1.7M730.8 126.6h1.7M752.5 136.1h1.7M767.1 138.6h1.7"/>
<path stroke="#e81818" stroke-width="1.7" d="M760.5 132.7h1.7M754.3 139.3h1.7M754.3 140.0h1.7M762.7 135.8h1.7M749.6 140.3h1.7M757.3 135.7h1.7M762.5 141.4h1.7M749.9 144.2h1.7M751.4 128.7h1.7M748.6 148.1h1.7M760.1 139.0h1.7M735.8 137.0h1.7M755.7 143.3h1.7"/>
<path stroke="#35354c" stroke-width="1.7" d="M882.3 155.3h1.7M848.1 135.6h1.7M904.1 117.3h1.7M845.3 168.5h1.7M846.6 168.9h1.7M795.3 116.7h1.7M872.3 162.8h1.7M715.3 114.6h1.7M816.9 203.7h1.7M840.4 111.7h1.7M719.7 121.7h1.7M778.3 195.4h1.7M706.6 127.5h1.7M758.8 102.2h1.7M692.2 191.4h1.7M850.7 182.9h1.7M858.5 196.7h1.7M794.6 209.2h1.7M788.3 148.8h1.7M908.9 193.6h1.7M889.9 157.2h1.7M791.0 176.9h1.7M849.2 206.0h1.7M882.0 168.7h1.7M890.6 144.8h1.7M798.8 196.3h1.7M890.3 169.5h1.7M872.6 170.4h1.7M778.6 227.4h1.7M733.4 190.1h1.7M745.7 206.9h1.7M808.4 130.9h1.7M881.7 168.6h1.7M795.6 202.5h1.7M869.7 191.8h1.7M865.4 147.8h1.7M823.4 192.2h1.7M879.7 176.2h1.7M866.9 178.8h1.7M850.2 202.5h1.7M848.1 172.9h1.7M790.6 157.9h1.7M774.6 183.2h1.7M853.5 156.0h1.7M797.9 174.3h1.7M716.6 86.5h1.7M705.0 122.3h1.7M828.8 183.2h1.7M887.5 160.6h1.7M790.6 260.9h1.7M916.8 170.9h1.7M893.0 174.1h1.7M870.4 180.5h1.7M690.3 196.6h1.7M889.3 136.4h1.7M839.5 183.6h1.7M859.8 194.8h1.7M711.8 171.5h1.7M702.7 90.3h1.7M845.4 170.5h1.7M695.4 158.1h1.7M827.4 172.1h1.7M700.5 164.8h1.7M903.5 124.4h1.7M854.0 173.6h1.7M845.0 13.3h1.7M725.3 103.1h1.7M925.6 240.3h1.7M843.5 178.1h1.7M760.3 95.2h1.7M876.5 179.7h1.7M701.5 132.6h1.7M826.9 200.6h1.7M748.1 232.5h1.7M740.9 215.3h1.7M837.9 174.8h1.7M834.9 194.4h1.7M708.0 149.5h1.7"/>
<path stroke="#222288" stroke-width="1.7" d="M895.8 247.0h1.7M803.1 126.7h1.7M770.7 176.6h1.7M766.8 185.8h1.7M792.7 195.7h1.7M880.8 167.1h1.7M750.3 229.6h1.7M854.4 184.9h1.7M729.4 181.9h1.7M805.9 214.4h1.7M867.7 153.6h1.7M721.7 113.6h1.7M810.2 187.7h1.7M711.8 127.8h1.7M864.9 185.7h1.7M904.9 200.6h1.7M739.4 182.6h1.7M795.1 127.9h1.7M691.3 170.2h1.7M807.1 117.2h1.7M852.3 197.9h1.7M821.5 191.3h1.7M931.4 282.8h1.7M724.7 112.5h1.7M886.7 121.5h1.7M758.2 178.0h1.7M738.8 186.5h1.7M735.4 171.1h1.7M755.4 100.7h1.7M898.0 156.4h1.7M938.8 237.2h1.7M893.8 140.6h1.7M835.7 169.1h1.7M705.0 131.2h1.7M846.3 175.5h1.7M761.5 192.2h1.7M695.6 190.7h1.7M796.1 222.9h1.7M886.9 165.7h1.7M710.1 126.2h1.7M851.2 167.7h1.7M792.2 244.5h1.7M968.2 141.9h1.7M729.8 171.1h1.7M837.6 192.0h1.7M778.6 178.8h1.7M814.7 137.5h1.7M873.5 184.0h1.7M869.5 150.3h1.7M823.2 184.3h1.7M815.1 157.9h1.7M698.1 178.5h1.7M865.6 186.0h1.7M699.7 158.2h1.7M810.5 207.9h1.7M877.8 181.9h1.7M831.0 201.2h1.7M745.4 100.9h1.7M886.9 166.4h1.7M865.6 207.8h1.7M822.0 212.1h1.7M808.9 220.0h1.7M833.9 194.3h1.7M707.2 152.6h1.7M754.5 180.4h1.7M777.3 103.9h1.7M699.3 147.4h1.7M780.3 111.3h1.7M724.7 160.0h1.7M812.0 157.4h1.7M845.7 174.7h1.7M924.7 68.8h1.7M749.3 239.0h1.7M781.1 114.1h1.7M835.2 175.6h1.7M852.9 197.3h1.7M784.5 222.0h1.7M863.6 179.9h1.7M746.8 53.8h1.7M697.0 184.1h1.7M766.8 102.6h1.7M837.0 193.3h1.7M879.1 151.9h1.7M893.4 171.9h1.7M849.9 184.8h1.7M811.5 138.9h1.7M713.2 181.8h1.7M721.9 178.0h1.7M826.2 189.1h1.7M695.3 124.7h1.7M840.8 194.5h1.7M827.6 192.8h1.7M784.8 231.9h1.7M764.3 216.1h1.7M708.2 160.8h1.7M857.1 181.2h1.7M827.1 181.5h1.7M756.2 99.1h1.7M788.7 107.8h1.7M762.3 193.8h1.7"/>
<path stroke="#1c1cb0" stroke-width="1.7" d="M858.3 169.1h1.7M728.8 170.1h1.7M728.0 165.6h1.7M748.1 166.0h1.7M776.2 161.8h1.7M715.0 165.8h1.7M786.0 127.0h1.7M772.8 162.2h1.7M793.5 174.3h1.7M707.6 163.0h1.7M755.7 179.5h1.7M842.4 184.9h1.7M757.5 117.8h1.7M799.1 146.6h1.7M875.3 160.8h1.7M752.0 176.3h1.7M785.2 144.7h1.7M706.9 157.9h1.7M723.5 119.0h1.7M772.3 176.3h1.7M739.7 181.9h1.7M743.5 160.0h1.7M758.1 103.8h1.7M804.6 140.7h1.7M785.6 170.8h1.7M800.3 156.4h1.7M722.2 170.9h1.7M856.5 182.3h1.7M863.9 174.5h1.7M866.5 172.5h1.7M795.7 128.3h1.7M709.7 143.1h1.7M730.3 175.9h1.7M723.6 141.0h1.7M704.8 128.8h1.7M743.7 108.8h1.7M762.4 110.9h1.7M729.3 106.2h1.7M765.6 184.0h1.7M867.7 185.6h1.7M854.5 176.3h1.7M792.9 156.1h1.7M787.9 112.9h1.7M760.9 157.2h1.7M853.2 179.8h1.7M757.6 114.0h1.7M858.0 181.4h1.7M757.5 118.3h1.7M807.9 119.7h1.7M718.7 114.1h1.7M720.0 157.1h1.7M796.6 154.0h1.7M761.6 115.8h1.7M860.5 183.6h1.7M793.6 112.3h1.7M733.9 153.0h1.7M853.3 179.0h1.7M733.6 177.7h1.7M799.0 133.4h1.7M744.4 112.1h1.7M794.0 116.4h1.7M793.4 117.7h1.7M807.7 141.7h1.7M877.4 175.0h1.7M755.5 112.0h1.7M839.9 176.2h1.7M882.1 161.5h1.7M726.1 157.5h1.7M720.1 137.1h1.7M787.2 116.2h1.7M771.2 151.9h1.7M719.7 147.1h1.7M838.8 176.6h1.7M732.6 169.7h1.7M730.7 151.4h1.7M704.5 130.2h1.7M733.3 124.4h1.7M795.4 157.5h1.7M790.7 154.1h1.7M849.9 190.1h1.7M723.8 166.7h1.7M849.1 165.9h1.7M846.3 173.8h1.7M779.2 178.0h1.7M746.2 117.1h1.7M845.5 183.6h1.7M777.7 171.4h1.7M784.0 166.0h1.7M727.6 176.4h1.7M787.8 150.9h1.7M775.3 162.0h1.7M785.2 160.0h1.7M727.7 158.1h1.7M730.8 147.8h1.7M764.4 158.5h1.7M787.7 164.8h1.7M701.7 139.4h1.7M729.4 154.3h1.7M752.1 112.2h1.7M755.5 110.2h1.7M862.8 171.9h1.7M739.9 155.6h1.7M787.0 160.1h1.7M796.5 132.1h1.7M844.4 177.4h1.7M722.4 169.8h1.7M762.0 106.1h1.7M712.8 159.0h1.7M703.8 135.3h1.7M713.4 150.7h1.7M766.8 162.0h1.7M806.8 137.4h1.7M752.8 179.5h1.7M786.5 139.5h1.7M855.8 174.0h1.7M787.7 124.1h1.7"/>
<path stroke="#0a0ae6" stroke-width="1.7" d="M763.9 160.3h1.7M774.1 175.0h1.7M772.2 152.8h1.7M783.6 123.9h1.7M727.8 158.9h1.7M717.5 125.6h1.7M747.1 130.2h1.7M757.9 120.5h1.7M758.9 162.2h1.7M804.9 150.1h1.7M759.3 170.9h1.7M773.4 121.2h1.7M780.0 111.0h1.7M729.7 116.7h1.7M789.6 135.3h1.7M766.8 172.3h1.7M728.8 165.0h1.7M727.9 174.6h1.7M779.6 113.8h1.7M730.4 119.0h1.7M720.7 128.9h1.7M777.6 148.6h1.7M758.4 128.7h1.7M735.7 161.9h1.7M758.6 123.6h1.7M751.8 164.9h1.7M791.1 162.0h1.7M720.5 147.9h1.7M793.9 133.8h1.7M733.7 176.6h1.7M758.1 142.9h1.7M739.2 112.1h1.7M769.8 141.1h1.7M736.1 162.6h1.7M765.4 118.3h1.7M732.8 153.5h1.7M784.4 162.1h1.7M754.4 167.6h1.7M784.7 152.7h1.7M721.8 118.6h1.7M788.9 172.1h1.7M766.1 140.0h1.7M711.2 148.1h1.7M799.2 148.0h1.7M771.1 133.9h1.7M772.6 153.9h1.7M776.4 124.5h1.7M713.2 149.6h1.7M764.0 148.4h1.7M751.8 131.8h1.7M774.8 160.7h1.7M795.7 156.2h1.7M776.3 143.7h1.7M791.1 163.9h1.7M752.2 167.1h1.7M792.7 151.2h1.7M752.8 108.3h1.7M760.1 109.3h1.7M717.9 126.2h1.7M777.0 159.2h1.7M768.9 163.6h1.7M714.8 146.7h1.7M750.8 159.6h1.7M762.1 178.9h1.7M864.7 178.6h1.7M804.1 151.2h1.7M757.9 128.5h1.7M738.5 123.5h1.7M753.1 116.7h1.7M727.5 130.0h1.7M730.2 128.2h1.7M779.5 125.5h1.7M732.3 124.9h1.7M855.9 180.4h1.7M727.2 133.3h1.7M742.2 109.8h1.7M789.7 121.1h1.7M763.7 149.0h1.7M751.8 130.4h1.7M736.0 163.0h1.7M784.5 168.3h1.7M711.6 158.0h1.7M746.1 114.7h1.7M771.1 132.0h1.7M789.3 126.6h1.7M749.8 157.7h1.7M771.3 169.9h1.7M727.8 146.8h1.7M707.8 158.4h1.7M705.3 141.0h1.7M803.1 154.3h1.7M740.4 128.3h1.7M772.2 145.8h1.7M746.9 113.1h1.7M865.4 171.2h1.7M777.0 132.7h1.7M730.2 154.9h1.7M865.6 169.0h1.7M711.4 163.2h1.7M725.9 120.0h1.7M722.4 113.8h1.7M864.6 174.0h1.7M728.7 119.3h1.7M714.8 139.8h1.7M785.2 166.4h1.7M865.3 169.7h1.7M780.5 116.4h1.7M783.3 161.3h1.7M722.0 150.9h1.7M738.7 118.3h1.7M732.1 123.3h1.7M733.0 167.0h1.7M727.1 119.1h1.7M770.0 179.0h1.7M739.1 119.2h1.7M735.9 116.6h1.7M736.8 115.0h1.7M794.4 136.6h1.7M713.2 153.4h1.7M869.4 173.7h1.7M760.5 150.5h1.7M764.3 169.4h1.7M720.8 163.0h1.7M760.7 108.1h1.7M770.4 158.6h1.7M782.6 147.1h1.7M800.6 132.3h1.7M759.5 121.3h1.7M741.5 128.5h1.7M768.0 127.1h1.7M744.7 150.5h1.7M728.2 127.3h1.7M772.6 120.2h1.7M739.7 135.5h1.7M788.6 155.3h1.7M728.0 122.3h1.7M859.8 175.9h1.7M746.1 174.2h1.7M750.3 168.7h1.7M749.9 175.0h1.7M721.7 158.3h1.7M799.6 134.7h1.7M726.6 165.6h1.7M725.5 149.8h1.7M759.6 181.7h1.7M774.5 161.5h1.7M768.3 157.4h1.7M746.1 123.4h1.7M724.2 165.3h1.7M770.9 138.0h1.7M799.8 137.9h1.7"/>
<path stroke="#18b8e8" stroke-width="1.7" d="M775.3 116.7h1.7M720.4 148.8h1.7M733.5 139.1h1.7M774.9 139.9h1.7M793.0 127.8h1.7M765.9 151.5h1.7M749.7 140.9h1.7M730.9 150.0h1.7M718.7 145.9h1.7M755.2 159.7h1.7M745.6 152.2h1.7M760.7 123.2h1.7M741.9 129.4h1.7M762.4 139.5h1.7M726.6 148.1h1.7M727.1 168.3h1.7M773.1 108.2h1.7M757.0 144.2h1.7M747.0 173.8h1.7M727.4 148.9h1.7M766.2 167.4h1.7M751.8 122.3h1.7M750.4 163.8h1.7M758.2 151.1h1.7M741.9 158.9h1.7M745.5 134.8h1.7M782.3 141.2h1.7M730.8 165.2h1.7M728.9 164.4h1.7M746.0 128.3h1.7M725.0 154.4h1.7M749.5 169.2h1.7M725.9 129.2h1.7M774.3 131.4h1.7M751.8 168.6h1.7M745.8 156.3h1.7M780.7 146.3h1.7M783.6 128.3h1.7M718.4 151.8h1.7M795.9 126.4h1.7M724.3 154.2h1.7M764.3 124.3h1.7M729.7 134.8h1.7M770.0 160.4h1.7M764.4 150.2h1.7M765.3 175.3h1.7M729.8 167.5h1.7M766.6 131.2h1.7M779.3 121.4h1.7M758.0 150.6h1.7M772.8 154.8h1.7M763.6 126.7h1.7"/>
<path stroke="#18d418" stroke-width="1.7" d="M740.9 132.9h1.7M761.1 120.4h1.7M749.6 123.4h1.7M750.5 141.1h1.7M736.3 162.4h1.7M750.3 132.9h1.7M730.3 134.5h1.7M793.9 135.4h1.7M724.5 141.4h1.7M753.6 146.0h1.7M767.7 125.8h1.7M778.4 137.1h1.7M774.0 141.3h1.7M737.3 127.2h1.7M756.9 150.5h1.7M770.2 125.3h1.7M770.3 125.4h1.7M747.1 138.6h1.7M796.0 139.2h1.7M740.5 131.7h1.7M735.3 132.6h1.7M743.5 137.4h1.7M774.8 138.7h1.7M741.5 151.5h1.7M780.2 139.9h1.7M740.1 165.9h1.7M752.3 159.0h1.7M741.4 123.8h1.7M764.9 132.9h1.7M729.3 156.5h1.7M762.9 137.4h1.7M771.4 152.5h1.7M733.0 139.0h1.7M753.1 147.0h1.7M775.1 129.1h1.7M754.9 171.2h1.7M770.9 157.2h1.7M770.2 163.2h1.7M755.9 155.4h1.7M775.6 110.9h1.7M767.3 157.4h1.7M740.1 159.3h1.7M750.1 126.1h1.7M736.1 115.1h1.7M755.5 117.8h1.7M757.4 141.3h1.7M723.6 140.5h1.7M782.8 146.3h1.7M728.4 156.6h1.7M737.2 137.9h1.7M757.1 142.5h1.7M765.9 129.0h1.7M725.7 145.6h1.7M757.1 114.1h1.7M767.3 141.2h1.7M749.2 137.4h1.7M760.6 149.5h1.7M760.2 125.3h1.7M770.2 143.5h1.7M776.7 130.1h1.7M745.0 127.3h1.7M774.1 109.7h1.7M722.1 144.0h1.7M754.2 124.3h1.7M750.0 115.9h1.7M791.5 136.1h1.7M736.0 143.1h1.7M776.6 149.3h1.7M745.0 118.9h1.7M738.3 158.3h1.7M773.2 123.8h1.7M775.4 141.4h1.7M777.0 124.7h1.7M738.6 112.2h1.7M742.5 146.9h1.7M722.5 166.1h1.7M746.0 141.2h1.7M741.7 137.8h1.7M751.5 146.2h1.7M781.6 143.2h1.7M750.1 139.8h1.7M753.0 131.6h1.7M774.2 128.8h1.7M767.0 130.8h1.7M734.6 129.1h1.7M755.3 158.1h1.7M730.7 151.0h1.7M759.2 139.3h1.7M761.0 138.2h1.7M860.3 178.7h1.7M745.2 151.4h1.7M781.1 146.2h1.7M786.3 145.5h1.7M768.3 145.4h1.7M742.1 150.8h1.7M735.5 163.2h1.7M739.4 147.2h1.7M741.6 134.5h1.7M748.7 177.2h1.7M741.5 158.6h1.7M768.7 137.2h1.7M730.8 129.5h1.7M734.4 148.9h1.7M754.0 142.3h1.7M738.3 127.2h1.7M742.6 151.7h1.7M747.5 125.8h1.7M753.4 126.2h1.7M762.1 144.2h1.7M754.5 119.7h1.7M755.7 132.1h1.7M742.5 143.8h1.7M741.3 139.9h1.7M752.5 126.2h1.7M757.0 143.2h1.7M721.2 139.3h1.7M732.6 144.1h1.7M765.9 139.4h1.7M761.2 128.4h1.7M766.7 135.3h1.7M759.3 152.6h1.7M727.3 145.6h1.7M729.3 134.1h1.7M784.6 136.5h1.7M737.3 133.3h1.7M744.3 141.6h1.7M770.4 128.4h1.7M780.5 141.0h1.7M765.6 137.3h1.7M754.3 126.4h1.7M735.5 148.3h1.7M752.9 162.7h1.7M775.3 147.8h1.7M737.1 145.1h1.7M763.8 150.6h1.7M750.3 147.4h1.7M762.2 116.4h1.7M773.1 148.9h1.7M797.6 148.3h1.7M773.1 127.9h1.7M751.7 150.4h1.7M762.6 134.2h1.7M779.3 161.6h1.7M776.9 161.2h1.7M735.9 127.5h1.7M743.2 152.8h1.7M741.2 148.0h1.7M764.2 147.4h1.7M749.2 175.7h1.7M764.6 129.1h1.7M757.8 131.8h1.7M750.9 138.3h1.7M728.2 138.8h1.7M796.9 144.9h1.7M766.7 144.7h1.7M762.0 133.0h1.7M752.4 141.1h1.7M762.3 136.3h1.7M737.0 165.1h1.7M786.1 142.0h1.7M729.3 125.9h1.7M755.6 136.4h1.7M750.9 122.8h1.7M762.5 140.3h1.7M758.4 144.3h1.7M769.9 138.7h1.7M748.3 146.9h1.7M750.4 125.3h1.7"/>
<path stroke="#e6e618" stroke-width="1.7" d="M728.1 143.8h1.7M765.7 134.3h1.7M730.7 140.9h1.7M749.2 146.8h1.7M790.1 131.4h1.7M731.2 127.3h1.7M755.0 152.1h1.7M758.6 152.6h1.7M756.3 125.7h1.7M742.6 138.6h1.7M760.7 150.8h1.7M765.2 134.4h1.7M759.1 132.5h1.7M754.3 152.2h1.7M744.8 149.8h1.7M767.3 146.6h1.7M759.2 143.4h1.7M729.7 127.6h1.7M742.7 156.5h1.7M727.6 149.6h1.7M754.1 142.5h1.7M755.7 127.8h1.7M756.1 149.1h1.7M755.1 126.4h1.7M733.0 140.5h1.7M728.2 135.4h1.7M749.2 134.7h1.7M746.9 147.8h1.7M763.8 125.9h1.7M731.5 141.7h1.7M744.0 122.3h1.7M755.1 152.7h1.7M741.1 128.2h1.7M744.7 151.9h1.7M780.2 145.9h1.7M758.9 132.2h1.7M770.2 119.5h1.7M756.1 150.8h1.7M766.0 137.8h1.7M761.1 138.0h1.7M755.2 125.4h1.7M742.1 127.9h1.7"/>
<path stroke="#f49018" stroke-width="1.7" d="M761.1 156.6h1.7M762.0 135.8h1.7M743.9 140.1h1.7M761.2 147.9h1.7M754.8 132.3h1.7M792.3 126.9h1.7M770.7 140.1h1.7M768.1 146.4h1.7M730.1 141.6h1.7M755.2 143.9h1.7M785.0 135.7h1.7M769.6 131.3h1.7M749.8 151.2h1.7M741.7 145.3h1.7M757.0 151.6h1.7M750.6 145.9h1.7M740.9 133.6h1.7M739.9 152.2h1.7M765.2 134.2h1.7M730.5 156.9h1.7M749.8 139.9h1.7M767.9 127.9h1.7"/>
<path stroke="#e81818" stroke-width="1.7" d="M765.4 132.4h1.7M762.4 137.7h1.7M739.2 142.9h1.7M747.2 155.0h1.7M752.3 140.2h1.7M751.8 136.9h1.7M780.9 131.5h1.7M748.3 146.4h1.7M767.6 129.7h1.7M741.3 138.4h1.7M767.8 123.2h1.7M754.8 146.7h1.7M761.1 135.0h1.7"/>
<path stroke="#35354c" stroke-width="1.7" d="M762.7 102.9h1.7M859.5 183.2h1.7M734.2 192.0h1.7M889.5 173.2h1.7M834.9 226.7h1.7M766.8 113.1h1.7M841.0 177.7h1.7M895.4 154.3h1.7M845.3 170.2h1.7M912.8 168.4h1.7M914.3 156.0h1.7M785.8 238.3h1.7M874.4 150.3h1.7M846.9 129.5h1.7M857.0 185.2h1.7M863.6 182.0h1.7M868.6 163.4h1.7M773.3 170.8h1.7M874.1 152.0h1.7M866.6 177.4h1.7M891.7 135.4h1.7M876.2 165.4h1.7M729.8 118.8h1.7M719.9 141.1h1.7M792.9 181.8h1.7M806.8 112.8h1.7M710.9 173.7h1.7M778.9 181.0h1.7M788.3 123.6h1.7M854.4 141.0h1.7M748.0 251.6h1.7M794.8 184.2h1.7M803.9 184.5h1.7M778.9 170.2h1.7M861.7 155.0h1.7M694.8 143.0h1.7M785.4 153.9h1.7M872.6 172.5h1.7M805.7 184.2h1.7M850.9 155.8h1.7M880.8 179.2h1.7M756.0 249.1h1.7M697.6 131.1h1.7M748.2 226.2h1.7M857.2 174.6h1.7M817.7 190.7h1.7M817.6 158.3h1.7M697.0 151.4h1.7M878.8 176.4h1.7M871.7 155.1h1.7M781.7 224.9h1.7M758.0 174.8h1.7M765.2 192.4h1.7M901.9 174.5h1.7M713.1 116.2h1.7M759.7 197.0h1.7M803.2 157.7h1.7M657.7 153.5h1.7M788.0 237.0h1.7M777.8 196.7h1.7M763.3 189.4h1.7M855.4 193.7h1.7M773.9 191.6h1.7M716.7 177.7h1.7M744.6 107.4h1.7M692.0 170.3h1.7M703.5 145.2h1.7M787.7 168.5h1.7M753.5 195.6h1.7M826.1 216.2h1.7M881.6 144.6h1.7M839.0 187.9h1.7M751.9 198.7h1.7M741.1 109.8h1.7M827.7 172.7h1.7M695.3 183.8h1.7M769.2 196.2h1.7M861.5 173.0h1.7M739.9 199.6h1.7M848.2 189.7h1.7M870.6 156.7h1.7M704.5 163.1h1.7M809.5 163.8h1.7M841.9 161.5h1.7M759.3 189.2h1.7M840.2 170.0h1.7M774.7 193.2h1.7M795.1 247.8h1.7M929.8 168.9h1.7M802.7 91.7h1.7M845.9 187.8h1.7M874.2 144.3h1.7M861.1 143.6h1.7M772.1 104.3h1.7M710.1 170.8h1.7M847.9 169.5h1.7M827.9 169.0h1.7M850.2 192.9h1.7M846.1 176.3h1.7M762.1 244.0h1.7"/>
<path stroke="#222288" stroke-width="1.7" d="M831.3 208.8h1.7M791.5 138.2h1.7M868.0 160.8h1.7M801.3 232.8h1.7M939.9 174.8h1.7M825.3 202.7h1.7M908.1 196.5h1.7M697.5 133.8h1.7M847.0 185.9h1.7M911.9 122.3h1.7M859.6 152.5h1.7M892.4 198.8h1.7M866.5 171.8h1.7M867.0 167.6h1.7M878.8 169.8h1.7M789.8 191.6h1.7M817.6 196.4h1.7M689.3 146.8h1.7M724.3 200.6h1.7M706.2 159.7h1.7M718.9 183.7h1.7M848.9 185.3h1.7M714.0 141.7h1.7M786.1 101.1h1.7M787.8 243.4h1.7M788.0 218.7h1.7M869.3 112.5h1.7M817.1 114.7h1.7M729.7 171.2h1.7M853.8 193.4h1.7M916.3 138.8h1.7M896.6 132.4h1.7M843.7 205.7h1.7M842.9 166.6h1.7M856.4 164.4h1.7M701.7 159.0h1.7M825.3 112.4h1.7M860.8 163.9h1.7M731.9 230.6h1.7M852.9 170.0h1.7M811.9 131.2h1.7M810.5 150.0h1.7M696.6 156.2h1.7M889.9 117.4h1.7M772.3 181.3h1.7M739.4 105.2h1.7M752.6 186.8h1.7M800.6 117.9h1.7M887.3 171.3h1.7M832.4 193.4h1.7M786.0 206.9h1.7M835.7 166.2h1.7M810.4 195.2h1.7M871.7 165.8h1.7M814.4 158.3h1.7M796.0 214.9h1.7M862.7 162.3h1.7M824.6 146.9h1.7M868.8 155.8h1.7M814.5 145.3h1.7M804.0 162.0h1.7M800.8 238.5h1.7M841.6 203.2h1.7M897.0 183.9h1.7M919.4 217.6h1.7M827.8 197.5h1.7M821.7 136.9h1.7M827.3 188.3h1.7M867.6 184.6h1.7M779.8 226.4h1.7M705.9 186.5h1.7M718.3 187.6h1.7M880.2 200.7h1.7M782.1 190.9h1.7M928.9 216.1h1.7M890.7 145.7h1.7M710.6 136.4h1.7M727.1 182.3h1.7M849.3 181.4h1.7M913.8 141.6h1.7M768.9 112.3h1.7M891.8 156.3h1.7M826.0 149.0h1.7M803.0 191.0h1.7M865.3 189.2h1.7M856.5 190.4h1.7M733.3 116.8h1.7M937.8 154.6h1.7M807.7 130.9h1.7M897.1 161.8h1.7M853.4 189.7h1.7M838.6 97.7h1.7"/>
<path stroke="#1c1cb0" stroke-width="1.7" d="M701.4 140.3h1.7M880.3 163.0h1.7M720.6 127.0h1.7M736.4 174.5h1.7M725.5 163.8h1.7M752.1 127.9h1.7M795.5 158.0h1.7M752.5 163.9h1.7M738.7 169.7h1.7M779.7 146.1h1.7M800.1 146.1h1.7M780.0 164.6h1.7M731.2 172.7h1.7M749.9 176.8h1.7M754.3 166.4h1.7M710.0 165.2h1.7M729.9 111.0h1.7M879.7 164.7h1.7M710.8 128.0h1.7M853.1 176.8h1.7M852.9 173.6h1.7M780.5 155.3h1.7M866.4 166.6h1.7M728.8 121.4h1.7M763.3 173.3h1.7M719.2 129.9h1.7M876.9 162.4h1.7M791.5 115.9h1.7M786.4 174.8h1.7M848.0 174.3h1.7M772.3 147.5h1.7M802.3 140.4h1.7M727.4 116.1h1.7M805.6 134.8h1.7M778.5 172.9h1.7M811.0 140.7h1.7M704.6 152.3h1.7M759.2 166.3h1.7M705.8 160.9h1.7M712.7 126.9h1.7M742.2 111.2h1.7M773.1 172.7h1.7M722.5 127.2h1.7M803.5 125.4h1.7M771.7 163.6h1.7M861.6 168.2h1.7M709.3 165.9h1.7M732.7 109.2h1.7M742.1 112.8h1.7M728.0 146.5h1.7M716.5 163.6h1.7M851.4 187.5h1.7M767.3 142.8h1.7M785.8 158.2h1.7M789.7 170.9h1.7M714.1 125.3h1.7M725.5 133.8h1.7M723.9 164.2h1.7M767.2 162.4h1.7M801.1 147.4h1.7M784.6 126.2h1.7M791.1 166.9h1.7M711.7 134.5h1.7M743.0 161.6h1.7M781.7 148.7h1.7M773.5 121.4h1.7M726.7 172.7h1.7M712.4 161.3h1.7M706.5 133.7h1.7M784.0 133.6h1.7M725.3 175.1h1.7M763.4 117.2h1.7M775.5 132.9h1.7M783.9 169.5h1.7M770.7 170.8h1.7M801.6 149.9h1.7M862.5 171.4h1.7M787.3 119.7h1.7M715.6 152.2h1.7M805.0 140.5h1.7M813.1 138.7h1.7M865.8 179.3h1.7M731.5 179.6h1.7M709.5 134.9h1.7M860.9 172.2h1.7M806.3 122.5h1.7M861.9 173.5h1.7M767.0 160.9h1.7M697.6 142.6h1.7M731.7 135.4h1.7M802.7 150.3h1.7M699.6 151.3h1.7M773.5 109.4h1.7M793.8 144.4h1.7M740.8 180.9h1.7M790.1 136.8h1.7M758.1 171.6h1.7M849.9 183.6h1.7M712.6 153.9h1.7M723.8 131.7h1.7M766.9 176.7h1.7M720.0 123.1h1.7M758.1 179.7h1.7M779.9 164.4h1.7M737.8 181.5h1.7M856.7 190.4h1.7M867.4 173.0h1.7M844.9 181.9h1.7M714.9 133.9h1.7M789.2 134.5h1.7M718.5 175.9h1.7M737.4 107.9h1.7M841.4 180.7h1.7M778.8 130.0h1.7M797.1 161.1h1.7M879.2 165.0h1.7M863.9 176.6h1.7M701.6 148.3h1.7M723.7 172.5h1.7M743.1 182.2h1.7M766.2 165.6h1.7M748.8 183.6h1.7M759.2 114.0h1.7M768.4 107.4h1.7"/>
<path stroke="#0a0ae6" stroke-width="1.7" d="M735.1 143.8h1.7M771.0 123.8h1.7M727.8 123.2h1.7M731.2 133.4h1.7M716.1 161.6h1.7M777.3 119.2h1.7M772.8 158.9h1.7M768.3 169.1h1.7M850.3 176.0h1.7M782.4 151.1h1.7M732.8 144.1h1.7M853.2 177.5h1.7M854.8 179.8h1.7M795.5 131.8h1.7M732.1 124.8h1.7M784.7 167.0h1.7M708.2 154.2h1.7M789.6 141.7h1.7M730.2 147.2h1.7M724.5 152.2h1.7M787.5 121.5h1.7M720.2 122.3h1.7M722.1 153.4h1.7M762.5 144.1h1.7M728.6 129.7h1.7M767.8 147.2h1.7M764.7 117.0h1.7M787.4 166.8h1.7M743.6 110.9h1.7M747.4 116.3h1.7M722.9 133.8h1.7M734.9 144.6h1.7M772.3 157.7h1.7M804.1 152.0h1.7M755.9 168.9h1.7M760.3 133.0h1.7M778.0 133.7h1.7M712.9 147.9h1.7M734.6 112.7h1.7M762.4 148.4h1.7M795.7 138.7h1.7M794.1 149.1h1.7M757.0 169.8h1.7M763.4 164.2h1.7M863.1 180.1h1.7M757.5 156.5h1.7M737.5 119.5h1.7M766.9 116.1h1.7M791.9 143.6h1.7M755.8 170.1h1.7M714.2 132.9h1.7M748.4 162.0h1.7M751.5 114.4h1.7M780.3 168.5h1.7M797.4 128.5h1.7M787.0 123.5h1.7M725.7 126.8h1.7M768.0 163.9h1.7M786.7 169.2h1.7M745.8 171.3h1.7M751.5 164.4h1.7M718.4 153.3h1.7M736.0 143.4h1.7M772.5 144.5h1.7M746.4 121.1h1.7M777.1 133.2h1.7M749.3 126.9h1.7M736.5 119.4h1.7M768.1 166.2h1.7M759.3 156.0h1.7M769.9 152.2h1.7M747.4 128.8h1.7M759.3 140.6h1.7M759.3 124.2h1.7M773.2 111.3h1.7M786.6 127.8h1.7M758.3 168.6h1.7M787.2 145.2h1.7M796.9 135.5h1.7M763.2 125.3h1.7M791.6 165.9h1.7M716.7 131.4h1.7M779.2 154.4h1.7M766.0 153.7h1.7M776.8 162.8h1.7M766.7 124.3h1.7M787.3 149.4h1.7M778.5 130.6h1.7M797.3 135.3h1.7M739.4 135.5h1.7M787.1 131.0h1.7M792.7 145.6h1.7M787.6 140.5h1.7M777.8 153.9h1.7M747.3 169.5h1.7M709.4 153.6h1.7M726.9 139.3h1.7M801.1 145.7h1.7M850.7 177.5h1.7M727.2 126.2h1.7M746.9 161.7h1.7M726.9 115.7h1.7M757.0 129.4h1.7M731.4 148.0h1.7M792.9 131.3h1.7M713.9 146.2h1.7M787.8 130.2h1.7M746.4 177.7h1.7M744.1 110.4h1.7M741.5 159.0h1.7M760.7 161.6h1.7M712.4 146.6h1.7M713.8 140.1h1.7M784.5 132.4h1.7M760.5 174.5h1.7M775.1 112.6h1.7M751.5 156.4h1.7M769.3 132.5h1.7M710.3 152.2h1.7M740.0 109.5h1.7M788.0 123.7h1.7M755.8 130.7h1.7M750.7 152.2h1.7M729.3 162.9h1.7M737.8 136.2h1.7M756.9 165.5h1.7M779.9 153.7h1.7M749.6 156.7h1.7M722.4 141.7h1.7M748.6 132.4h1.7M779.5 130.6h1.7M776.9 114.2h1.7M764.7 162.9h1.7M721.6 129.0h1.7M733.6 119.8h1.7M793.1 137.3h1.7M771.9 110.5h1.7M789.5 113.9h1.7M755.7 127.9h1.7M880.3 160.4h1.7M736.0 113.3h1.7M759.7 111.0h1.7M859.8 180.0h1.7M737.6 115.1h1.7M704.8 151.5h1.7"/>
<path stroke="#18b8e8" stroke-width="1.7" d="M734.4 147.3h1.7M735.3 159.9h1.7M786.9 123.7h1.7M767.7 156.7h1.7M786.6 132.2h1.7M731.4 160.6h1.7M772.2 144.7h1.7M771.4 120.4h1.7M729.4 134.4h1.7M754.7 142.9h1.7M746.3 153.0h1.7M776.6 126.3h1.7M775.1 138.0h1.7M864.0 177.3h1.7M744.7 155.2h1.7M723.7 167.6h1.7M727.2 152.5h1.7M774.0 115.9h1.7M748.8 142.4h1.7M738.7 151.6h1.7M740.1 158.5h1.7M737.0 115.9h1.7M728.4 139.1h1.7M720.3 135.9h1.7M793.0 148.8h1.7M743.7 110.7h1.7M722.0 133.3h1.7M753.8 169.3h1.7M761.3 155.2h1.7M765.4 121.1h1.7M773.8 151.7h1.7M760.9 155.2h1.7M746.6 138.9h1.7M729.9 165.4h1.7M752.8 138.8h1.7M760.4 166.0h1.7M774.7 121.7h1.7M744.8 177.1h1.7M765.5 160.5h1.7M780.8 164.5h1.7M858.6 174.2h1.7M728.5 124.0h1.7M721.0 151.8h1.7M723.4 127.1h1.7M774.1 124.0h1.7M743.8 132.6h1.7M800.5 150.3h1.7M757.0 132.0h1.7M749.1 111.7h1.7M791.8 128.0h1.7M757.6 141.4h1.7M756.9 156.7h1.7M731.4 158.0h1.7M729.3 118.5h1.7M741.0 164.2h1.7M780.7 148.2h1.7M744.3 175.4h1.7M750.4 155.8h1.7M773.3 114.6h1.7"/>
<path stroke="#18d418" stroke-width="1.7" d="M748.7 130.2h1.7M740.8 140.9h1.7M760.2 148.8h1.7M770.7 126.5h1.7M777.0 122.6h1.7M743.5 150.6h1.7M794.3 133.0h1.7M744.9 122.8h1.7M742.6 146.8h1.7M764.4 130.5h1.7M741.4 152.6h1.7M753.3 138.2h1.7M756.4 138.0h1.7M715.2 146.0h1.7M738.4 142.6h1.7M725.7 131.3h1.7M758.9 140.8h1.7M754.0 139.9h1.7M751.4 120.9h1.7M768.0 118.7h1.7M774.6 123.9h1.7M792.5 126.0h1.7M787.9 143.8h1.7M737.9 159.3h1.7M762.8 150.6h1.7M753.3 131.7h1.7M773.5 135.2h1.7M772.2 136.1h1.7M709.1 149.7h1.7M738.1 131.3h1.7M770.6 152.2h1.7M737.5 132.1h1.7M767.6 133.0h1.7M739.0 136.8h1.7M765.8 137.6h1.7M755.2 140.9h1.7M770.0 150.1h1.7M762.4 129.5h1.7M755.0 144.8h1.7M784.4 142.2h1.7M728.3 168.9h1.7M767.8 120.3h1.7M762.3 144.5h1.7M766.0 153.1h1.7M766.4 148.2h1.7M770.2 137.6h1.7M726.5 146.9h1.7M727.6 139.2h1.7M773.5 141.4h1.7M731.5 155.8h1.7M744.0 154.4h1.7M755.3 149.8h1.7M765.0 136.3h1.7M770.7 136.6h1.7M771.7 147.8h1.7M731.5 135.1h1.7M743.8 138.4h1.7M736.2 124.2h1.7M769.5 126.7h1.7M750.3 124.0h1.7M754.3 120.9h1.7M734.7 145.6h1.7M763.2 145.9h1.7M730.5 142.7h1.7M755.2 152.1h1.7M726.3 141.4h1.7M731.3 133.6h1.7M761.8 156.9h1.7M739.4 142.7h1.7M741.2 150.8h1.7M757.5 148.6h1.7M748.5 123.7h1.7M760.1 142.8h1.7M743.4 143.8h1.7M780.6 125.5h1.7M729.1 155.7h1.7M738.5 149.8h1.7M738.4 157.2h1.7M770.2 124.2h1.7M753.8 158.6h1.7M750.3 168.8h1.7M769.0 146.3h1.7M754.9 136.0h1.7M774.3 145.4h1.7M745.6 140.5h1.7M776.4 142.2h1.7M769.4 127.2h1.7M764.7 122.8h1.7M750.6 125.7h1.7M748.9 136.2h1.7M738.7 130.5h1.7M754.4 116.5h1.7M738.6 125.7h1.7M725.2 123.9h1.7M766.7 132.8h1.7M780.6 132.8h1.7M710.4 149.0h1.7M754.4 143.3h1.7M732.1 136.9h1.7M751.3 155.8h1.7M760.0 137.2h1.7M760.2 157.4h1.7M750.9 140.8h1.7M756.1 142.6h1.7M727.3 138.0h1.7M756.4 135.9h1.7M769.9 127.2h1.7M744.5 172.5h1.7M745.1 128.0h1.7M758.6 125.5h1.7M791.1 129.2h1.7M749.3 170.9h1.7M755.6 139.3h1.7M732.4 141.2h1.7M722.7 128.6h1.7M774.1 122.8h1.7M736.4 156.3h1.7M738.6 169.3h1.7M762.8 153.0h1.7M767.5 138.4h1.7M734.4 136.6h1.7M712.6 148.2h1.7M783.8 131.0h1.7M760.3 122.3h1.7"/>
<path stroke="#e6e618" stroke-width="1.7" d="M731.5 141.7h1.7M760.1 139.5h1.7M745.3 144.7h1.7M737.5 157.2h1.7M740.2 155.6h1.7M772.2 152.6h1.7M744.7 148.3h1.7M761.5 149.2h1.7M727.8 147.6h1.7M770.5 153.3h1.7M740.6 140.9h1.7M754.0 147.9h1.7M783.2 144.9h1.7M766.4 126.3h1.7M735.1 143.8h1.7M773.7 146.4h1.7M757.1 142.1h1.7M729.1 142.2h1.7M742.2 134.0h1.7M739.8 130.9h1.7M746.4 133.9h1.7M736.8 150.5h1.7M732.5 159.6h1.7M741.0 140.2h1.7M760.4 146.8h1.7M745.1 140.4h1.7M741.0 140.8h1.7M730.0 141.3h1.7M739.2 114.5h1.7M762.0 134.2h1.7M751.2 141.1h1.7M736.1 129.5h1.7M740.0 155.5h1.7M753.3 159.7h1.7M743.2 155.2h1.7M775.3 153.5h1.7M759.2 142.6h1.7M749.9 144.1h1.7M732.6 132.2h1.7M752.2 126.6h1.7M753.6 152.0h1.7M755.9 127.5h1.7M754.8 137.8h1.7M752.8 129.2h1.7M726.8 132.2h1.7M749.5 145.3h1.7M745.5 148.8h1.7"/>
<path stroke="#f49018" stroke-width="1.7" d="M759.5 120.9h1.7M750.3 139.7h1.7M746.8 140.2h1.7M750.9 155.5h1.7M738.7 148.3h1.7M754.3 137.2h1.7M731.8 155.9h1.7M727.6 146.6h1.7M740.6 142.8h1.7M735.1 141.5h1.7M755.4 134.3h1.7M736.4 150.4h1.7M760.2 133.6h1.7M745.8 154.8h1.7M745.8 133.7h1.7M785.5 126.9h1.7M772.1 140.6h1.7M744.2 145.1h1.7M742.1 121.9h1.7M771.4 139.6h1.7M750.8 152.2h1.7M763.7 144.5h1.7M772.9 150.4h1.7M761.4 144.2h1.7M744.1 145.1h1.7M766.1 136.6h1.7M758.8 149.8h1.7M739.0 136.2h1.7M763.1 134.0h1.7M745.6 141.3h1.7M758.6 133.0h1.7M761.0 133.9h1.7M729.4 146.7h1.7M742.3 122.4h1.7M739.2 126.9h1.7M773.9 137.3h1.7M740.6 133.8h1.7"/>
<path stroke="#e81818" stroke-width="1.7" d="M750.1 139.4h1.7M759.1 139.5h1.7M756.9 140.0h1.7M763.1 136.1h1.7M739.7 146.4h1.7M727.5 142.7h1.7M747.9 144.4h1.7M759.8 138.7h1.7M755.3 144.9h1.7M765.7 136.4h1.7M751.1 144.6h1.7M767.7 137.4h1.7M768.1 140.3h1.7M761.4 139.2h1.7M746.7 137.0h1.7"/>
<path stroke="#35354c" stroke-width="1.7" d="M704.6 164.9h1.7M710.9 120.7h1.7M735.6 202.2h1.7M862.6 166.6h1.7M845.5 157.1h1.7M853.9 172.0h1.7M705.7 175.3h1.7M755.1 192.0h1.7M824.5 205.4h1.7M812.5 137.8h1.7M781.0 106.8h1.7M807.1 152.4h1.7M833.3 196.5h1.7M818.7 187.5h1.7M869.3 175.5h1.7M801.0 237.5h1.7M769.8 187.6h1.7M866.9 146.7h1.7M866.7 182.3h1.7M853.1 154.9h1.7M859.5 178.5h1.7M783.6 110.8h1.7M721.3 212.9h1.7M841.8 179.1h1.7M810.9 164.8h1.7M865.4 192.0h1.7M827.8 179.9h1.7M796.7 200.9h1.7M817.8 187.9h1.7M672.6 152.7h1.7M872.7 181.9h1.7M990.4 222.4h1.7M765.0 243.1h1.7M821.7 129.0h1.7M828.0 170.1h1.7M875.4 173.0h1.7M772.1 182.7h1.7M812.8 134.4h1.7M812.8 172.4h1.7M801.0 175.8h1.7M905.2 173.4h1.7M813.9 128.8h1.7M698.2 185.7h1.7M696.8 158.8h1.7M906.0 170.8h1.7M828.0 181.1h1.7M698.0 137.5h1.7M893.3 176.3h1.7M852.3 165.3h1.7M906.4 130.3h1.7M861.5 160.2h1.7M701.9 165.3h1.7M704.0 168.3h1.7M791.4 184.6h1.7M888.8 164.0h1.7M791.1 178.8h1.7M784.3 174.8h1.7M848.6 163.0h1.7M717.2 113.0h1.7M854.6 139.9h1.7M854.5 167.6h1.7M847.1 180.3h1.7M868.9 135.5h1.7M700.9 126.4h1.7M704.4 169.8h1.7M824.0 203.4h1.7M696.2 165.1h1.7M900.5 210.9h1.7M706.4 136.0h1.7M848.0 188.0h1.7M694.4 133.6h1.7M908.5 201.7h1.7M822.2 208.2h1.7M843.1 182.5h1.7M866.4 194.8h1.7M723.5 117.4h1.7M890.0 104.5h1.7M858.3 192.7h1.7M767.8 189.3h1.7M853.6 71.1h1.7M854.8 182.5h1.7M779.9 110.9h1.7M745.7 202.0h1.7M831.3 182.2h1.7M886.1 143.4h1.7M767.8 207.4h1.7M854.4 187.8h1.7M915.6 134.8h1.7M908.5 162.3h1.7M773.1 188.0h1.7M877.5 162.3h1.7M728.0 100.5h1.7M767.7 245.8h1.7M855.6 153.8h1.7M808.1 134.7h1.7M749.8 191.3h1.7M878.8 166.7h1.7M719.0 182.9h1.7M707.2 135.7h1.7M771.5 192.7h1.7"/>
<path stroke="#222288" stroke-width="1.7" d="M819.9 76.6h1.7M844.0 173.4h1.7M874.1 161.5h1.7M699.9 161.2h1.7M736.2 191.5h1.7M787.9 233.5h1.7M772.2 259.0h1.7M871.8 155.3h1.7M816.1 261.5h1.7M894.7 125.6h1.7M740.4 186.2h1.7M735.4 237.9h1.7M731.5 194.3h1.7M766.5 114.3h1.7M905.9 178.6h1.7M874.2 175.5h1.7M831.0 160.8h1.7M864.9 160.6h1.7M886.7 155.9h1.7M849.1 178.1h1.7M763.7 227.2h1.7M882.4 115.7h1.7M710.3 167.0h1.7M804.9 122.9h1.7M849.5 132.7h1.7M766.0 212.4h1.7M848.5 168.0h1.7M732.4 162.0h1.7M904.7 82.0h1.7M900.3 155.9h1.7M833.0 158.8h1.7M806.1 121.3h1.7M808.4 124.5h1.7M719.1 117.5h1.7M832.3 201.4h1.7M718.7 179.1h1.7M784.3 163.5h1.7M797.0 177.4h1.7M823.8 193.2h1.7M867.8 165.3h1.7M746.8 160.9h1.7M856.3 192.5h1.7M754.6 226.5h1.7M744.3 46.3h1.7M741.6 104.6h1.7M694.9 118.8h1.7M840.0 174.7h1.7M858.9 171.5h1.7M866.5 163.8h1.7M752.5 188.0h1.7M887.2 159.4h1.7M782.0 184.8h1.7M900.9 157.3h1.7M780.4 97.2h1.7M690.3 130.5h1.7M822.0 197.9h1.7M798.5 121.1h1.7M780.7 195.2h1.7M751.6 234.8h1.7M803.2 178.0h1.7M830.9 229.7h1.7M853.8 191.2h1.7M721.6 131.3h1.7M815.5 140.3h1.7M795.4 187.2h1.7M788.6 174.1h1.7M716.8 179.9h1.7M893.0 166.2h1.7M875.9 164.5h1.7M720.3 117.7h1.7M873.6 181.2h1.7M840.1 191.3h1.7M881.8 190.4h1.7M795.8 220.6h1.7M882.6 177.6h1.7M862.6 161.3h1.7M797.1 115.3h1.7M839.6 174.9h1.7M850.3 177.6h1.7M922.5 182.4h1.7M925.0 146.7h1.7M734.2 182.9h1.7M856.4 146.6h1.7M858.3 189.8h1.7"/>
<path stroke="#1c1cb0" stroke-width="1.7" d="M765.6 137.1h1.7M799.6 135.9h1.7M706.7 142.4h1.7M768.0 119.2h1.7M705.5 136.2h1.7M772.7 183.1h1.7M725.1 124.3h1.7M708.9 125.8h1.7M738.7 140.4h1.7M786.0 111.3h1.7M736.1 180.8h1.7M751.7 115.4h1.7M765.4 176.2h1.7M788.8 110.3h1.7M742.3 161.0h1.7M776.6 118.7h1.7M742.0 137.4h1.7M721.0 176.1h1.7M749.0 159.7h1.7M728.0 114.8h1.7M802.1 141.1h1.7M723.0 178.7h1.7M786.0 152.3h1.7M721.5 121.1h1.7M768.1 113.4h1.7M756.8 176.4h1.7M877.5 157.9h1.7M882.3 161.9h1.7M778.3 135.7h1.7M701.7 135.8h1.7M778.2 143.5h1.7M883.3 164.8h1.7M781.5 157.2h1.7M777.4 130.9h1.7M795.2 121.7h1.7M767.8 182.8h1.7M722.8 151.1h1.7M764.8 167.1h1.7M861.8 175.4h1.7M745.0 120.6h1.7M721.1 158.3h1.7M749.4 155.8h1.7M728.1 111.0h1.7M733.0 164.3h1.7M797.9 124.3h1.7M718.4 134.9h1.7M800.4 146.4h1.7M800.3 145.7h1.7M787.2 153.8h1.7M858.1 174.2h1.7M803.5 141.2h1.7M781.7 172.2h1.7M783.0 166.1h1.7M726.5 153.4h1.7M872.5 172.6h1.7M736.9 177.5h1.7M739.5 129.9h1.7M883.7 163.5h1.7M860.7 189.8h1.7M866.0 164.7h1.7M782.5 148.0h1.7M788.7 144.5h1.7M856.5 185.8h1.7M747.2 119.3h1.7M729.6 115.3h1.7M731.5 115.1h1.7M780.4 111.7h1.7M809.2 155.0h1.7M736.6 169.8h1.7M794.4 142.1h1.7M721.3 173.1h1.7M709.5 140.8h1.7M740.9 170.8h1.7M850.3 167.9h1.7M722.6 117.9h1.7M770.9 161.1h1.7M727.4 164.7h1.7M725.2 132.1h1.7M724.2 117.6h1.7M737.0 124.6h1.7M745.2 110.6h1.7M792.8 162.2h1.7M699.2 141.6h1.7M856.1 176.7h1.7M765.5 183.2h1.7M799.1 159.8h1.7M869.2 174.3h1.7M778.6 176.0h1.7M855.2 177.3h1.7M774.9 117.9h1.7M792.6 162.2h1.7M782.2 167.3h1.7M882.2 160.0h1.7M800.7 130.5h1.7M796.8 127.6h1.7M810.6 156.3h1.7M864.9 165.4h1.7M751.4 166.3h1.7M794.3 172.6h1.7M794.6 144.1h1.7M761.2 176.3h1.7M751.2 113.3h1.7M862.5 168.6h1.7M797.2 147.2h1.7M780.4 173.7h1.7M778.9 177.8h1.7M799.8 152.7h1.7M801.5 126.7h1.7M844.5 186.1h1.7M841.9 180.2h1.7M791.1 135.0h1.7M789.5 148.0h1.7M784.4 118.8h1.7M773.7 109.2h1.7M747.0 173.3h1.7M719.2 135.3h1.7M722.6 151.2h1.7M794.5 171.2h1.7M742.8 121.4h1.7M724.0 125.1h1.7M757.7 182.9h1.7M705.9 141.5h1.7M767.9 110.5h1.7"/>
<path stroke="#0a0ae6" stroke-width="1.7" d="M776.7 132.8h1.7M790.7 157.6h1.7M847.9 182.2h1.7M768.1 177.5h1.7M771.3 154.3h1.7M716.8 150.3h1.7M755.7 177.8h1.7M768.6 173.5h1.7M795.8 126.0h1.7M737.6 109.4h1.7M866.0 177.3h1.7M750.1 160.7h1.7M765.2 118.7h1.7M744.8 152.7h1.7M745.3 176.3h1.7M787.5 166.3h1.7M777.8 148.6h1.7M777.6 132.4h1.7M772.7 116.1h1.7M755.6 135.0h1.7M793.9 135.5h1.7M764.6 147.5h1.7M741.7 130.9h1.7M791.2 167.8h1.7M774.8 150.7h1.7M789.4 170.1h1.7M703.6 149.7h1.7M789.9 131.4h1.7M790.7 160.9h1.7M787.6 135.1h1.7M869.5 171.6h1.7M786.6 117.9h1.7M753.9 156.6h1.7M770.4 134.0h1.7M740.9 166.6h1.7M727.0 138.7h1.7M869.1 173.7h1.7M783.5 135.4h1.7M781.6 116.2h1.7M773.4 158.8h1.7M748.7 126.3h1.7M714.1 141.7h1.7M766.5 137.5h1.7M764.1 155.2h1.7M770.0 131.5h1.7M795.7 133.9h1.7M742.4 148.0h1.7M715.3 150.0h1.7M780.8 147.8h1.7M741.1 124.8h1.7M737.2 123.4h1.7M734.6 109.1h1.7M729.2 163.6h1.7M780.3 150.9h1.7M849.5 182.6h1.7M756.2 154.9h1.7M714.7 160.4h1.7M744.6 174.4h1.7M785.8 124.7h1.7M765.2 178.2h1.7M862.4 175.7h1.7M760.9 181.1h1.7M763.5 177.9h1.7M714.7 148.8h1.7M767.1 152.4h1.7M713.7 141.5h1.7M796.2 157.8h1.7M731.6 157.2h1.7M739.1 123.1h1.7M765.2 169.5h1.7M758.2 177.9h1.7M786.6 159.0h1.7M749.6 156.2h1.7M793.3 138.2h1.7M775.5 112.5h1.7M732.8 133.8h1.7M742.4 169.3h1.7M754.3 152.1h1.7M755.8 119.8h1.7M775.9 141.6h1.7M737.5 150.7h1.7M760.0 178.8h1.7M784.2 138.3h1.7M736.5 156.7h1.7M754.7 155.3h1.7M777.2 129.6h1.7M776.7 166.2h1.7M748.2 126.5h1.7M746.1 111.9h1.7M870.7 173.6h1.7M748.3 169.4h1.7M727.2 130.7h1.7M766.3 115.3h1.7M711.6 150.8h1.7M777.1 131.3h1.7M720.5 115.4h1.7M725.6 161.4h1.7M856.6 187.0h1.7M734.4 117.0h1.7M722.6 112.4h1.7M803.2 146.5h1.7M761.3 152.9h1.7M708.5 129.0h1.7M743.3 173.7h1.7M753.0 162.3h1.7M746.2 121.4h1.7M736.4 140.6h1.7M779.7 143.7h1.7M739.7 117.4h1.7M798.4 135.4h1.7M770.3 140.6h1.7M724.8 148.0h1.7M720.5 158.1h1.7M772.0 136.3h1.7M786.2 155.9h1.7M745.8 117.5h1.7M761.1 120.0h1.7M723.8 165.5h1.7M725.8 112.4h1.7M705.7 164.4h1.7M728.8 141.0h1.7M766.8 111.8h1.7M733.6 168.7h1.7M727.0 160.4h1.7M777.2 137.5h1.7M772.0 131.8h1.7M722.4 172.9h1.7M778.1 167.8h1.7M853.4 181.3h1.7M714.9 139.7h1.7M778.6 141.7h1.7M740.3 119.3h1.7M710.7 160.6h1.7M767.1 141.8h1.7M716.4 155.3h1.7M715.8 149.9h1.7M796.0 125.6h1.7M761.8 166.6h1.7M793.2 138.6h1.7M767.5 172.3h1.7M763.5 116.4h1.7M788.8 132.2h1.7M786.2 161.8h1.7M745.8 115.8h1.7M731.6 149.8h1.7M735.7 130.2h1.7M741.6 177.9h1.7M868.0 178.3h1.7M769.1 121.4h1.7M737.6 133.8h1.7M775.8 139.2h1.7M800.1 144.5h1.7M726.3 121.8h1.7M739.0 162.5h1.7M760.8 145.9h1.7M729.5 122.2h1.7M717.1 165.1h1.7M765.0 183.0h1.7M752.2 160.8h1.7M733.4 127.6h1.7"/>
<path stroke="#18b8e8" stroke-width="1.7" d="M738.8 134.4h1.7M767.6 157.3h1.7M767.5 134.7h1.7M771.5 126.6h1.7M757.1 159.1h1.7M763.8 162.6h1.7M769.9 149.1h1.7M736.0 128.7h1.7M746.8 173.1h1.7M726.9 170.1h1.7M764.0 152.6h1.7M757.4 134.6h1.7M765.1 154.5h1.7M757.7 132.7h1.7M744.4 133.3h1.7M761.1 120.9h1.7M716.5 141.1h1.7M733.0 123.9h1.7M748.0 114.9h1.7M749.7 131.9h1.7M765.3 146.4h1.7M783.8 157.8h1.7M739.8 122.7h1.7M759.9 135.0h1.7M727.7 132.9h1.7M761.3 157.5h1.7M768.2 118.2h1.7M769.9 126.7h1.7M753.0 161.8h1.7M769.8 119.2h1.7M795.4 122.4h1.7M785.4 165.2h1.7M738.7 115.4h1.7M747.2 162.9h1.7M787.9 134.0h1.7M752.4 151.5h1.7M741.2 152.2h1.7M763.2 115.8h1.7M749.3 173.0h1.7M742.7 120.3h1.7M748.4 153.0h1.7M746.5 145.3h1.7M721.2 145.9h1.7M785.4 120.6h1.7M735.4 157.2h1.7M729.1 143.6h1.7M749.7 118.2h1.7M863.7 175.1h1.7M773.1 116.7h1.7M737.7 163.0h1.7M748.2 171.4h1.7M782.7 144.9h1.7M864.0 174.3h1.7M767.2 132.8h1.7M758.4 172.5h1.7M745.9 169.7h1.7M786.2 149.6h1.7M727.4 111.7h1.7M754.5 152.7h1.7M784.6 159.6h1.7"/>
<path stroke="#18d418" stroke-width="1.7" d="M794.6 140.9h1.7M747.6 123.9h1.7M755.8 143.0h1.7M749.3 149.4h1.7M765.4 147.5h1.7M777.4 147.8h1.7M745.6 148.3h1.7M783.5 128.9h1.7M786.3 131.0h1.7M767.0 157.9h1.7M743.9 177.1h1.7M749.2 160.8h1.7M780.9 126.3h1.7M776.5 138.0h1.7M757.5 158.4h1.7M773.9 141.0h1.7M744.3 142.1h1.7M746.4 122.1h1.7M752.0 144.7h1.7M761.2 124.8h1.7M762.7 142.5h1.7M764.2 152.8h1.7M756.2 147.6h1.7M747.1 175.8h1.7M746.8 168.6h1.7M764.3 140.2h1.7M778.6 127.1h1.7M770.1 145.4h1.7M760.5 139.3h1.7M740.8 119.2h1.7M756.8 128.0h1.7M787.8 166.0h1.7M775.4 126.7h1.7M752.3 141.1h1.7M739.2 161.0h1.7M859.5 175.8h1.7M736.5 146.3h1.7M736.6 144.4h1.7M767.4 131.7h1.7M743.7 151.7h1.7M760.0 149.9h1.7M762.9 126.0h1.7M730.9 152.3h1.7M753.3 138.2h1.7M778.7 143.8h1.7M738.6 155.1h1.7M745.0 144.8h1.7M764.2 116.4h1.7M737.6 156.0h1.7M737.5 120.5h1.7M768.1 142.9h1.7M742.5 132.8h1.7M726.9 152.7h1.7M725.1 158.1h1.7M764.0 163.2h1.7M766.1 156.4h1.7M723.0 147.8h1.7M727.6 158.1h1.7M747.3 154.5h1.7M760.1 154.4h1.7M769.7 147.8h1.7M730.2 140.4h1.7M733.2 133.2h1.7M768.5 123.3h1.7M741.9 147.8h1.7M752.8 147.0h1.7M761.6 131.0h1.7M752.6 161.5h1.7M746.6 151.3h1.7M772.2 144.6h1.7M765.6 120.6h1.7M785.6 130.1h1.7M761.0 155.6h1.7M746.9 156.2h1.7M760.8 135.0h1.7M749.0 147.0h1.7M718.2 152.3h1.7M758.7 124.0h1.7M730.9 122.3h1.7M753.6 147.3h1.7M721.1 145.2h1.7M744.0 138.1h1.7M784.9 143.9h1.7M758.8 125.3h1.7M724.6 155.2h1.7M739.2 157.7h1.7M720.9 141.1h1.7M763.8 154.9h1.7M732.2 126.8h1.7M767.3 167.5h1.7M729.7 147.6h1.7M712.3 146.9h1.7M770.7 152.0h1.7M786.6 162.4h1.7M754.9 122.7h1.7M747.8 142.2h1.7M771.6 142.4h1.7M767.4 158.5h1.7M762.9 162.4h1.7M772.9 134.1h1.7M736.5 165.5h1.7M756.6 138.5h1.7M738.8 149.3h1.7M765.9 135.8h1.7M756.3 139.2h1.7M730.1 130.4h1.7M741.6 150.7h1.7M738.0 130.8h1.7M747.5 177.8h1.7M742.8 144.8h1.7M773.1 127.3h1.7M744.2 155.5h1.7M767.6 140.9h1.7M751.0 134.1h1.7M753.0 142.4h1.7M764.6 149.3h1.7M767.4 135.5h1.7M728.9 161.9h1.7M768.1 153.1h1.7M766.5 155.3h1.7M772.9 141.3h1.7M737.1 133.4h1.7M758.1 146.0h1.7M758.5 123.8h1.7M740.1 142.3h1.7M752.8 139.1h1.7M789.8 133.4h1.7M745.8 146.2h1.7M742.8 154.1h1.7M771.1 148.9h1.7M737.5 154.9h1.7M736.4 146.9h1.7M746.3 145.6h1.7M782.6 162.8h1.7M750.6 131.0h1.7M761.5 135.5h1.7M731.9 143.6h1.7M772.1 116.0h1.7M742.4 120.4h1.7M750.8 148.4h1.7M734.9 126.9h1.7M730.3 123.9h1.7M800.9 134.8h1.7M741.0 125.3h1.7"/>
<path stroke="#e6e618" stroke-width="1.7" d="M745.2 156.7h1.7M745.1 138.4h1.7M757.2 136.0h1.7M728.2 150.9h1.7M736.0 156.3h1.7M763.6 132.6h1.7M753.9 151.7h1.7M757.9 127.3h1.7M736.4 141.2h1.7M760.3 140.9h1.7M729.5 146.3h1.7M760.9 141.3h1.7M775.5 130.2h1.7M755.4 143.0h1.7M752.0 150.0h1.7M738.5 141.1h1.7M795.8 127.5h1.7M746.1 138.8h1.7M797.6 144.6h1.7M758.1 128.3h1.7M771.1 128.9h1.7M747.3 119.3h1.7M749.9 116.0h1.7M757.3 126.4h1.7M754.0 139.5h1.7M776.2 143.4h1.7M749.0 140.1h1.7M733.3 134.3h1.7M738.2 135.1h1.7M742.7 142.9h1.7M736.1 140.3h1.7M745.1 143.4h1.7M745.2 137.2h1.7M728.1 149.9h1.7M751.4 137.8h1.7M744.3 135.8h1.7M742.9 141.9h1.7M772.4 135.8h1.7M744.3 125.4h1.7M757.1 152.7h1.7"/>
<path stroke="#f49018" stroke-width="1.7" d="M763.1 146.8h1.7M750.9 145.4h1.7M744.8 151.6h1.7M752.8 138.8h1.7M758.9 143.3h1.7M754.9 127.8h1.7M762.2 150.7h1.7M764.2 137.0h1.7M747.5 150.2h1.7M759.1 137.2h1.7M757.2 146.7h1.7M742.1 138.4h1.7M752.0 139.2h1.7M744.1 144.0h1.7M748.3 139.0h1.7M725.7 146.8h1.7M765.7 131.4h1.7M742.9 129.2h1.7M770.9 125.1h1.7M757.2 154.4h1.7M750.2 137.0h1.7M762.4 132.4h1.7M732.7 138.7h1.7"/>
<path stroke="#e81818" stroke-width="1.7" d="M753.7 150.2h1.7M739.0 130.0h1.7M757.2 149.5h1.7M754.9 146.6h1.7M755.0 136.1h1.7M757.1 140.6h1.7M755.1 140.6h1.7M748.7 145.3h1.7"/>
<path stroke="#35354c" stroke-width="1.7" d="M861.4 132.3h1.7M845.5 195.3h1.7M896.8 106.9h1.7M733.6 184.5h1.7M876.6 136.2h1.7M868.3 116.6h1.7M881.4 169.8h1.7M860.5 184.7h1.7M890.9 252.5h1.7M976.0 150.6h1.7M833.7 207.5h1.7M756.5 189.5h1.7M882.0 174.3h1.7M786.4 218.6h1.7M688.8 182.4h1.7M834.1 168.5h1.7M763.8 188.5h1.7M874.5 177.5h1.7M811.5 158.1h1.7M824.4 179.7h1.7M839.7 186.3h1.7M866.7 170.3h1.7M746.7 124.7h1.7M731.7 105.0h1.7M731.3 187.2h1.7M871.2 174.4h1.7M862.9 183.1h1.7M804.0 170.1h1.7M888.2 118.9h1.7M820.8 178.2h1.7M705.6 173.0h1.7M889.3 134.9h1.7M805.6 188.4h1.7M884.0 156.3h1.7M791.8 109.8h1.7M741.6 98.6h1.7M861.8 181.6h1.7M733.5 169.2h1.7M751.6 116.5h1.7M921.9 201.7h1.7M877.4 161.0h1.7M840.1 210.2h1.7M784.4 134.2h1.7M837.1 197.8h1.7M826.4 143.1h1.7M857.3 160.1h1.7M835.1 184.4h1.7M881.8 160.2h1.7M803.4 212.7h1.7M847.3 200.8h1.7M786.3 111.2h1.7M861.1 171.0h1.7M662.0 167.1h1.7M738.1 192.2h1.7M893.1 158.9h1.7M772.1 105.6h1.7M886.5 180.6h1.7M863.9 162.7h1.7M884.8 174.5h1.7M698.5 134.1h1.7M927.6 126.4h1.7M842.7 207.9h1.7M774.8 229.8h1.7M843.1 128.6h1.7M713.0 183.2h1.7M797.3 168.2h1.7M778.6 118.0h1.7M848.5 192.4h1.7M911.8 128.8h1.7M774.1 194.7h1.7M799.3 167.5h1.7M883.2 164.6h1.7M705.0 82.6h1.7M815.5 52.9h1.7M796.5 154.8h1.7M842.5 197.8h1.7M862.1 187.4h1.7M818.7 194.6h1.7M799.7 149.8h1.7M924.7 199.3h1.7M750.8 185.2h1.7M859.4 178.2h1.7M854.2 164.8h1.7M820.2 139.8h1.7M808.7 148.8h1.7M753.4 190.1h1.7M866.5 184.6h1.7M871.3 171.5h1.7M832.4 193.0h1.7M706.3 120.9h1.7M834.0 208.0h1.7M718.7 158.5h1.7M883.4 171.1h1.7M833.0 133.4h1.7M705.6 113.3h1.7M863.3 112.1h1.7M845.9 198.7h1.7M871.2 181.9h1.7M913.0 166.6h1.7M863.8 175.1h1.7M715.2 165.7h1.7M776.1 183.9h1.7M728.1 114.5h1.7M717.1 174.8h1.7M841.2 175.9h1.7"/>
<path stroke="#222288" stroke-width="1.7" d="M720.2 184.5h1.7M884.0 152.4h1.7M910.1 182.1h1.7M856.7 176.7h1.7M801.9 218.3h1.7M705.7 142.8h1.7M839.8 187.3h1.7M801.8 155.6h1.7M828.8 187.9h1.7M766.6 243.3h1.7M804.7 191.1h1.7M733.9 103.3h1.7M909.1 197.9h1.7M793.1 107.2h1.7M854.7 163.9h1.7M839.5 42.4h1.7M793.3 110.4h1.7M838.6 183.8h1.7M947.3 164.3h1.7M726.0 182.0h1.7M757.2 195.0h1.7M778.6 156.9h1.7M927.6 164.8h1.7M927.3 140.1h1.7M773.4 93.1h1.7M816.3 185.9h1.7M811.1 144.0h1.7M804.6 138.9h1.7M724.8 107.9h1.7M887.6 193.3h1.7M838.0 15.8h1.7M735.6 108.8h1.7M715.5 135.4h1.7M850.9 182.8h1.7M841.4 204.1h1.7M728.0 179.6h1.7M685.2 143.6h1.7M809.4 124.7h1.7M756.6 188.5h1.7M920.7 188.4h1.7M732.5 190.9h1.7M861.1 178.1h1.7M839.2 177.9h1.7M743.3 118.7h1.7M794.1 184.0h1.7M843.0 125.4h1.7M756.3 102.1h1.7M893.4 130.0h1.7M879.8 160.5h1.7M853.3 196.1h1.7M838.1 208.4h1.7M853.2 187.5h1.7M837.6 193.2h1.7M810.8 123.5h1.7M758.2 236.9h1.7M812.6 125.4h1.7M801.2 168.3h1.7M850.8 193.2h1.7M867.1 166.5h1.7M826.1 209.0h1.7M891.2 149.8h1.7M844.4 188.8h1.7M750.4 213.9h1.7M874.5 150.2h1.7M893.1 91.4h1.7M828.1 127.0h1.7M756.6 196.9h1.7M768.2 173.7h1.7M850.1 223.3h1.7M821.2 179.8h1.7M758.6 206.0h1.7M697.7 134.0h1.7M736.0 105.4h1.7M793.2 183.3h1.7"/>
<path stroke="#1c1cb0" stroke-width="1.7" d="M751.1 166.9h1.7M733.5 128.4h1.7M773.1 167.9h1.7M781.7 156.4h1.7M753.8 173.6h1.7M760.7 113.8h1.7M733.8 160.9h1.7M732.0 178.8h1.7M872.4 167.4h1.7M806.1 138.8h1.7M716.8 126.7h1.7M770.6 128.1h1.7M797.1 164.1h1.7M743.3 169.4h1.7M771.7 117.5h1.7M763.8 106.0h1.7M708.5 163.8h1.7M862.7 175.0h1.7M731.2 139.0h1.7M868.0 177.1h1.7M770.4 170.7h1.7M864.3 165.8h1.7M866.5 170.3h1.7M876.8 168.5h1.7M700.4 150.6h1.7M756.0 169.7h1.7M788.4 121.9h1.7M848.6 191.6h1.7M701.9 148.1h1.7M749.5 167.7h1.7M750.4 178.4h1.7M804.4 140.9h1.7M709.2 143.5h1.7M733.9 117.1h1.7M760.1 123.0h1.7M849.6 179.0h1.7M796.7 160.7h1.7M722.2 166.5h1.7M759.3 167.3h1.7M801.8 149.9h1.7M869.3 183.6h1.7M717.0 160.7h1.7M845.7 185.6h1.7M765.1 184.5h1.7M748.6 162.2h1.7M758.5 110.3h1.7M756.8 113.6h1.7M769.8 180.7h1.7M699.3 150.7h1.7M740.7 174.1h1.7M778.8 120.1h1.7M778.9 165.9h1.7M715.7 140.1h1.7M857.4 177.4h1.7M858.9 190.2h1.7M843.9 184.9h1.7M700.6 140.1h1.7M781.6 157.0h1.7M772.4 111.5h1.7M777.7 119.2h1.7M771.1 157.9h1.7M868.8 174.7h1.7M788.4 134.9h1.7M789.5 173.4h1.7M775.6 181.3h1.7M733.7 108.5h1.7M796.3 160.7h1.7M755.6 108.7h1.7M781.8 175.1h1.7M761.4 179.7h1.7M766.7 107.8h1.7M778.9 134.7h1.7M753.8 122.3h1.7M719.9 148.2h1.7M772.5 176.9h1.7M856.5 181.7h1.7M753.0 123.8h1.7M773.5 106.8h1.7M723.3 164.3h1.7M789.1 113.6h1.7M877.0 157.8h1.7M720.6 121.8h1.7M800.5 130.4h1.7M794.8 144.0h1.7M773.8 166.6h1.7M862.6 174.1h1.7M727.3 129.7h1.7M696.5 142.2h1.7M725.6 133.5h1.7M877.3 170.8h1.7M767.7 164.4h1.7M766.5 117.0h1.7M802.6 146.2h1.7M751.8 147.1h1.7M718.9 139.4h1.7M765.2 178.3h1.7M790.4 173.5h1.7M713.2 126.8h1.7M861.5 166.1h1.7M855.1 192.2h1.7M741.0 161.2h1.7M763.7 128.6h1.7M845.3 181.6h1.7M741.6 118.5h1.7M736.1 147.9h1.7M739.9 164.9h1.7M717.9 128.7h1.7M721.7 123.7h1.7M706.0 162.8h1.7M852.2 169.1h1.7M771.3 165.9h1.7M789.2 118.9h1.7M799.1 128.9h1.7M783.6 141.0h1.7M772.0 148.0h1.7M795.4 140.7h1.7M762.4 171.7h1.7M702.5 150.3h1.7M801.9 135.6h1.7M717.0 138.4h1.7"/>
<path stroke="#0a0ae6" stroke-width="1.7" d="M714.0 161.9h1.7M752.8 116.2h1.7M716.3 128.8h1.7M790.8 153.3h1.7M782.7 172.2h1.7M761.5 156.1h1.7M773.9 126.9h1.7M779.3 153.3h1.7M723.0 127.6h1.7M728.4 158.2h1.7M796.7 125.0h1.7M774.2 133.6h1.7M750.0 162.6h1.7M764.6 115.1h1.7M776.5 137.5h1.7M708.6 146.9h1.7M744.4 158.5h1.7M710.8 151.2h1.7M747.2 177.6h1.7M714.2 140.5h1.7M742.7 177.9h1.7M764.3 145.1h1.7M766.8 178.5h1.7M769.2 133.3h1.7M747.9 174.7h1.7M759.0 110.5h1.7M721.5 148.6h1.7M852.8 181.1h1.7M764.4 127.1h1.7M756.9 137.9h1.7M774.0 119.6h1.7M757.9 150.6h1.7M737.0 132.0h1.7M777.1 139.9h1.7M751.1 174.1h1.7M741.6 159.6h1.7M769.4 114.3h1.7M740.4 167.4h1.7M709.1 129.5h1.7M793.7 124.5h1.7M865.2 184.0h1.7M789.5 140.1h1.7M735.7 165.8h1.7M742.7 148.5h1.7M797.5 145.6h1.7M721.4 144.8h1.7M782.4 161.7h1.7M741.7 172.7h1.7M701.1 141.0h1.7M782.9 146.2h1.7M795.3 141.1h1.7M765.8 170.0h1.7M789.8 169.2h1.7M776.1 154.3h1.7M728.3 152.6h1.7M793.6 147.1h1.7M706.6 148.8h1.7M725.9 140.2h1.7M739.5 166.0h1.7M759.6 118.2h1.7M726.8 119.8h1.7M758.3 109.6h1.7M781.7 128.9h1.7M742.0 152.0h1.7M790.6 127.8h1.7M748.7 118.0h1.7M737.1 170.4h1.7M722.4 125.2h1.7M793.2 163.1h1.7M740.5 116.1h1.7M748.8 171.4h1.7M764.0 168.1h1.7M729.4 173.1h1.7M760.3 143.4h1.7M762.4 114.8h1.7M722.5 151.6h1.7M773.8 144.2h1.7M733.3 161.0h1.7M754.2 114.6h1.7M727.0 136.1h1.7M753.9 151.3h1.7M764.1 177.8h1.7M765.5 170.8h1.7M727.5 159.3h1.7M785.2 167.4h1.7M737.7 129.7h1.7M786.7 149.9h1.7M721.2 137.3h1.7M783.1 167.8h1.7M742.0 166.6h1.7M703.4 152.0h1.7M763.1 164.1h1.7M736.7 139.2h1.7M746.0 107.9h1.7M776.2 153.4h1.7M755.7 110.6h1.7M740.1 157.2h1.7M789.2 166.3h1.7M753.6 154.5h1.7M763.0 110.3h1.7M710.6 147.9h1.7M735.2 178.2h1.7M728.8 118.9h1.7M740.1 111.8h1.7M706.2 151.4h1.7M719.8 161.8h1.7M793.7 136.9h1.7M801.8 131.1h1.7M790.0 169.2h1.7M777.0 140.9h1.7M733.9 156.1h1.7M722.8 141.6h1.7M726.9 170.5h1.7M857.9 189.4h1.7M778.9 137.6h1.7M739.0 130.6h1.7M711.3 149.3h1.7M743.9 167.5h1.7M794.5 156.0h1.7M729.8 120.4h1.7M753.2 122.8h1.7M734.7 151.9h1.7M729.5 131.7h1.7M733.9 135.0h1.7M726.5 124.6h1.7M732.1 150.1h1.7M772.5 159.9h1.7M773.8 173.4h1.7M782.1 171.2h1.7M751.3 128.1h1.7M728.1 134.9h1.7M731.2 156.5h1.7M738.0 136.6h1.7M741.2 167.4h1.7M720.3 134.6h1.7M754.8 167.6h1.7M718.1 165.1h1.7M730.1 147.0h1.7M770.7 111.3h1.7M779.9 153.5h1.7M764.1 177.9h1.7M729.3 172.9h1.7M865.3 177.9h1.7M727.4 114.2h1.7"/>
<path stroke="#18b8e8" stroke-width="1.7" d="M753.4 140.3h1.7M788.0 124.2h1.7M766.6 121.9h1.7M731.4 144.9h1.7M761.8 161.6h1.7M759.0 146.9h1.7M715.8 148.7h1.7M775.5 137.7h1.7M728.0 149.2h1.7M787.0 165.5h1.7M744.8 181.6h1.7M724.9 139.6h1.7M783.7 120.7h1.7M750.8 157.9h1.7M728.9 131.1h1.7M724.5 147.6h1.7M735.1 160.5h1.7M725.1 158.9h1.7M776.4 115.3h1.7M792.2 147.3h1.7M734.5 155.9h1.7M742.6 130.9h1.7M730.8 136.5h1.7M712.3 160.3h1.7M724.1 123.8h1.7M727.1 141.4h1.7M752.9 142.0h1.7M736.6 115.1h1.7M768.0 128.4h1.7M763.9 135.7h1.7M772.3 114.9h1.7M795.7 129.5h1.7M779.0 128.9h1.7M739.7 114.8h1.7M787.7 147.4h1.7M752.2 168.4h1.7M745.2 143.2h1.7M740.4 121.8h1.7M795.5 128.1h1.7M727.4 159.1h1.7M763.0 127.0h1.7M754.0 126.8h1.7M720.4 137.9h1.7M732.0 145.0h1.7M738.4 155.3h1.7M723.4 121.8h1.7M782.2 158.1h1.7M724.8 129.9h1.7M718.0 134.5h1.7M745.8 137.0h1.7M766.8 145.2h1.7M773.7 109.8h1.7M770.6 139.3h1.7M732.5 148.8h1.7M718.9 137.2h1.7M724.3 151.8h1.7"/>
<path stroke="#18d418" stroke-width="1.7" d="M756.7 172.3h1.7M748.2 145.3h1.7M742.4 131.5h1.7M764.6 165.6h1.7M726.4 138.5h1.7M757.7 150.9h1.7M753.6 150.4h1.7M772.6 119.2h1.7M749.9 137.0h1.7M789.2 130.0h1.7M735.3 135.9h1.7M729.1 139.8h1.7M777.5 124.1h1.7M724.7 141.7h1.7M771.1 155.2h1.7M736.2 118.7h1.7M747.3 128.8h1.7M726.7 130.5h1.7M763.7 123.3h1.7M731.3 146.9h1.7M761.8 155.5h1.7M749.0 139.9h1.7M742.7 139.8h1.7M750.0 154.3h1.7M757.9 141.8h1.7M723.1 142.7h1.7M745.6 144.3h1.7M762.9 157.4h1.7M743.7 144.1h1.7M727.9 127.8h1.7M752.7 151.4h1.7M731.4 137.6h1.7M769.4 139.2h1.7M770.3 158.5h1.7M760.6 122.9h1.7M754.6 144.8h1.7M744.8 136.2h1.7M753.8 160.1h1.7M755.1 123.3h1.7M747.8 145.9h1.7M766.5 152.7h1.7M788.3 149.1h1.7M755.5 135.8h1.7M735.0 163.0h1.7M741.4 137.1h1.7M735.2 126.7h1.7M777.6 126.6h1.7M750.6 150.1h1.7M744.0 140.4h1.7M770.3 134.8h1.7M752.0 136.5h1.7M754.4 127.2h1.7M748.0 133.1h1.7M777.6 142.3h1.7M766.6 163.3h1.7M786.9 166.8h1.7M751.0 138.9h1.7M737.9 158.5h1.7M785.8 160.0h1.7M761.3 132.7h1.7M743.2 138.5h1.7M763.4 135.3h1.7M764.3 136.4h1.7M770.9 147.7h1.7M794.7 133.2h1.7M762.5 153.6h1.7M739.1 147.1h1.7M743.7 124.8h1.7M753.8 130.6h1.7M736.2 150.1h1.7M758.1 124.4h1.7M751.6 127.3h1.7M764.2 139.8h1.7M780.8 140.2h1.7M757.1 154.6h1.7M792.4 148.9h1.7M732.7 140.1h1.7M747.7 133.8h1.7M770.7 130.6h1.7M728.5 158.7h1.7M775.4 126.7h1.7M730.8 142.6h1.7M760.6 152.4h1.7M742.4 156.9h1.7M752.7 131.3h1.7M756.4 130.3h1.7M766.0 142.9h1.7M728.2 147.0h1.7M787.3 142.6h1.7M750.5 131.9h1.7M760.8 108.0h1.7M771.8 151.5h1.7M759.9 129.5h1.7M753.1 126.7h1.7M764.6 147.4h1.7M762.3 155.4h1.7M748.6 143.6h1.7M754.2 143.9h1.7M746.5 127.4h1.7M742.0 133.9h1.7M765.9 150.5h1.7M772.2 124.2h1.7M769.3 149.4h1.7M727.5 139.8h1.7M784.8 165.3h1.7M722.8 154.4h1.7M740.9 133.7h1.7M741.6 159.5h1.7M735.0 126.8h1.7M792.5 153.8h1.7M744.3 131.2h1.7M745.8 176.6h1.7M779.9 122.6h1.7M754.6 139.0h1.7M761.4 136.8h1.7M733.2 143.6h1.7M855.9 176.0h1.7M763.1 135.3h1.7M758.6 139.5h1.7M719.2 153.2h1.7M731.8 132.2h1.7M766.8 130.1h1.7M749.7 140.9h1.7M737.3 138.0h1.7M747.1 118.8h1.7M756.3 132.5h1.7M769.5 141.6h1.7M726.0 138.6h1.7M772.9 131.8h1.7M749.0 148.5h1.7M750.1 157.5h1.7M716.4 149.3h1.7M757.9 154.1h1.7M769.8 155.8h1.7M745.7 154.4h1.7M761.0 147.7h1.7M723.2 169.6h1.7M760.1 130.1h1.7M728.6 166.4h1.7M727.6 143.2h1.7M784.9 157.2h1.7M737.2 161.0h1.7M739.0 162.5h1.7M740.3 155.5h1.7M796.1 130.6h1.7M741.2 147.0h1.7M775.9 123.8h1.7M764.5 153.0h1.7M761.2 134.8h1.7M777.6 137.5h1.7M772.4 143.0h1.7M737.8 141.4h1.7"/>
<path stroke="#e6e618" stroke-width="1.7" d="M765.4 138.1h1.7M744.7 140.5h1.7M744.7 143.3h1.7M767.4 145.1h1.7M737.6 139.7h1.7M753.0 150.4h1.7M757.9 149.2h1.7M727.1 135.0h1.7M751.1 149.6h1.7M754.4 111.3h1.7M754.7 136.7h1.7M744.8 145.8h1.7M763.9 135.4h1.7M726.1 167.9h1.7M726.0 153.5h1.7M734.7 145.1h1.7M749.3 139.1h1.7M743.1 139.2h1.7M725.9 142.3h1.7M755.1 145.0h1.7M745.2 142.8h1.7M745.8 146.4h1.7M780.5 138.9h1.7M742.1 122.6h1.7M743.5 131.8h1.7M762.3 124.7h1.7M789.7 139.7h1.7M771.8 148.4h1.7M766.9 142.0h1.7M764.9 133.4h1.7M758.9 114.0h1.7M775.7 142.2h1.7M747.4 141.8h1.7M747.3 132.5h1.7M756.7 150.3h1.7M724.2 141.7h1.7M738.1 146.2h1.7M775.4 140.4h1.7M737.1 141.1h1.7M755.4 145.4h1.7M749.9 130.9h1.7M766.1 143.6h1.7M761.3 148.0h1.7M731.1 150.1h1.7M737.1 143.0h1.7M763.6 157.8h1.7M760.2 140.0h1.7M755.1 140.8h1.7M743.4 147.7h1.7M740.6 131.7h1.7M753.0 138.7h1.7M714.4 149.7h1.7M743.0 146.2h1.7M739.7 125.4h1.7M747.5 136.6h1.7"/>
<path stroke="#f49018" stroke-width="1.7" d="M762.8 140.3h1.7M750.6 142.2h1.7M764.3 148.1h1.7M737.6 132.8h1.7M754.7 141.2h1.7M762.2 135.9h1.7M758.5 135.9h1.7M755.6 157.4h1.7M738.8 144.1h1.7M757.7 141.4h1.7M757.3 135.3h1.7M757.0 150.1h1.7M794.9 139.4h1.7M748.5 149.2h1.7M753.9 122.6h1.7M746.7 154.8h1.7M755.2 152.3h1.7M753.2 146.1h1.7M744.3 144.1h1.7M754.2 140.3h1.7M759.8 117.7h1.7M750.6 147.0h1.7M734.9 139.6h1.7M747.8 136.1h1.7M731.4 149.1h1.7M759.1 131.5h1.7M768.2 148.0h1.7M745.3 142.3h1.7M738.5 135.6h1.7M732.9 141.3h1.7"/>
<path stroke="#e81818" stroke-width="1.7" d="M755.9 144.6h1.7M744.9 143.3h1.7M750.3 152.1h1.7M748.9 147.3h1.7M742.2 149.0h1.7M755.1 141.8h1.7M749.4 142.4h1.7"/>
<rect x="647.0" y="11.0" width="52.0" height="41.0" fill="#fbfbfb" fill-opacity="0.9"/>
<rect x="944.0" y="11.0" width="61.0" height="41.0" fill="#fbfbfb" fill-opacity="0.9"/>
<rect x="647.0" y="271.0" width="54.0" height="41.0" fill="#fbfbfb" fill-opacity="0.9"/>
<rect x="934.0" y="271.0" width="71.0" height="41.0" fill="#fbfbfb" fill-opacity="0.9"/>
</g>
<path d="M646.4 213.2H1004.4" stroke="#151515" stroke-width="1.4"/>
<path d="M823.9 10.8V311.7" stroke="#555" stroke-width="1.5"/>
<rect x="646.4" y="10.8" width="358.0" height="300.9" fill="none" stroke="#111" stroke-width="1.5"/>
<path d="M166.3 311.90h10.5M172.0 289.47h4.8M172.0 276.35h4.8M172.0 267.05h4.8M168.8 259.83h8.0M172.0 253.93h4.8M172.0 248.94h4.8M172.0 244.62h4.8M172.0 240.81h4.8M166.3 237.40h10.5M172.0 214.97h4.8M172.0 201.85h4.8M172.0 192.55h4.8M168.8 185.33h8.0M172.0 179.43h4.8M172.0 174.44h4.8M172.0 170.12h4.8M172.0 166.31h4.8M166.3 162.90h10.5M172.0 140.47h4.8M172.0 127.35h4.8M172.0 118.05h4.8M168.8 110.83h8.0M172.0 104.93h4.8M172.0 99.94h4.8M172.0 95.62h4.8M172.0 91.81h4.8M166.3 88.40h10.5M172.0 65.97h4.8M172.0 52.85h4.8M172.0 43.55h4.8M168.8 36.33h8.0M172.0 30.43h4.8M172.0 25.44h4.8M172.0 21.12h4.8M172.0 17.31h4.8M166.3 13.90h10.5M176.80 311.9v8.8M203.73 311.9v4.0M219.48 311.9v4.0M230.65 311.9v4.0M239.32 311.9v6.5M246.41 311.9v4.0M252.39 311.9v4.0M257.58 311.9v4.0M262.16 311.9v4.0M266.25 311.9v8.8M293.18 311.9v4.0M308.93 311.9v4.0M320.10 311.9v4.0M328.77 311.9v6.5M335.86 311.9v4.0M341.84 311.9v4.0M347.03 311.9v4.0M351.61 311.9v4.0M355.70 311.9v8.8M382.63 311.9v4.0M398.38 311.9v4.0M409.55 311.9v4.0M418.22 311.9v6.5M425.31 311.9v4.0M431.29 311.9v4.0M436.48 311.9v4.0M441.06 311.9v4.0M445.15 311.9v8.8M472.08 311.9v4.0M487.83 311.9v4.0M499.00 311.9v4.0M507.67 311.9v6.5M514.76 311.9v4.0M520.74 311.9v4.0M525.93 311.9v4.0M530.51 311.9v4.0M534.60 311.9v8.8M635.9 311.70h10.5M641.6 289.15h4.8M641.6 275.96h4.8M641.6 266.61h4.8M638.4 259.35h8.0M641.6 253.42h4.8M641.6 248.40h4.8M641.6 244.06h4.8M641.6 240.23h4.8M635.9 236.80h10.5M641.6 214.25h4.8M641.6 201.06h4.8M641.6 191.71h4.8M638.4 184.45h8.0M641.6 178.52h4.8M641.6 173.50h4.8M641.6 169.16h4.8M641.6 165.33h4.8M635.9 161.90h10.5M641.6 139.35h4.8M641.6 126.16h4.8M641.6 116.81h4.8M638.4 109.55h8.0M641.6 103.62h4.8M641.6 98.60h4.8M641.6 94.26h4.8M641.6 90.43h4.8M635.9 87.00h10.5M641.6 64.45h4.8M641.6 51.26h4.8M641.6 41.91h4.8M638.4 34.65h8.0M641.6 28.72h4.8M641.6 23.70h4.8M641.6 19.36h4.8M641.6 15.53h4.8M635.9 12.10h10.5M646.40 311.7v8.8M673.30 311.7v4.0M689.03 311.7v4.0M700.19 311.7v4.0M708.85 311.7v6.5M715.93 311.7v4.0M721.91 311.7v4.0M727.09 311.7v4.0M731.66 311.7v4.0M735.75 311.7v8.8M762.65 311.7v4.0M778.38 311.7v4.0M789.54 311.7v4.0M798.20 311.7v6.5M805.28 311.7v4.0M811.26 311.7v4.0M816.44 311.7v4.0M821.01 311.7v4.0M825.10 311.7v8.8M852.00 311.7v4.0M867.73 311.7v4.0M878.89 311.7v4.0M887.55 311.7v6.5M894.63 311.7v4.0M900.61 311.7v4.0M905.79 311.7v4.0M910.36 311.7v4.0M914.45 311.7v8.8M941.35 311.7v4.0M957.08 311.7v4.0M968.24 311.7v4.0M976.90 311.7v6.5M983.98 311.7v4.0M989.96 311.7v4.0M995.14 311.7v4.0M999.71 311.7v4.0M1003.80 311.7v8.8" stroke="#111" stroke-width="1.5" fill="none"/>
<path d="M69.3 26V371.7H1000" stroke="#111" stroke-width="1.3" fill="none"/>
<path d="M69.4 13.6L65.9 27.2H72.9Z" fill="#111"/>
<path d="M1012.6 371.7L999.2 368.1V375.3Z" fill="#111"/>
<clipPath id="cx4" clipPathUnits="userSpaceOnUse"><rect x="0" y="0" width="545" height="432"/></clipPath>
<text transform="translate(182.46 29.90) scale(1.1778 1)" font-family='"Liberation Sans", sans-serif' font-weight="bold" font-size="13.57" fill="#000" stroke="#000" stroke-width="0.30">Q1</text>
<text transform="translate(182.64 51.10) scale(1.1440 1)" font-family='"Liberation Sans", sans-serif' font-weight="bold" font-size="14.43" fill="#000" stroke="#000" stroke-width="0.30">0.955%</text>
<text transform="translate(480.00 30.30) scale(1.2388 1)" font-family='"Liberation Sans", sans-serif' font-weight="bold" font-size="14.14" fill="#000" stroke="#000" stroke-width="0.30">Q2</text>
<text transform="translate(480.05 51.40) scale(1.0776 1)" font-family='"Liberation Sans", sans-serif' font-weight="bold" font-size="15.14" fill="#000" stroke="#000" stroke-width="0.30">67.4%</text>
<text transform="translate(182.26 285.80) scale(1.1517 1)" font-family='"Liberation Sans", sans-serif' font-weight="bold" font-size="14.00" fill="#000" stroke="#000" stroke-width="0.30">Q4</text>
<text transform="translate(182.78 306.40) scale(1.1430 1)" font-family='"Liberation Sans", sans-serif' font-weight="bold" font-size="14.14" fill="#000" stroke="#000" stroke-width="0.30">3.74%</text>
<text transform="translate(480.52 285.80) scale(1.2132 1)" font-family='"Liberation Sans", sans-serif' font-weight="bold" font-size="14.00" fill="#000" stroke="#000" stroke-width="0.30">Q3</text>
<text transform="translate(480.72 306.70) scale(1.1420 1)" font-family='"Liberation Sans", sans-serif' font-weight="bold" font-size="14.14" fill="#000" stroke="#000" stroke-width="0.30">27.9%</text>
<text transform="translate(365.05 35.40) scale(1.0292 1)" font-family='"Liberation Sans", sans-serif' font-weight="bold" font-size="18.29" fill="#000">CD11c+</text>
<text transform="translate(370.46 57.60) scale(0.9458 1)" font-family='"Liberation Sans", sans-serif' font-weight="bold" font-size="19.43" fill="#000">95.3%</text>
<text transform="translate(651.55 27.60) scale(1.1827 1)" font-family='"Liberation Sans", sans-serif' font-weight="bold" font-size="13.71" fill="#000" stroke="#000" stroke-width="0.30">Q1</text>
<text transform="translate(651.72 48.60) scale(1.1552 1)" font-family='"Liberation Sans", sans-serif' font-weight="bold" font-size="13.86" fill="#000" stroke="#000" stroke-width="0.30">85.3%</text>
<text transform="translate(949.94 27.40) scale(1.1709 1)" font-family='"Liberation Sans", sans-serif' font-weight="bold" font-size="14.14" fill="#000" stroke="#000" stroke-width="0.30">Q2</text>
<text transform="translate(950.54 48.60) scale(1.1149 1)" font-family='"Liberation Sans", sans-serif' font-weight="bold" font-size="14.29" fill="#000" stroke="#000" stroke-width="0.30">13.1%</text>
<text transform="translate(651.96 285.70) scale(1.1950 1)" font-family='"Liberation Sans", sans-serif' font-weight="bold" font-size="13.43" fill="#000" stroke="#000" stroke-width="0.30">Q4</text>
<text transform="translate(651.63 306.40) scale(1.1727 1)" font-family='"Liberation Sans", sans-serif' font-weight="bold" font-size="13.77" fill="#000" stroke="#000" stroke-width="0.30">1.17%</text>
<text transform="translate(939.91 285.60) scale(1.2245 1)" font-family='"Liberation Sans", sans-serif' font-weight="bold" font-size="14.00" fill="#000" stroke="#000" stroke-width="0.30">Q3</text>
<text transform="translate(939.94 306.70) scale(1.1554 1)" font-family='"Liberation Sans", sans-serif' font-weight="bold" font-size="14.29" fill="#000" stroke="#000" stroke-width="0.30">0.414%</text>
<text transform="translate(689.65 31.00) scale(1.0860 1)" font-family='"Liberation Sans", sans-serif' font-weight="bold" font-size="17.26" fill="#000">CD11c-CD11b+</text>
<text transform="translate(729.76 51.60) scale(1.0361 1)" font-family='"Liberation Sans", sans-serif' font-weight="bold" font-size="17.43" fill="#000">85.3%</text>
<text transform="translate(331.77 367.60) scale(1.0859 1)" font-family='"Liberation Sans", sans-serif' font-weight="bold" font-size="14.86" fill="#000" stroke="#000" stroke-width="0.30">FL2-H</text>
<text transform="translate(800.54 367.80) scale(1.0924 1)" font-family='"Liberation Sans", sans-serif' font-weight="bold" font-size="15.14" fill="#000" stroke="#000" stroke-width="0.30">FL2-H</text>
<text transform="translate(118.30 182.82) rotate(-90) scale(0.7652 1)" font-family='"Liberation Sans", sans-serif' font-weight="bold" font-size="17.25" fill="#000">FL4-H</text>
<text transform="translate(587.90 181.76) rotate(-90) scale(0.7888 1)" font-family='"Liberation Sans", sans-serif' font-weight="bold" font-size="17.39" fill="#000">FL4-H</text>
<text transform="translate(4.85 167.40) scale(1.0710 1)" font-family='"Liberation Sans", sans-serif' font-weight="bold" font-size="17.53" fill="#000">CD11b</text>
<text transform="translate(558.24 396.00) scale(1.0133 1)" font-family='"Liberation Sans", sans-serif' font-weight="bold" font-size="18.71" fill="#000">CD11c</text>
<text transform="translate(344.40 422.40) scale(0.9719 1)" font-family='"Liberation Sans", sans-serif' font-weight="normal" font-size="28.84" fill="#000">A</text>
<text transform="translate(819.48 421.30) scale(1.0628 1)" font-family='"Liberation Sans", sans-serif' font-weight="normal" font-size="28.41" fill="#000">B</text>
<text transform="translate(131.61 39.60) scale(1.1932 1)" font-family='"Liberation Sans", sans-serif' font-weight="bold" font-size="13.86" fill="#000" stroke="#000" stroke-width="0.30">10</text>
<text transform="translate(150.68 29.20) scale(1.1159 1)" font-family='"Liberation Sans", sans-serif' font-weight="bold" font-size="14.20" fill="#000" stroke="#000" stroke-width="0.30">4</text>
<text transform="translate(131.61 94.00) scale(1.1932 1)" font-family='"Liberation Sans", sans-serif' font-weight="bold" font-size="13.86" fill="#000" stroke="#000" stroke-width="0.30">10</text>
<text transform="translate(150.64 82.90) scale(1.4000 1)" font-family='"Liberation Sans", sans-serif' font-weight="bold" font-size="12.86" fill="#000" stroke="#000" stroke-width="0.30">3</text>
<text transform="translate(131.61 167.50) scale(1.2183 1)" font-family='"Liberation Sans", sans-serif' font-weight="bold" font-size="13.57" fill="#000" stroke="#000" stroke-width="0.30">10</text>
<text transform="translate(150.91 157.40) scale(1.1662 1)" font-family='"Liberation Sans", sans-serif' font-weight="bold" font-size="14.00" fill="#000" stroke="#000" stroke-width="0.30">2</text>
<text transform="translate(131.61 242.40) scale(1.1810 1)" font-family='"Liberation Sans", sans-serif' font-weight="bold" font-size="14.00" fill="#000" stroke="#000" stroke-width="0.30">10</text>
<text transform="translate(151.72 231.70) scale(0.9427 1)" font-family='"Liberation Sans", sans-serif' font-weight="bold" font-size="13.77" fill="#000" stroke="#000" stroke-width="0.30">1</text>
<text transform="translate(131.61 311.20) scale(1.1691 1)" font-family='"Liberation Sans", sans-serif' font-weight="bold" font-size="14.14" fill="#000" stroke="#000" stroke-width="0.30">10</text>
<text transform="translate(150.69 300.50) scale(1.3901 1)" font-family='"Liberation Sans", sans-serif' font-weight="bold" font-size="12.86" fill="#000" stroke="#000" stroke-width="0.30">0</text>
<text transform="translate(183.61 341.50) scale(1.2719 1)" font-family='"Liberation Sans", sans-serif' font-weight="bold" font-size="13.00" fill="#000" stroke="#000" stroke-width="0.30">10</text>
<text transform="translate(202.84 331.00) scale(1.2491 1)" font-family='"Liberation Sans", sans-serif' font-weight="bold" font-size="13.29" fill="#000" stroke="#000" stroke-width="0.30">0</text>
<text transform="translate(257.97 341.50) scale(1.1957 1)" font-family='"Liberation Sans", sans-serif' font-weight="bold" font-size="13.00" fill="#000" stroke="#000" stroke-width="0.30">10</text>
<text transform="translate(279.05 331.00) scale(0.8051 1)" font-family='"Liberation Sans", sans-serif' font-weight="bold" font-size="13.48" fill="#000" stroke="#000" stroke-width="0.30">1</text>
<text transform="translate(347.03 341.70) scale(1.2490 1)" font-family='"Liberation Sans", sans-serif' font-weight="bold" font-size="13.00" fill="#000" stroke="#000" stroke-width="0.30">10</text>
<text transform="translate(365.45 331.40) scale(1.3534 1)" font-family='"Liberation Sans", sans-serif' font-weight="bold" font-size="13.57" fill="#000" stroke="#000" stroke-width="0.30">2</text>
<text transform="translate(435.40 341.70) scale(1.2871 1)" font-family='"Liberation Sans", sans-serif' font-weight="bold" font-size="13.00" fill="#000" stroke="#000" stroke-width="0.30">10</text>
<text transform="translate(454.36 331.20) scale(1.2946 1)" font-family='"Liberation Sans", sans-serif' font-weight="bold" font-size="13.29" fill="#000" stroke="#000" stroke-width="0.30">3</text>
<text transform="translate(521.97 341.70) scale(1.3176 1)" font-family='"Liberation Sans", sans-serif' font-weight="bold" font-size="13.00" fill="#000" stroke="#000" stroke-width="0.30">10</text>
<g clip-path="url(#cx4)"><text transform="translate(541.38 331.20) scale(1.2039 1)" font-family='"Liberation Sans", sans-serif' font-weight="bold" font-size="13.48" fill="#000" stroke="#000" stroke-width="0.30">4</text></g>
<text transform="translate(601.00 37.20) scale(1.1483 1)" font-family='"Liberation Sans", sans-serif' font-weight="bold" font-size="14.57" fill="#000" stroke="#000" stroke-width="0.30">10</text>
<text transform="translate(619.98 26.70) scale(1.2869 1)" font-family='"Liberation Sans", sans-serif' font-weight="bold" font-size="12.61" fill="#000" stroke="#000" stroke-width="0.30">4</text>
<text transform="translate(601.00 92.20) scale(1.2594 1)" font-family='"Liberation Sans", sans-serif' font-weight="bold" font-size="13.29" fill="#000" stroke="#000" stroke-width="0.30">10</text>
<text transform="translate(620.46 81.50) scale(1.2268 1)" font-family='"Liberation Sans", sans-serif' font-weight="bold" font-size="13.86" fill="#000" stroke="#000" stroke-width="0.30">3</text>
<text transform="translate(601.00 166.40) scale(1.2461 1)" font-family='"Liberation Sans", sans-serif' font-weight="bold" font-size="13.43" fill="#000" stroke="#000" stroke-width="0.30">10</text>
<text transform="translate(620.19 156.00) scale(1.2750 1)" font-family='"Liberation Sans", sans-serif' font-weight="bold" font-size="13.29" fill="#000" stroke="#000" stroke-width="0.30">2</text>
<text transform="translate(601.00 241.70) scale(1.1713 1)" font-family='"Liberation Sans", sans-serif' font-weight="bold" font-size="14.29" fill="#000" stroke="#000" stroke-width="0.30">10</text>
<text transform="translate(620.90 231.00) scale(0.9535 1)" font-family='"Liberation Sans", sans-serif' font-weight="bold" font-size="14.06" fill="#000" stroke="#000" stroke-width="0.30">1</text>
<text transform="translate(601.00 311.10) scale(1.2201 1)" font-family='"Liberation Sans", sans-serif' font-weight="bold" font-size="13.71" fill="#000" stroke="#000" stroke-width="0.30">10</text>
<text transform="translate(619.79 300.50) scale(1.3599 1)" font-family='"Liberation Sans", sans-serif' font-weight="bold" font-size="13.14" fill="#000" stroke="#000" stroke-width="0.30">0</text>
<text transform="translate(652.88 341.50) scale(1.2548 1)" font-family='"Liberation Sans", sans-serif' font-weight="bold" font-size="13.57" fill="#000" stroke="#000" stroke-width="0.30">10</text>
<text transform="translate(671.69 331.10) scale(1.3437 1)" font-family='"Liberation Sans", sans-serif' font-weight="bold" font-size="13.14" fill="#000" stroke="#000" stroke-width="0.30">0</text>
<text transform="translate(726.77 341.90) scale(1.2621 1)" font-family='"Liberation Sans", sans-serif' font-weight="bold" font-size="13.57" fill="#000" stroke="#000" stroke-width="0.30">10</text>
<text transform="translate(746.70 331.20) scale(0.9438 1)" font-family='"Liberation Sans", sans-serif' font-weight="bold" font-size="14.20" fill="#000" stroke="#000" stroke-width="0.30">1</text>
<text transform="translate(817.04 342.00) scale(1.2923 1)" font-family='"Liberation Sans", sans-serif' font-weight="bold" font-size="13.71" fill="#000" stroke="#000" stroke-width="0.30">10</text>
<text transform="translate(836.20 331.20) scale(1.3455 1)" font-family='"Liberation Sans", sans-serif' font-weight="bold" font-size="12.29" fill="#000" stroke="#000" stroke-width="0.30">2</text>
<text transform="translate(904.51 341.90) scale(1.2183 1)" font-family='"Liberation Sans", sans-serif' font-weight="bold" font-size="13.57" fill="#000" stroke="#000" stroke-width="0.30">10</text>
<text transform="translate(923.64 331.00) scale(1.3125 1)" font-family='"Liberation Sans", sans-serif' font-weight="bold" font-size="13.71" fill="#000" stroke="#000" stroke-width="0.30">3</text>
<text transform="translate(990.93 342.00) scale(1.2995 1)" font-family='"Liberation Sans", sans-serif' font-weight="bold" font-size="13.71" fill="#000" stroke="#000" stroke-width="0.30">10</text>
<text transform="translate(1009.69 331.20) scale(1.0390 1)" font-family='"Liberation Sans", sans-serif' font-weight="bold" font-size="15.07" fill="#000" stroke="#000" stroke-width="0.30">4</text>
</svg>
</body></html>
